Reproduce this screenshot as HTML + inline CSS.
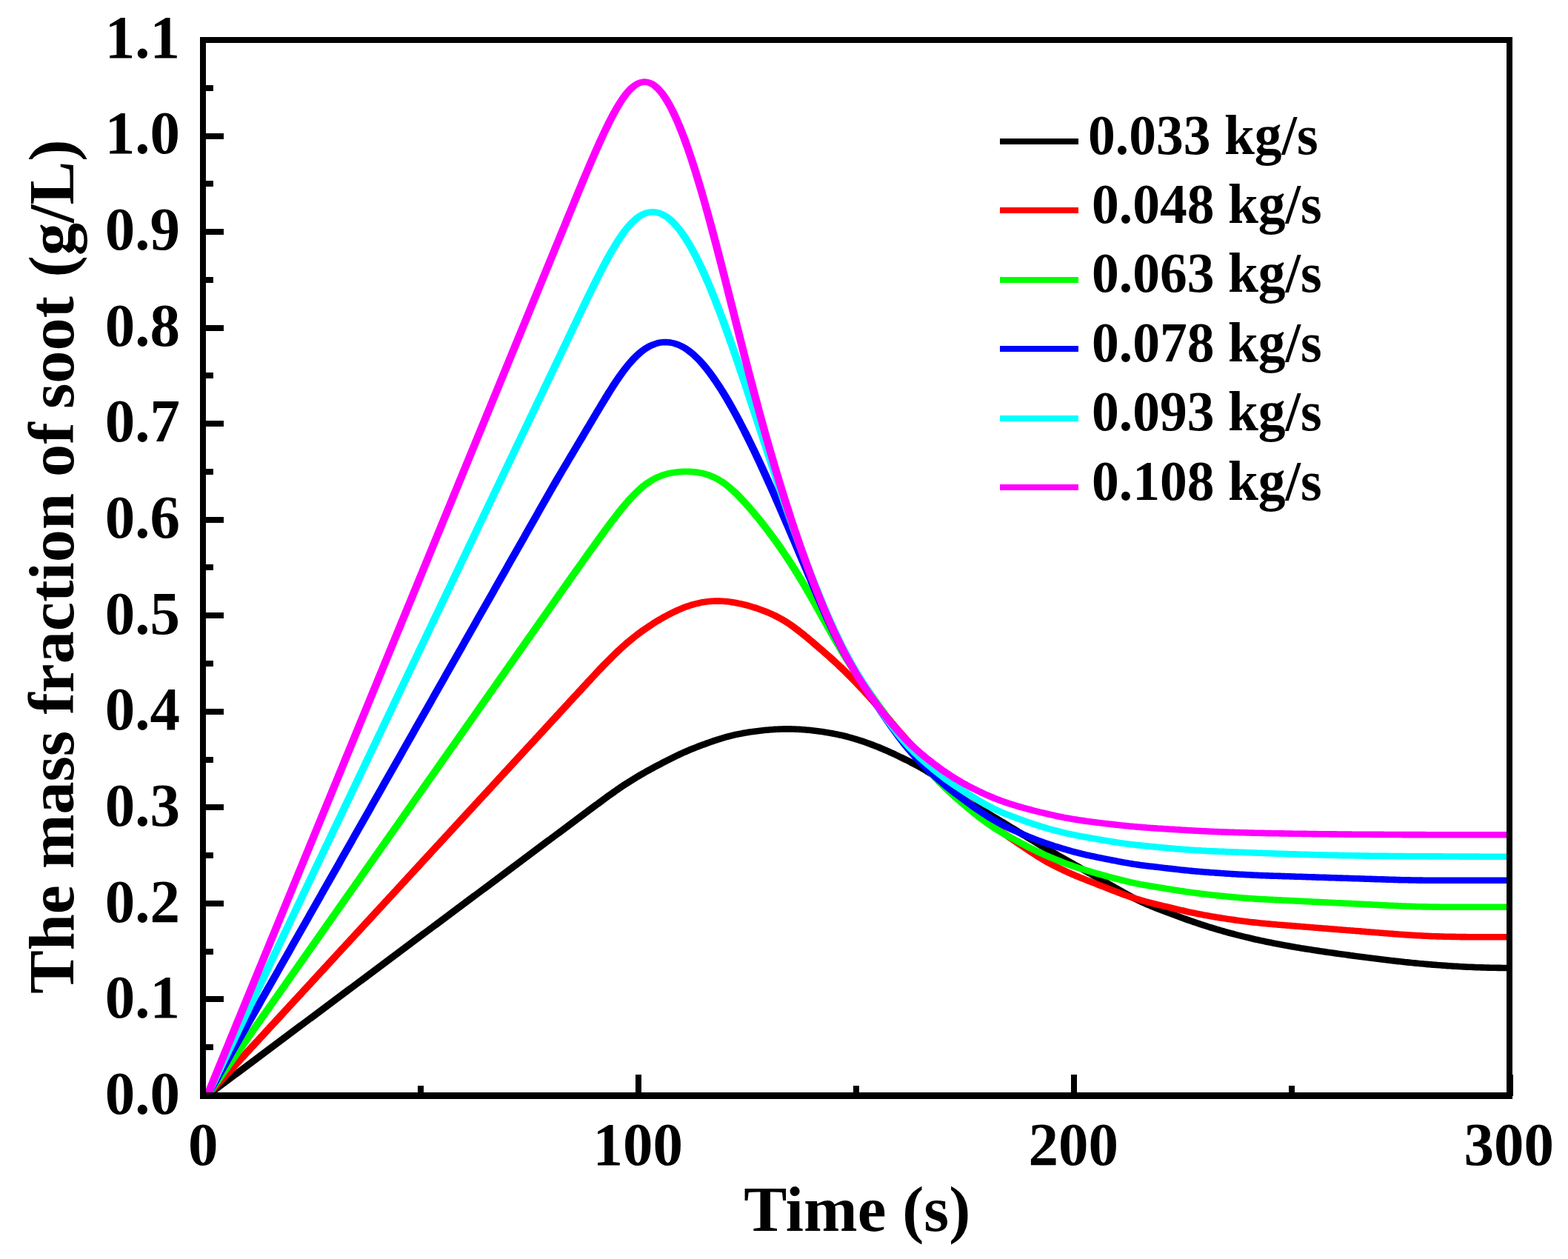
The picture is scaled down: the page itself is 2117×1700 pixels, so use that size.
<!DOCTYPE html>
<html lang="en"><head><meta charset="utf-8"><title>The mass fraction of soot vs time</title>
<style>
html,body{margin:0;padding:0;background:#fff;}
body{width:2117px;height:1700px;overflow:hidden;}
svg{display:block;}
text{font-family:"Liberation Serif",serif;font-weight:bold;fill:#000;}
.tk{font-size:83px;}
.tt{font-size:87.5px;}
.lg{font-size:76px;}
.cv{stroke:none;}
</style></head><body>
<svg width="2117" height="1700" viewBox="0 0 2117 1700" role="img" aria-label="The mass fraction of soot (g/L) versus Time (s) for six mass flow rates">
<rect x="0" y="0" width="2117" height="1700" fill="#fff"/>

<clipPath id="pc"><rect x="278" y="58" width="1760" height="1417"/></clipPath>
<g id="curves" clip-path="url(#pc)">
<path class="cv" fill="#000000" d="M282.8 1482.7 L284.8 1481.2 L286.8 1479.7 L288.8 1478.2 L290.8 1476.8 L292.8 1475.3 L294.8 1473.8 L296.8 1472.3 L298.8 1470.8 L300.8 1469.3 L302.8 1467.8 L304.8 1466.3 L306.8 1464.8 L308.8 1463.3 L310.8 1461.8 L312.8 1460.3 L314.8 1458.8 L316.8 1457.3 L318.8 1455.8 L320.8 1454.3 L322.8 1452.9 L324.8 1451.4 L326.8 1449.9 L328.8 1448.4 L330.8 1446.9 L332.8 1445.4 L334.8 1443.9 L336.8 1442.4 L338.8 1440.9 L340.8 1439.4 L342.8 1437.9 L344.8 1436.4 L346.8 1434.9 L348.8 1433.4 L350.8 1431.9 L352.8 1430.4 L354.8 1428.9 L356.8 1427.5 L358.8 1426.0 L360.8 1424.5 L362.8 1423.0 L364.8 1421.5 L366.8 1420.0 L368.8 1418.5 L370.8 1417.0 L372.8 1415.5 L374.8 1414.0 L376.8 1412.5 L378.8 1411.0 L380.8 1409.5 L382.8 1408.0 L384.8 1406.5 L386.8 1405.0 L388.8 1403.5 L390.8 1402.1 L392.8 1400.6 L394.8 1399.1 L396.8 1397.6 L398.8 1396.1 L400.8 1394.6 L402.8 1393.1 L404.8 1391.6 L406.8 1390.1 L408.8 1388.6 L410.8 1387.1 L412.8 1385.6 L414.8 1384.1 L416.8 1382.6 L418.8 1381.1 L420.8 1379.6 L422.8 1378.2 L424.8 1376.7 L426.8 1375.2 L428.8 1373.7 L430.8 1372.2 L432.8 1370.7 L434.8 1369.2 L436.8 1367.7 L438.8 1366.2 L440.8 1364.7 L442.8 1363.2 L444.8 1361.7 L446.8 1360.2 L448.8 1358.7 L450.8 1357.2 L452.8 1355.7 L454.8 1354.2 L456.8 1352.8 L458.8 1351.3 L460.8 1349.8 L462.8 1348.3 L464.8 1346.8 L466.8 1345.3 L468.8 1343.8 L470.8 1342.3 L472.8 1340.8 L474.8 1339.3 L476.8 1337.8 L478.8 1336.3 L480.8 1334.8 L482.8 1333.3 L484.8 1331.8 L486.8 1330.3 L488.8 1328.8 L490.8 1327.4 L492.8 1325.9 L494.8 1324.4 L496.8 1322.9 L498.8 1321.4 L500.8 1319.9 L502.8 1318.4 L504.8 1316.9 L506.8 1315.4 L508.8 1313.9 L510.8 1312.4 L512.8 1310.9 L514.8 1309.4 L516.8 1307.9 L518.8 1306.4 L520.8 1304.9 L522.8 1303.5 L524.8 1302.0 L526.8 1300.5 L528.8 1299.0 L530.8 1297.5 L532.8 1296.0 L534.8 1294.5 L536.8 1293.0 L538.8 1291.5 L540.8 1290.0 L542.8 1288.5 L544.8 1287.0 L546.8 1285.5 L548.8 1284.0 L550.8 1282.5 L552.8 1281.0 L554.8 1279.5 L556.8 1278.1 L558.8 1276.6 L560.8 1275.1 L562.8 1273.6 L564.8 1272.1 L566.8 1270.6 L568.8 1269.1 L570.8 1267.6 L572.8 1266.1 L574.8 1264.6 L576.8 1263.1 L578.8 1261.6 L580.8 1260.1 L582.8 1258.6 L584.8 1257.1 L586.8 1255.6 L588.8 1254.1 L590.8 1252.7 L592.8 1251.2 L594.8 1249.7 L596.8 1248.2 L598.8 1246.7 L600.8 1245.2 L602.8 1243.7 L604.8 1242.2 L606.8 1240.7 L608.8 1239.2 L610.8 1237.7 L612.8 1236.2 L614.8 1234.7 L616.8 1233.2 L618.8 1231.7 L620.8 1230.2 L622.8 1228.8 L624.8 1227.3 L626.8 1225.8 L628.8 1224.3 L630.8 1222.8 L632.8 1221.3 L634.8 1219.8 L636.8 1218.3 L638.8 1216.8 L640.8 1215.3 L642.8 1213.8 L644.8 1212.3 L646.8 1210.8 L648.8 1209.3 L650.8 1207.8 L652.8 1206.3 L654.8 1204.8 L656.8 1203.4 L658.8 1201.9 L660.8 1200.4 L662.8 1198.9 L664.8 1197.4 L666.8 1195.9 L668.8 1194.4 L670.8 1192.9 L672.8 1191.4 L674.8 1189.9 L676.8 1188.4 L678.8 1186.9 L680.8 1185.4 L682.8 1183.9 L684.8 1182.4 L686.8 1180.9 L688.8 1179.4 L690.8 1178.0 L692.8 1176.5 L694.8 1175.0 L696.8 1173.5 L698.8 1172.0 L700.8 1170.5 L702.8 1169.0 L704.8 1167.5 L706.8 1166.0 L708.8 1164.5 L710.8 1163.0 L712.8 1161.5 L714.8 1160.0 L716.8 1158.5 L718.8 1157.0 L720.8 1155.5 L722.8 1154.1 L724.8 1152.6 L726.8 1151.1 L728.8 1149.6 L730.8 1148.1 L732.8 1146.6 L734.8 1145.1 L736.8 1143.6 L738.8 1142.1 L740.8 1140.6 L742.8 1139.1 L744.8 1137.6 L746.8 1136.1 L748.8 1134.6 L750.8 1133.1 L752.8 1131.6 L754.8 1130.1 L756.8 1128.7 L758.8 1127.2 L760.8 1125.7 L762.8 1124.2 L764.8 1122.7 L766.8 1121.2 L768.8 1119.7 L770.8 1118.2 L772.8 1116.7 L774.8 1115.2 L776.8 1113.7 L778.8 1112.2 L780.8 1110.7 L782.8 1109.2 L784.8 1107.7 L786.8 1106.2 L788.8 1104.7 L790.8 1103.3 L792.8 1101.8 L794.8 1100.3 L796.8 1098.8 L798.8 1097.3 L800.8 1095.8 L802.8 1094.3 L804.8 1092.8 L806.8 1091.3 L808.8 1089.8 L810.8 1088.4 L812.8 1086.9 L814.8 1085.4 L816.7 1083.9 L818.7 1082.5 L820.7 1081.0 L822.7 1079.6 L824.7 1078.1 L826.7 1076.7 L828.7 1075.3 L830.7 1073.9 L832.7 1072.5 L834.6 1071.1 L836.6 1069.7 L838.6 1068.3 L840.6 1067.0 L842.6 1065.6 L844.5 1064.3 L846.5 1063.0 L848.5 1061.7 L850.5 1060.4 L852.5 1059.2 L854.4 1057.9 L856.4 1056.7 L858.4 1055.5 L860.4 1054.2 L862.3 1053.0 L864.3 1051.9 L866.3 1050.7 L868.3 1049.5 L870.3 1048.4 L872.2 1047.3 L874.2 1046.1 L876.2 1045.0 L878.2 1043.9 L880.2 1042.8 L882.2 1041.7 L884.2 1040.7 L886.1 1039.6 L888.1 1038.5 L890.1 1037.5 L892.1 1036.4 L894.1 1035.4 L896.1 1034.3 L898.1 1033.3 L900.1 1032.3 L902.0 1031.3 L904.0 1030.2 L906.0 1029.2 L908.0 1028.2 L910.0 1027.2 L912.0 1026.3 L914.0 1025.3 L915.9 1024.3 L917.9 1023.4 L919.9 1022.5 L921.9 1021.5 L923.8 1020.6 L925.8 1019.7 L927.8 1018.9 L929.8 1018.0 L931.7 1017.2 L933.7 1016.3 L935.7 1015.5 L937.7 1014.7 L939.6 1013.9 L941.6 1013.1 L943.6 1012.4 L945.6 1011.6 L947.5 1010.9 L949.5 1010.1 L951.5 1009.4 L953.5 1008.7 L955.5 1007.9 L957.5 1007.2 L959.5 1006.5 L961.4 1005.8 L963.4 1005.2 L965.4 1004.5 L967.4 1003.8 L969.4 1003.2 L971.3 1002.5 L973.3 1001.9 L975.3 1001.3 L977.2 1000.7 L979.2 1000.1 L981.2 999.6 L983.1 999.0 L985.1 998.5 L987.1 998.0 L989.0 997.5 L991.0 997.0 L993.0 996.6 L994.9 996.1 L996.9 995.7 L998.9 995.3 L1000.8 994.9 L1002.8 994.5 L1004.8 994.2 L1006.7 993.8 L1008.7 993.5 L1010.7 993.2 L1012.7 992.8 L1014.6 992.5 L1016.6 992.3 L1018.6 992.0 L1020.6 991.7 L1022.5 991.5 L1024.5 991.2 L1026.5 991.0 L1028.5 990.8 L1030.4 990.5 L1032.4 990.3 L1034.4 990.1 L1036.4 990.0 L1038.4 989.8 L1040.3 989.6 L1042.3 989.5 L1044.3 989.3 L1046.3 989.2 L1048.2 989.1 L1050.2 989.0 L1052.2 988.9 L1054.1 988.8 L1056.1 988.8 L1058.1 988.7 L1060.1 988.7 L1062.0 988.7 L1064.0 988.7 L1066.0 988.7 L1067.9 988.7 L1069.9 988.8 L1071.9 988.8 L1073.8 988.9 L1075.8 989.0 L1077.8 989.1 L1079.7 989.2 L1081.7 989.3 L1083.7 989.4 L1085.7 989.6 L1087.6 989.8 L1089.6 989.9 L1091.6 990.1 L1093.5 990.3 L1095.5 990.5 L1097.5 990.8 L1099.5 991.0 L1101.5 991.3 L1103.4 991.5 L1105.4 991.8 L1107.4 992.1 L1109.4 992.3 L1111.3 992.6 L1113.3 992.9 L1115.3 993.3 L1117.3 993.6 L1119.3 993.9 L1121.2 994.3 L1123.2 994.7 L1125.2 995.0 L1127.2 995.4 L1129.1 995.8 L1131.1 996.2 L1133.1 996.7 L1135.0 997.1 L1137.0 997.6 L1139.0 998.1 L1140.9 998.6 L1142.9 999.1 L1144.9 999.6 L1146.8 1000.1 L1148.8 1000.7 L1150.8 1001.3 L1152.7 1001.8 L1154.7 1002.4 L1156.7 1003.1 L1158.7 1003.7 L1160.6 1004.3 L1162.6 1005.0 L1164.6 1005.6 L1166.6 1006.3 L1168.5 1007.0 L1170.5 1007.7 L1172.5 1008.4 L1174.5 1009.2 L1176.4 1009.9 L1178.4 1010.7 L1180.4 1011.5 L1182.4 1012.2 L1184.3 1013.0 L1186.3 1013.9 L1188.3 1014.7 L1190.3 1015.5 L1192.2 1016.4 L1194.2 1017.2 L1196.2 1018.1 L1198.2 1019.0 L1200.2 1019.9 L1202.1 1020.8 L1204.1 1021.7 L1206.1 1022.6 L1208.1 1023.6 L1210.1 1024.5 L1212.1 1025.5 L1214.0 1026.4 L1216.0 1027.4 L1218.0 1028.4 L1220.0 1029.4 L1222.0 1030.3 L1224.0 1031.3 L1226.0 1032.3 L1227.9 1033.4 L1229.9 1034.4 L1231.9 1035.4 L1233.9 1036.5 L1235.8 1037.5 L1237.8 1038.6 L1239.8 1039.7 L1241.8 1040.8 L1243.7 1042.0 L1245.7 1043.1 L1247.7 1044.3 L1249.6 1045.5 L1251.6 1046.7 L1253.6 1047.9 L1255.5 1049.2 L1257.5 1050.5 L1259.5 1051.8 L1261.4 1053.1 L1263.4 1054.4 L1265.4 1055.8 L1267.4 1057.1 L1269.3 1058.5 L1271.3 1059.9 L1273.3 1061.3 L1275.3 1062.8 L1277.3 1064.2 L1279.3 1065.7 L1281.3 1067.1 L1283.2 1068.6 L1285.2 1070.1 L1287.2 1071.5 L1289.2 1073.0 L1291.2 1074.5 L1293.2 1076.0 L1295.2 1077.5 L1297.3 1078.9 L1299.3 1080.4 L1301.3 1081.8 L1303.3 1083.3 L1305.3 1084.7 L1307.3 1086.2 L1309.3 1087.6 L1311.4 1089.0 L1313.4 1090.4 L1315.4 1091.8 L1317.4 1093.1 L1319.4 1094.5 L1321.5 1095.8 L1323.5 1097.1 L1325.5 1098.4 L1327.5 1099.7 L1329.6 1101.0 L1331.6 1102.2 L1333.6 1103.5 L1335.6 1104.7 L1337.6 1106.0 L1339.6 1107.2 L1341.6 1108.4 L1343.6 1109.6 L1345.6 1110.8 L1347.6 1112.0 L1349.6 1113.2 L1351.6 1114.5 L1353.6 1115.7 L1355.6 1116.9 L1357.6 1118.1 L1359.6 1119.3 L1361.6 1120.5 L1363.6 1121.7 L1365.6 1122.9 L1367.6 1124.1 L1369.6 1125.3 L1371.6 1126.5 L1373.6 1127.8 L1375.6 1129.0 L1377.6 1130.2 L1379.6 1131.4 L1381.6 1132.6 L1383.6 1133.8 L1385.6 1135.0 L1387.6 1136.2 L1389.6 1137.4 L1391.6 1138.6 L1393.6 1139.8 L1395.6 1141.1 L1397.6 1142.3 L1399.7 1143.5 L1401.7 1144.7 L1403.7 1145.9 L1405.7 1147.1 L1407.7 1148.2 L1409.7 1149.4 L1411.7 1150.6 L1413.7 1151.8 L1415.7 1152.9 L1417.7 1154.1 L1419.7 1155.2 L1421.7 1156.4 L1423.7 1157.5 L1425.8 1158.7 L1427.8 1159.8 L1429.8 1160.9 L1431.8 1162.1 L1433.8 1163.2 L1435.8 1164.3 L1437.8 1165.5 L1439.8 1166.6 L1441.8 1167.7 L1443.8 1168.9 L1445.8 1170.0 L1447.8 1171.1 L1449.8 1172.3 L1451.8 1173.4 L1453.8 1174.5 L1455.8 1175.7 L1457.8 1176.8 L1459.8 1177.9 L1461.8 1179.1 L1463.8 1180.2 L1465.8 1181.3 L1467.8 1182.5 L1469.8 1183.6 L1471.8 1184.7 L1473.8 1185.9 L1475.8 1187.0 L1477.8 1188.1 L1479.8 1189.3 L1481.8 1190.4 L1483.8 1191.5 L1485.8 1192.6 L1487.8 1193.8 L1489.8 1194.9 L1491.8 1196.0 L1493.8 1197.2 L1495.8 1198.3 L1497.8 1199.4 L1499.8 1200.6 L1501.8 1201.7 L1503.8 1202.8 L1505.8 1204.0 L1507.8 1205.1 L1509.8 1206.2 L1511.8 1207.4 L1513.8 1208.5 L1515.8 1209.6 L1517.8 1210.8 L1519.8 1211.9 L1521.8 1213.0 L1523.9 1214.1 L1525.9 1215.1 L1527.9 1216.2 L1529.9 1217.2 L1532.0 1218.3 L1534.0 1219.3 L1536.1 1220.3 L1538.1 1221.2 L1540.1 1222.2 L1542.2 1223.1 L1544.2 1224.0 L1546.2 1224.9 L1548.3 1225.7 L1550.3 1226.6 L1552.3 1227.4 L1554.3 1228.3 L1556.3 1229.1 L1558.4 1229.9 L1560.4 1230.7 L1562.4 1231.5 L1564.4 1232.2 L1566.4 1233.0 L1568.4 1233.8 L1570.4 1234.6 L1572.4 1235.3 L1574.4 1236.1 L1576.4 1236.8 L1578.4 1237.6 L1580.5 1238.3 L1582.5 1239.1 L1584.5 1239.8 L1586.5 1240.6 L1588.5 1241.3 L1590.5 1242.1 L1592.5 1242.8 L1594.5 1243.5 L1596.5 1244.2 L1598.5 1244.9 L1600.5 1245.7 L1602.5 1246.4 L1604.5 1247.1 L1606.6 1247.8 L1608.6 1248.5 L1610.6 1249.2 L1612.6 1249.8 L1614.6 1250.5 L1616.6 1251.2 L1618.6 1251.9 L1620.6 1252.5 L1622.6 1253.2 L1624.7 1253.8 L1626.7 1254.5 L1628.7 1255.1 L1630.7 1255.7 L1632.7 1256.4 L1634.7 1257.0 L1636.7 1257.6 L1638.7 1258.2 L1640.7 1258.8 L1642.8 1259.4 L1644.8 1260.0 L1646.8 1260.6 L1648.8 1261.1 L1650.8 1261.7 L1652.8 1262.3 L1654.8 1262.8 L1656.8 1263.4 L1658.9 1264.0 L1660.9 1264.5 L1662.9 1265.0 L1664.9 1265.6 L1666.9 1266.1 L1668.9 1266.6 L1670.9 1267.1 L1672.9 1267.6 L1674.9 1268.1 L1677.0 1268.6 L1679.0 1269.1 L1681.0 1269.6 L1683.0 1270.1 L1685.0 1270.6 L1687.0 1271.1 L1689.0 1271.5 L1691.0 1272.0 L1693.0 1272.4 L1695.1 1272.9 L1697.1 1273.3 L1699.1 1273.8 L1701.1 1274.2 L1703.1 1274.6 L1705.1 1275.1 L1707.1 1275.5 L1709.1 1275.9 L1711.1 1276.3 L1713.1 1276.7 L1715.1 1277.1 L1717.2 1277.5 L1719.2 1277.9 L1721.2 1278.3 L1723.2 1278.7 L1725.2 1279.1 L1727.2 1279.5 L1729.2 1279.8 L1731.2 1280.2 L1733.2 1280.6 L1735.2 1281.0 L1737.2 1281.3 L1739.2 1281.7 L1741.3 1282.0 L1743.3 1282.4 L1745.3 1282.7 L1747.3 1283.1 L1749.3 1283.4 L1751.3 1283.7 L1753.3 1284.1 L1755.3 1284.4 L1757.3 1284.7 L1759.3 1285.1 L1761.3 1285.4 L1763.3 1285.7 L1765.3 1286.0 L1767.3 1286.3 L1769.3 1286.6 L1771.3 1287.0 L1773.3 1287.3 L1775.3 1287.6 L1777.4 1287.9 L1779.4 1288.2 L1781.4 1288.5 L1783.4 1288.8 L1785.4 1289.1 L1787.4 1289.4 L1789.4 1289.7 L1791.4 1290.0 L1793.4 1290.2 L1795.4 1290.5 L1797.4 1290.8 L1799.4 1291.1 L1801.4 1291.4 L1803.4 1291.7 L1805.4 1292.0 L1807.4 1292.2 L1809.4 1292.5 L1811.4 1292.8 L1813.4 1293.1 L1815.4 1293.3 L1817.4 1293.6 L1819.4 1293.9 L1821.4 1294.2 L1823.4 1294.4 L1825.4 1294.7 L1827.4 1295.0 L1829.4 1295.2 L1831.4 1295.5 L1833.4 1295.8 L1835.4 1296.0 L1837.4 1296.3 L1839.4 1296.5 L1841.4 1296.8 L1843.4 1297.1 L1845.5 1297.3 L1847.5 1297.6 L1849.5 1297.8 L1851.5 1298.1 L1853.5 1298.3 L1855.5 1298.6 L1857.5 1298.8 L1859.5 1299.1 L1861.5 1299.3 L1863.5 1299.6 L1865.5 1299.8 L1867.5 1300.1 L1869.5 1300.3 L1871.5 1300.5 L1873.5 1300.8 L1875.5 1301.0 L1877.5 1301.3 L1879.5 1301.5 L1881.5 1301.7 L1883.5 1301.9 L1885.5 1302.2 L1887.5 1302.4 L1889.5 1302.6 L1891.5 1302.8 L1893.5 1303.0 L1895.5 1303.3 L1897.5 1303.5 L1899.6 1303.7 L1901.6 1303.9 L1903.6 1304.1 L1905.6 1304.3 L1907.6 1304.5 L1909.6 1304.7 L1911.6 1304.9 L1913.6 1305.1 L1915.6 1305.3 L1917.6 1305.5 L1919.6 1305.6 L1921.6 1305.8 L1923.6 1306.0 L1925.6 1306.2 L1927.6 1306.4 L1929.6 1306.5 L1931.6 1306.7 L1933.6 1306.9 L1935.7 1307.0 L1937.7 1307.2 L1939.7 1307.3 L1941.7 1307.5 L1943.7 1307.6 L1945.7 1307.8 L1947.7 1307.9 L1949.7 1308.1 L1951.7 1308.2 L1953.7 1308.4 L1955.7 1308.5 L1957.7 1308.6 L1959.7 1308.7 L1961.7 1308.9 L1963.7 1309.0 L1965.7 1309.1 L1967.8 1309.2 L1969.8 1309.3 L1971.8 1309.4 L1973.8 1309.6 L1975.8 1309.7 L1977.8 1309.8 L1979.8 1309.9 L1981.8 1310.0 L1983.8 1310.0 L1985.8 1310.1 L1987.8 1310.2 L1989.8 1310.3 L1991.8 1310.4 L1993.8 1310.4 L1995.8 1310.5 L1997.9 1310.6 L1999.9 1310.7 L2001.9 1310.7 L2003.9 1310.8 L2005.9 1310.8 L2007.9 1310.9 L2009.9 1310.9 L2011.9 1311.0 L2013.9 1311.0 L2015.9 1311.1 L2017.9 1311.1 L2019.9 1311.1 L2021.9 1311.2 L2023.9 1311.2 L2025.9 1311.2 L2028.0 1311.3 L2030.0 1311.3 L2032.0 1311.3 L2034.0 1311.3 L2036.0 1311.3 L2038.0 1311.3 L2038.0 1302.7 L2036.0 1302.7 L2034.0 1302.7 L2032.0 1302.7 L2030.0 1302.7 L2028.0 1302.7 L2026.1 1302.6 L2024.1 1302.6 L2022.1 1302.6 L2020.1 1302.5 L2018.1 1302.5 L2016.1 1302.5 L2014.1 1302.4 L2012.1 1302.4 L2010.1 1302.3 L2008.1 1302.3 L2006.1 1302.2 L2004.1 1302.2 L2002.1 1302.1 L2000.1 1302.1 L1998.1 1302.0 L1996.2 1301.9 L1994.2 1301.9 L1992.2 1301.8 L1990.2 1301.7 L1988.2 1301.6 L1986.2 1301.5 L1984.2 1301.4 L1982.2 1301.4 L1980.2 1301.3 L1978.2 1301.2 L1976.2 1301.1 L1974.2 1301.0 L1972.2 1300.9 L1970.2 1300.7 L1968.2 1300.6 L1966.3 1300.5 L1964.3 1300.4 L1962.3 1300.3 L1960.3 1300.2 L1958.3 1300.0 L1956.3 1299.9 L1954.3 1299.8 L1952.3 1299.6 L1950.3 1299.5 L1948.3 1299.3 L1946.3 1299.2 L1944.3 1299.1 L1942.3 1298.9 L1940.3 1298.8 L1938.3 1298.6 L1936.3 1298.4 L1934.4 1298.3 L1932.4 1298.1 L1930.4 1297.9 L1928.4 1297.8 L1926.4 1297.6 L1924.4 1297.4 L1922.4 1297.2 L1920.4 1297.1 L1918.4 1296.9 L1916.4 1296.7 L1914.4 1296.5 L1912.4 1296.3 L1910.4 1296.1 L1908.4 1295.9 L1906.4 1295.7 L1904.4 1295.5 L1902.4 1295.3 L1900.4 1295.1 L1898.5 1294.9 L1896.5 1294.7 L1894.5 1294.5 L1892.5 1294.3 L1890.5 1294.0 L1888.5 1293.8 L1886.5 1293.6 L1884.5 1293.4 L1882.5 1293.1 L1880.5 1292.9 L1878.5 1292.7 L1876.5 1292.4 L1874.5 1292.2 L1872.5 1292.0 L1870.5 1291.7 L1868.5 1291.5 L1866.5 1291.3 L1864.5 1291.0 L1862.5 1290.8 L1860.5 1290.5 L1858.5 1290.3 L1856.5 1290.0 L1854.5 1289.8 L1852.5 1289.5 L1850.5 1289.3 L1848.5 1289.0 L1846.5 1288.8 L1844.6 1288.5 L1842.6 1288.2 L1840.6 1288.0 L1838.6 1287.7 L1836.6 1287.5 L1834.6 1287.2 L1832.6 1286.9 L1830.6 1286.7 L1828.6 1286.4 L1826.6 1286.1 L1824.6 1285.9 L1822.6 1285.6 L1820.6 1285.3 L1818.6 1285.1 L1816.6 1284.8 L1814.6 1284.5 L1812.6 1284.2 L1810.6 1284.0 L1808.6 1283.7 L1806.6 1283.4 L1804.6 1283.1 L1802.6 1282.8 L1800.6 1282.6 L1798.6 1282.3 L1796.6 1282.0 L1794.6 1281.7 L1792.6 1281.4 L1790.6 1281.1 L1788.6 1280.8 L1786.6 1280.5 L1784.6 1280.2 L1782.6 1279.9 L1780.6 1279.6 L1778.6 1279.3 L1776.7 1279.0 L1774.7 1278.7 L1772.7 1278.4 L1770.7 1278.1 L1768.7 1277.8 L1766.7 1277.5 L1764.7 1277.2 L1762.7 1276.8 L1760.7 1276.5 L1758.7 1276.2 L1756.7 1275.9 L1754.7 1275.5 L1752.7 1275.2 L1750.7 1274.9 L1748.7 1274.5 L1746.7 1274.2 L1744.7 1273.8 L1742.7 1273.5 L1740.8 1273.1 L1738.8 1272.8 L1736.8 1272.4 L1734.8 1272.1 L1732.8 1271.7 L1730.8 1271.3 L1728.8 1271.0 L1726.8 1270.6 L1724.8 1270.2 L1722.8 1269.8 L1720.8 1269.4 L1718.8 1269.0 L1716.9 1268.6 L1714.9 1268.2 L1712.9 1267.8 L1710.9 1267.4 L1708.9 1267.0 L1706.9 1266.6 L1704.9 1266.2 L1702.9 1265.7 L1700.9 1265.3 L1698.9 1264.8 L1696.9 1264.4 L1695.0 1264.0 L1693.0 1263.5 L1691.0 1263.0 L1689.0 1262.6 L1687.0 1262.1 L1685.0 1261.6 L1683.0 1261.2 L1681.0 1260.7 L1679.0 1260.2 L1677.1 1259.7 L1675.1 1259.2 L1673.1 1258.7 L1671.1 1258.2 L1669.1 1257.7 L1667.1 1257.1 L1665.1 1256.6 L1663.1 1256.1 L1661.1 1255.5 L1659.2 1255.0 L1657.2 1254.4 L1655.2 1253.9 L1653.2 1253.3 L1651.2 1252.7 L1649.2 1252.2 L1647.2 1251.6 L1645.2 1251.0 L1643.3 1250.4 L1641.3 1249.8 L1639.3 1249.2 L1637.3 1248.6 L1635.3 1248.0 L1633.3 1247.4 L1631.3 1246.7 L1629.3 1246.1 L1627.3 1245.5 L1625.4 1244.8 L1623.4 1244.2 L1621.4 1243.5 L1619.4 1242.8 L1617.4 1242.2 L1615.4 1241.5 L1613.4 1240.8 L1611.4 1240.1 L1609.4 1239.4 L1607.5 1238.8 L1605.5 1238.1 L1603.5 1237.3 L1601.5 1236.6 L1599.5 1235.9 L1597.5 1235.2 L1595.5 1234.5 L1593.5 1233.8 L1591.5 1233.0 L1589.5 1232.3 L1587.5 1231.5 L1585.5 1230.8 L1583.5 1230.1 L1581.6 1229.3 L1579.6 1228.6 L1577.6 1227.8 L1575.6 1227.0 L1573.6 1226.3 L1571.6 1225.5 L1569.6 1224.8 L1567.6 1224.0 L1565.6 1223.2 L1563.6 1222.4 L1561.6 1221.6 L1559.7 1220.8 L1557.7 1220.0 L1555.7 1219.2 L1553.7 1218.4 L1551.7 1217.5 L1549.8 1216.7 L1547.8 1215.8 L1545.8 1214.9 L1543.9 1214.0 L1541.9 1213.1 L1539.9 1212.2 L1538.0 1211.2 L1536.0 1210.2 L1534.1 1209.2 L1532.1 1208.2 L1530.1 1207.2 L1528.1 1206.1 L1526.2 1205.0 L1524.2 1203.9 L1522.2 1202.8 L1520.2 1201.7 L1518.2 1200.6 L1516.2 1199.5 L1514.2 1198.3 L1512.2 1197.2 L1510.2 1196.1 L1508.2 1194.9 L1506.2 1193.8 L1504.2 1192.7 L1502.2 1191.5 L1500.2 1190.4 L1498.2 1189.3 L1496.2 1188.1 L1494.2 1187.0 L1492.2 1185.9 L1490.2 1184.7 L1488.2 1183.6 L1486.2 1182.5 L1484.2 1181.3 L1482.2 1180.2 L1480.2 1179.1 L1478.2 1177.9 L1476.2 1176.8 L1474.2 1175.7 L1472.2 1174.6 L1470.2 1173.4 L1468.2 1172.3 L1466.2 1171.2 L1464.2 1170.0 L1462.2 1168.9 L1460.2 1167.8 L1458.2 1166.6 L1456.2 1165.5 L1454.2 1164.4 L1452.2 1163.2 L1450.2 1162.1 L1448.2 1161.0 L1446.2 1159.8 L1444.2 1158.7 L1442.2 1157.6 L1440.2 1156.4 L1438.2 1155.3 L1436.2 1154.2 L1434.2 1153.0 L1432.2 1151.9 L1430.2 1150.8 L1428.3 1149.6 L1426.3 1148.5 L1424.3 1147.3 L1422.3 1146.2 L1420.3 1145.0 L1418.3 1143.9 L1416.3 1142.7 L1414.3 1141.6 L1412.3 1140.4 L1410.3 1139.2 L1408.3 1138.0 L1406.3 1136.8 L1404.3 1135.6 L1402.4 1134.4 L1400.4 1133.2 L1398.4 1132.0 L1396.4 1130.8 L1394.4 1129.6 L1392.4 1128.4 L1390.4 1127.2 L1388.4 1126.0 L1386.4 1124.8 L1384.4 1123.6 L1382.4 1122.4 L1380.4 1121.1 L1378.4 1119.9 L1376.4 1118.7 L1374.4 1117.5 L1372.4 1116.3 L1370.4 1115.1 L1368.4 1113.9 L1366.4 1112.7 L1364.4 1111.5 L1362.4 1110.3 L1360.4 1109.1 L1358.4 1107.8 L1356.4 1106.6 L1354.4 1105.4 L1352.4 1104.2 L1350.4 1103.0 L1348.4 1101.8 L1346.4 1100.6 L1344.4 1099.4 L1342.4 1098.2 L1340.4 1096.9 L1338.4 1095.7 L1336.4 1094.5 L1334.4 1093.2 L1332.5 1092.0 L1330.5 1090.7 L1328.5 1089.4 L1326.5 1088.1 L1324.6 1086.8 L1322.6 1085.5 L1320.6 1084.1 L1318.6 1082.8 L1316.6 1081.4 L1314.7 1080.0 L1312.7 1078.6 L1310.7 1077.2 L1308.7 1075.8 L1306.7 1074.3 L1304.7 1072.9 L1302.7 1071.4 L1300.8 1070.0 L1298.8 1068.5 L1296.8 1067.0 L1294.8 1065.5 L1292.8 1064.1 L1290.8 1062.6 L1288.8 1061.1 L1286.7 1059.6 L1284.7 1058.2 L1282.7 1056.7 L1280.7 1055.2 L1278.7 1053.8 L1276.7 1052.4 L1274.7 1050.9 L1272.6 1049.5 L1270.6 1048.1 L1268.6 1046.8 L1266.6 1045.4 L1264.5 1044.1 L1262.5 1042.8 L1260.5 1041.5 L1258.4 1040.2 L1256.4 1038.9 L1254.4 1037.7 L1252.3 1036.5 L1250.3 1035.3 L1248.3 1034.1 L1246.2 1032.9 L1244.2 1031.8 L1242.2 1030.7 L1240.2 1029.6 L1238.1 1028.5 L1236.1 1027.4 L1234.1 1026.4 L1232.1 1025.3 L1230.0 1024.3 L1228.0 1023.3 L1226.0 1022.3 L1224.0 1021.3 L1222.0 1020.3 L1220.0 1019.3 L1218.0 1018.4 L1215.9 1017.4 L1213.9 1016.4 L1211.9 1015.5 L1209.9 1014.5 L1207.9 1013.6 L1205.9 1012.7 L1203.8 1011.8 L1201.8 1010.8 L1199.8 1009.9 L1197.8 1009.1 L1195.8 1008.2 L1193.7 1007.3 L1191.7 1006.5 L1189.7 1005.6 L1187.7 1004.8 L1185.6 1004.0 L1183.6 1003.2 L1181.6 1002.4 L1179.6 1001.6 L1177.5 1000.9 L1175.5 1000.1 L1173.5 999.4 L1171.5 998.7 L1169.4 998.0 L1167.4 997.3 L1165.4 996.6 L1163.4 996.0 L1161.3 995.3 L1159.3 994.7 L1157.3 994.1 L1155.3 993.4 L1153.2 992.9 L1151.2 992.3 L1149.2 991.7 L1147.1 991.2 L1145.1 990.6 L1143.1 990.1 L1141.0 989.6 L1139.0 989.1 L1137.0 988.6 L1134.9 988.2 L1132.9 987.8 L1130.9 987.3 L1128.8 986.9 L1126.8 986.5 L1124.8 986.1 L1122.8 985.8 L1120.7 985.4 L1118.7 985.1 L1116.7 984.7 L1114.7 984.4 L1112.7 984.1 L1110.6 983.8 L1108.6 983.5 L1106.6 983.2 L1104.6 983.0 L1102.5 982.7 L1100.5 982.4 L1098.5 982.2 L1096.5 982.0 L1094.5 981.8 L1092.4 981.6 L1090.4 981.4 L1088.4 981.2 L1086.3 981.0 L1084.3 980.9 L1082.3 980.7 L1080.3 980.6 L1078.2 980.5 L1076.2 980.4 L1074.2 980.3 L1072.1 980.2 L1070.1 980.2 L1068.1 980.1 L1066.0 980.1 L1064.0 980.1 L1062.0 980.1 L1059.9 980.1 L1057.9 980.1 L1055.9 980.2 L1053.9 980.2 L1051.8 980.3 L1049.8 980.4 L1047.8 980.5 L1045.7 980.6 L1043.7 980.8 L1041.7 980.9 L1039.7 981.0 L1037.6 981.2 L1035.6 981.4 L1033.6 981.6 L1031.6 981.8 L1029.6 982.0 L1027.5 982.2 L1025.5 982.4 L1023.5 982.7 L1021.5 982.9 L1019.4 983.2 L1017.4 983.4 L1015.4 983.7 L1013.4 984.0 L1011.3 984.3 L1009.3 984.6 L1007.3 984.9 L1005.3 985.3 L1003.2 985.6 L1001.2 986.0 L999.2 986.4 L997.1 986.8 L995.1 987.2 L993.1 987.6 L991.0 988.1 L989.0 988.6 L987.0 989.0 L984.9 989.5 L982.9 990.1 L980.9 990.6 L978.8 991.1 L976.8 991.7 L974.8 992.3 L972.7 992.9 L970.7 993.5 L968.7 994.2 L966.6 994.8 L964.6 995.5 L962.6 996.1 L960.6 996.8 L958.6 997.5 L956.5 998.2 L954.5 998.9 L952.5 999.6 L950.5 1000.4 L948.5 1001.1 L946.5 1001.8 L944.5 1002.6 L942.4 1003.3 L940.4 1004.1 L938.4 1004.9 L936.4 1005.7 L934.3 1006.5 L932.3 1007.3 L930.3 1008.1 L928.3 1009.0 L926.2 1009.8 L924.2 1010.7 L922.2 1011.6 L920.2 1012.5 L918.1 1013.4 L916.1 1014.3 L914.1 1015.3 L912.1 1016.2 L910.0 1017.2 L908.0 1018.2 L906.0 1019.2 L904.0 1020.2 L902.0 1021.2 L900.0 1022.2 L898.0 1023.2 L895.9 1024.3 L893.9 1025.3 L891.9 1026.3 L889.9 1027.4 L887.9 1028.4 L885.9 1029.5 L883.9 1030.5 L881.9 1031.6 L879.8 1032.7 L877.8 1033.8 L875.8 1034.9 L873.8 1036.0 L871.8 1037.1 L869.8 1038.2 L867.8 1039.4 L865.7 1040.5 L863.7 1041.7 L861.7 1042.8 L859.7 1044.0 L857.7 1045.2 L855.6 1046.4 L853.6 1047.7 L851.6 1048.9 L849.6 1050.2 L847.5 1051.4 L845.5 1052.7 L843.5 1054.0 L841.5 1055.3 L839.5 1056.6 L837.4 1058.0 L835.4 1059.3 L833.4 1060.7 L831.4 1062.1 L829.4 1063.5 L827.3 1064.9 L825.3 1066.3 L823.3 1067.7 L821.3 1069.2 L819.3 1070.6 L817.3 1072.1 L815.3 1073.5 L813.3 1075.0 L811.3 1076.4 L809.2 1077.9 L807.2 1079.4 L805.2 1080.9 L803.2 1082.4 L801.2 1083.8 L799.2 1085.3 L797.2 1086.8 L795.2 1088.3 L793.2 1089.8 L791.2 1091.3 L789.2 1092.8 L787.2 1094.3 L785.2 1095.8 L783.2 1097.3 L781.2 1098.8 L779.2 1100.3 L777.2 1101.8 L775.2 1103.3 L773.2 1104.8 L771.2 1106.3 L769.2 1107.7 L767.2 1109.2 L765.2 1110.7 L763.2 1112.2 L761.2 1113.7 L759.2 1115.2 L757.2 1116.7 L755.2 1118.2 L753.2 1119.7 L751.2 1121.2 L749.2 1122.7 L747.2 1124.2 L745.2 1125.7 L743.2 1127.2 L741.2 1128.7 L739.2 1130.2 L737.2 1131.6 L735.2 1133.1 L733.2 1134.6 L731.2 1136.1 L729.2 1137.6 L727.2 1139.1 L725.2 1140.6 L723.2 1142.1 L721.2 1143.6 L719.2 1145.1 L717.2 1146.6 L715.2 1148.1 L713.2 1149.6 L711.2 1151.1 L709.2 1152.6 L707.2 1154.1 L705.2 1155.6 L703.2 1157.0 L701.2 1158.5 L699.2 1160.0 L697.2 1161.5 L695.2 1163.0 L693.2 1164.5 L691.2 1166.0 L689.2 1167.5 L687.2 1169.0 L685.2 1170.5 L683.2 1172.0 L681.2 1173.5 L679.2 1175.0 L677.2 1176.5 L675.2 1178.0 L673.2 1179.5 L671.2 1181.0 L669.2 1182.4 L667.2 1183.9 L665.2 1185.4 L663.2 1186.9 L661.2 1188.4 L659.2 1189.9 L657.2 1191.4 L655.2 1192.9 L653.2 1194.4 L651.2 1195.9 L649.2 1197.4 L647.2 1198.9 L645.2 1200.4 L643.2 1201.9 L641.2 1203.4 L639.2 1204.9 L637.2 1206.3 L635.2 1207.8 L633.2 1209.3 L631.2 1210.8 L629.2 1212.3 L627.2 1213.8 L625.2 1215.3 L623.2 1216.8 L621.2 1218.3 L619.2 1219.8 L617.2 1221.3 L615.2 1222.8 L613.2 1224.3 L611.2 1225.8 L609.2 1227.3 L607.2 1228.8 L605.2 1230.3 L603.2 1231.7 L601.2 1233.2 L599.2 1234.7 L597.2 1236.2 L595.2 1237.7 L593.2 1239.2 L591.2 1240.7 L589.2 1242.2 L587.2 1243.7 L585.2 1245.2 L583.2 1246.7 L581.2 1248.2 L579.2 1249.7 L577.2 1251.2 L575.2 1252.7 L573.2 1254.2 L571.2 1255.7 L569.2 1257.1 L567.2 1258.6 L565.2 1260.1 L563.2 1261.6 L561.2 1263.1 L559.2 1264.6 L557.2 1266.1 L555.2 1267.6 L553.2 1269.1 L551.2 1270.6 L549.2 1272.1 L547.2 1273.6 L545.2 1275.1 L543.2 1276.6 L541.2 1278.1 L539.2 1279.6 L537.2 1281.0 L535.2 1282.5 L533.2 1284.0 L531.2 1285.5 L529.2 1287.0 L527.2 1288.5 L525.2 1290.0 L523.2 1291.5 L521.2 1293.0 L519.2 1294.5 L517.2 1296.0 L515.2 1297.5 L513.2 1299.0 L511.2 1300.5 L509.2 1302.0 L507.2 1303.5 L505.2 1305.0 L503.2 1306.4 L501.2 1307.9 L499.2 1309.4 L497.2 1310.9 L495.2 1312.4 L493.2 1313.9 L491.2 1315.4 L489.2 1316.9 L487.2 1318.4 L485.2 1319.9 L483.2 1321.4 L481.2 1322.9 L479.2 1324.4 L477.2 1325.9 L475.2 1327.4 L473.2 1328.9 L471.2 1330.4 L469.2 1331.8 L467.2 1333.3 L465.2 1334.8 L463.2 1336.3 L461.2 1337.8 L459.2 1339.3 L457.2 1340.8 L455.2 1342.3 L453.2 1343.8 L451.2 1345.3 L449.2 1346.8 L447.2 1348.3 L445.2 1349.8 L443.2 1351.3 L441.2 1352.8 L439.2 1354.3 L437.2 1355.7 L435.2 1357.2 L433.2 1358.7 L431.2 1360.2 L429.2 1361.7 L427.2 1363.2 L425.2 1364.7 L423.2 1366.2 L421.2 1367.7 L419.2 1369.2 L417.2 1370.7 L415.2 1372.2 L413.2 1373.7 L411.2 1375.2 L409.2 1376.7 L407.2 1378.2 L405.2 1379.7 L403.2 1381.1 L401.2 1382.6 L399.2 1384.1 L397.2 1385.6 L395.2 1387.1 L393.2 1388.6 L391.2 1390.1 L389.2 1391.6 L387.2 1393.1 L385.2 1394.6 L383.2 1396.1 L381.2 1397.6 L379.2 1399.1 L377.2 1400.6 L375.2 1402.1 L373.2 1403.6 L371.2 1405.1 L369.2 1406.5 L367.2 1408.0 L365.2 1409.5 L363.2 1411.0 L361.2 1412.5 L359.2 1414.0 L357.2 1415.5 L355.2 1417.0 L353.2 1418.5 L351.2 1420.0 L349.2 1421.5 L347.2 1423.0 L345.2 1424.5 L343.2 1426.0 L341.2 1427.5 L339.2 1429.0 L337.2 1430.4 L335.2 1431.9 L333.2 1433.4 L331.2 1434.9 L329.2 1436.4 L327.2 1437.9 L325.2 1439.4 L323.2 1440.9 L321.2 1442.4 L319.2 1443.9 L317.2 1445.4 L315.2 1446.9 L313.2 1448.4 L311.2 1449.9 L309.2 1451.4 L307.2 1452.9 L305.2 1454.4 L303.2 1455.8 L301.2 1457.3 L299.2 1458.8 L297.2 1460.3 L295.2 1461.8 L293.2 1463.3 L291.2 1464.8 L289.2 1466.3 L287.2 1467.8 L285.2 1469.3 L283.2 1470.8 L281.2 1472.3 L279.2 1473.8 L277.2 1475.3Z"/>
<path class="cv" fill="#ff0000" d="M283.6 1482.3 L285.6 1480.1 L287.6 1477.9 L289.6 1475.8 L291.6 1473.6 L293.6 1471.4 L295.6 1469.2 L297.6 1467.1 L299.6 1464.9 L301.6 1462.7 L303.6 1460.6 L305.6 1458.4 L307.6 1456.2 L309.6 1454.0 L311.6 1451.9 L313.6 1449.7 L315.6 1447.5 L317.6 1445.4 L319.6 1443.2 L321.6 1441.0 L323.6 1438.8 L325.6 1436.7 L327.6 1434.5 L329.6 1432.3 L331.6 1430.2 L333.6 1428.0 L335.6 1425.8 L337.6 1423.6 L339.6 1421.5 L341.6 1419.3 L343.6 1417.1 L345.6 1414.9 L347.6 1412.8 L349.6 1410.6 L351.6 1408.4 L353.6 1406.3 L355.6 1404.1 L357.6 1401.9 L359.6 1399.7 L361.6 1397.6 L363.6 1395.4 L365.6 1393.2 L367.6 1391.1 L369.6 1388.9 L371.6 1386.7 L373.6 1384.5 L375.6 1382.4 L377.6 1380.2 L379.6 1378.0 L381.6 1375.9 L383.6 1373.7 L385.6 1371.5 L387.6 1369.3 L389.6 1367.2 L391.6 1365.0 L393.6 1362.8 L395.6 1360.6 L397.6 1358.5 L399.6 1356.3 L401.6 1354.1 L403.6 1352.0 L405.6 1349.8 L407.6 1347.6 L409.6 1345.4 L411.6 1343.3 L413.6 1341.1 L415.6 1338.9 L417.6 1336.8 L419.6 1334.6 L421.6 1332.4 L423.6 1330.2 L425.6 1328.1 L427.6 1325.9 L429.6 1323.7 L431.6 1321.6 L433.6 1319.4 L435.6 1317.2 L437.6 1315.0 L439.6 1312.9 L441.6 1310.7 L443.6 1308.5 L445.6 1306.3 L447.6 1304.2 L449.6 1302.0 L451.6 1299.8 L453.6 1297.7 L455.6 1295.5 L457.6 1293.3 L459.6 1291.1 L461.6 1289.0 L463.6 1286.8 L465.6 1284.6 L467.6 1282.5 L469.6 1280.3 L471.6 1278.1 L473.6 1275.9 L475.6 1273.8 L477.6 1271.6 L479.6 1269.4 L481.6 1267.3 L483.6 1265.1 L485.6 1262.9 L487.6 1260.7 L489.6 1258.6 L491.6 1256.4 L493.6 1254.2 L495.6 1252.0 L497.6 1249.9 L499.6 1247.7 L501.6 1245.5 L503.6 1243.4 L505.6 1241.2 L507.6 1239.0 L509.6 1236.8 L511.6 1234.7 L513.6 1232.5 L515.6 1230.3 L517.6 1228.2 L519.6 1226.0 L521.6 1223.8 L523.6 1221.6 L525.6 1219.5 L527.6 1217.3 L529.6 1215.1 L531.6 1213.0 L533.6 1210.8 L535.6 1208.6 L537.6 1206.4 L539.6 1204.3 L541.6 1202.1 L543.6 1199.9 L545.6 1197.7 L547.6 1195.6 L549.6 1193.4 L551.6 1191.2 L553.6 1189.1 L555.6 1186.9 L557.6 1184.7 L559.6 1182.5 L561.6 1180.4 L563.6 1178.2 L565.6 1176.0 L567.6 1173.9 L569.6 1171.7 L571.6 1169.5 L573.6 1167.3 L575.6 1165.2 L577.6 1163.0 L579.6 1160.8 L581.6 1158.7 L583.6 1156.5 L585.6 1154.3 L587.6 1152.1 L589.6 1150.0 L591.6 1147.8 L593.6 1145.6 L595.6 1143.4 L597.6 1141.3 L599.6 1139.1 L601.6 1136.9 L603.6 1134.8 L605.6 1132.6 L607.6 1130.4 L609.6 1128.2 L611.6 1126.1 L613.6 1123.9 L615.6 1121.7 L617.6 1119.6 L619.6 1117.4 L621.6 1115.2 L623.6 1113.0 L625.6 1110.9 L627.6 1108.7 L629.6 1106.5 L631.6 1104.4 L633.6 1102.2 L635.6 1100.0 L637.6 1097.8 L639.6 1095.7 L641.6 1093.5 L643.6 1091.3 L645.6 1089.1 L647.6 1087.0 L649.6 1084.8 L651.6 1082.6 L653.6 1080.5 L655.6 1078.3 L657.6 1076.1 L659.6 1073.9 L661.6 1071.8 L663.6 1069.6 L665.6 1067.4 L667.6 1065.3 L669.6 1063.1 L671.6 1060.9 L673.6 1058.7 L675.6 1056.6 L677.6 1054.4 L679.6 1052.2 L681.6 1050.1 L683.6 1047.9 L685.6 1045.7 L687.6 1043.5 L689.6 1041.4 L691.6 1039.2 L693.6 1037.0 L695.6 1034.8 L697.6 1032.7 L699.6 1030.5 L701.6 1028.3 L703.6 1026.2 L705.6 1024.0 L707.6 1021.8 L709.6 1019.6 L711.6 1017.5 L713.6 1015.3 L715.6 1013.1 L717.6 1011.0 L719.6 1008.8 L721.6 1006.6 L723.6 1004.4 L725.6 1002.3 L727.6 1000.1 L729.6 997.9 L731.6 995.8 L733.6 993.6 L735.6 991.4 L737.6 989.2 L739.6 987.1 L741.6 984.9 L743.6 982.7 L745.6 980.5 L747.6 978.4 L749.6 976.2 L751.6 974.0 L753.6 971.9 L755.6 969.7 L757.6 967.5 L759.6 965.3 L761.6 963.2 L763.6 961.0 L765.6 958.8 L767.6 956.7 L769.6 954.5 L771.6 952.3 L773.6 950.1 L775.6 948.0 L777.6 945.8 L779.6 943.6 L781.6 941.5 L783.6 939.3 L785.6 937.1 L787.6 934.9 L789.6 932.8 L791.6 930.6 L793.6 928.4 L795.6 926.3 L797.6 924.1 L799.6 921.9 L801.5 919.8 L803.5 917.6 L805.5 915.5 L807.5 913.3 L809.5 911.2 L811.5 909.1 L813.5 907.0 L815.5 904.9 L817.5 902.8 L819.5 900.7 L821.4 898.7 L823.4 896.7 L825.4 894.7 L827.4 892.7 L829.4 890.7 L831.3 888.7 L833.3 886.8 L835.3 884.9 L837.3 883.0 L839.2 881.2 L841.2 879.3 L843.2 877.5 L845.2 875.8 L847.1 874.0 L849.1 872.3 L851.1 870.6 L853.0 868.9 L855.0 867.3 L857.0 865.7 L858.9 864.1 L860.9 862.6 L862.8 861.0 L864.8 859.5 L866.8 858.1 L868.7 856.6 L870.7 855.2 L872.7 853.8 L874.6 852.4 L876.6 851.0 L878.6 849.7 L880.5 848.4 L882.5 847.1 L884.5 845.8 L886.4 844.6 L888.4 843.3 L890.4 842.1 L892.3 840.9 L894.3 839.8 L896.3 838.6 L898.2 837.5 L900.2 836.4 L902.1 835.3 L904.1 834.3 L906.1 833.2 L908.0 832.2 L910.0 831.2 L911.9 830.3 L913.9 829.4 L915.9 828.4 L917.8 827.6 L919.7 826.7 L921.7 825.9 L923.6 825.1 L925.6 824.3 L927.5 823.6 L929.5 822.9 L931.4 822.2 L933.3 821.6 L935.3 821.0 L937.2 820.4 L939.1 819.8 L941.1 819.3 L943.0 818.9 L944.9 818.4 L946.8 818.0 L948.8 817.6 L950.7 817.3 L952.6 817.0 L954.5 816.8 L956.5 816.5 L958.4 816.3 L960.3 816.2 L962.2 816.0 L964.2 815.9 L966.1 815.9 L968.0 815.9 L969.9 815.9 L971.9 815.9 L973.8 816.0 L975.7 816.1 L977.7 816.2 L979.6 816.4 L981.5 816.6 L983.5 816.8 L985.4 817.1 L987.4 817.4 L989.3 817.7 L991.3 818.0 L993.2 818.4 L995.1 818.7 L997.1 819.2 L999.1 819.6 L1001.0 820.0 L1003.0 820.5 L1004.9 821.0 L1006.9 821.5 L1008.8 822.0 L1010.8 822.6 L1012.8 823.2 L1014.7 823.8 L1016.7 824.4 L1018.6 825.0 L1020.6 825.6 L1022.6 826.3 L1024.5 827.0 L1026.5 827.7 L1028.4 828.4 L1030.4 829.2 L1032.4 830.0 L1034.3 830.8 L1036.2 831.6 L1038.2 832.5 L1040.1 833.3 L1042.1 834.3 L1044.0 835.2 L1046.0 836.2 L1047.9 837.2 L1049.9 838.2 L1051.8 839.3 L1053.7 840.4 L1055.7 841.6 L1057.6 842.8 L1059.5 844.0 L1061.5 845.3 L1063.4 846.6 L1065.4 847.9 L1067.3 849.3 L1069.3 850.7 L1071.2 852.2 L1073.2 853.7 L1075.1 855.2 L1077.1 856.7 L1079.1 858.3 L1081.0 859.9 L1083.0 861.5 L1085.0 863.1 L1087.0 864.8 L1089.0 866.4 L1091.0 868.1 L1092.9 869.8 L1094.9 871.5 L1096.9 873.2 L1098.9 874.9 L1100.9 876.6 L1102.9 878.4 L1104.9 880.1 L1106.9 881.8 L1108.9 883.5 L1110.9 885.3 L1112.9 887.0 L1114.9 888.8 L1116.8 890.6 L1118.8 892.4 L1120.8 894.2 L1122.8 896.0 L1124.8 897.8 L1126.8 899.6 L1128.7 901.5 L1130.7 903.4 L1132.7 905.3 L1134.7 907.2 L1136.7 909.1 L1138.6 911.0 L1140.6 913.0 L1142.6 915.0 L1144.6 917.0 L1146.6 919.0 L1148.6 921.0 L1150.5 923.1 L1152.5 925.1 L1154.5 927.2 L1156.5 929.3 L1158.5 931.4 L1160.5 933.5 L1162.5 935.6 L1164.4 937.8 L1166.4 939.9 L1168.4 942.1 L1170.4 944.3 L1172.4 946.5 L1174.4 948.8 L1176.4 951.0 L1178.3 953.3 L1180.3 955.5 L1182.3 957.8 L1184.3 960.2 L1186.3 962.5 L1188.3 964.9 L1190.3 967.2 L1192.3 969.6 L1194.3 972.0 L1196.2 974.4 L1198.2 976.8 L1200.3 979.2 L1202.3 981.6 L1204.3 983.9 L1206.3 986.3 L1208.3 988.7 L1210.3 991.0 L1212.3 993.4 L1214.3 995.7 L1216.3 998.0 L1218.4 1000.3 L1220.4 1002.5 L1222.4 1004.8 L1224.4 1007.0 L1226.4 1009.2 L1228.5 1011.3 L1230.5 1013.5 L1232.5 1015.6 L1234.5 1017.7 L1236.5 1019.8 L1238.6 1021.9 L1240.6 1023.9 L1242.6 1025.9 L1244.6 1028.0 L1246.6 1030.0 L1248.6 1032.0 L1250.6 1033.9 L1252.6 1035.9 L1254.6 1037.9 L1256.7 1039.8 L1258.7 1041.8 L1260.7 1043.7 L1262.7 1045.7 L1264.7 1047.6 L1266.7 1049.6 L1268.7 1051.5 L1270.7 1053.5 L1272.7 1055.4 L1274.7 1057.4 L1276.7 1059.3 L1278.7 1061.3 L1280.7 1063.2 L1282.7 1065.1 L1284.7 1067.1 L1286.7 1069.0 L1288.7 1071.0 L1290.7 1072.9 L1292.7 1074.9 L1294.7 1076.8 L1296.7 1078.8 L1298.7 1080.7 L1300.7 1082.6 L1302.7 1084.6 L1304.7 1086.5 L1306.7 1088.5 L1308.7 1090.4 L1310.7 1092.4 L1312.7 1094.3 L1314.7 1096.3 L1316.7 1098.2 L1318.7 1100.1 L1320.7 1102.0 L1322.7 1103.9 L1324.7 1105.8 L1326.8 1107.7 L1328.8 1109.6 L1330.8 1111.4 L1332.9 1113.2 L1334.9 1114.9 L1336.9 1116.7 L1339.0 1118.4 L1341.0 1120.1 L1343.1 1121.7 L1345.1 1123.3 L1347.2 1124.9 L1349.2 1126.4 L1351.2 1127.9 L1353.3 1129.4 L1355.3 1130.9 L1357.3 1132.3 L1359.3 1133.7 L1361.3 1135.2 L1363.4 1136.6 L1365.4 1137.9 L1367.4 1139.3 L1369.4 1140.7 L1371.4 1142.1 L1373.4 1143.4 L1375.4 1144.8 L1377.4 1146.1 L1379.4 1147.5 L1381.4 1148.8 L1383.4 1150.2 L1385.4 1151.5 L1387.5 1152.9 L1389.5 1154.2 L1391.5 1155.5 L1393.5 1156.8 L1395.5 1158.1 L1397.5 1159.4 L1399.6 1160.7 L1401.6 1161.9 L1403.6 1163.1 L1405.7 1164.4 L1407.7 1165.6 L1409.7 1166.7 L1411.8 1167.9 L1413.8 1169.0 L1415.8 1170.1 L1417.9 1171.2 L1419.9 1172.3 L1421.9 1173.3 L1424.0 1174.3 L1426.0 1175.3 L1428.0 1176.3 L1430.0 1177.3 L1432.1 1178.3 L1434.1 1179.2 L1436.1 1180.2 L1438.1 1181.1 L1440.2 1182.0 L1442.2 1182.9 L1444.2 1183.8 L1446.2 1184.7 L1448.3 1185.5 L1450.3 1186.4 L1452.3 1187.2 L1454.3 1188.1 L1456.3 1188.9 L1458.3 1189.7 L1460.3 1190.5 L1462.4 1191.3 L1464.4 1192.1 L1466.4 1192.9 L1468.4 1193.7 L1470.4 1194.5 L1472.4 1195.3 L1474.4 1196.1 L1476.4 1196.8 L1478.4 1197.6 L1480.4 1198.4 L1482.4 1199.2 L1484.4 1200.0 L1486.4 1200.8 L1488.4 1201.6 L1490.4 1202.3 L1492.4 1203.1 L1494.4 1203.9 L1496.4 1204.7 L1498.4 1205.5 L1500.4 1206.3 L1502.4 1207.0 L1504.4 1207.8 L1506.4 1208.6 L1508.4 1209.4 L1510.4 1210.1 L1512.4 1210.9 L1514.5 1211.6 L1516.5 1212.4 L1518.5 1213.1 L1520.5 1213.8 L1522.6 1214.5 L1524.6 1215.2 L1526.6 1215.9 L1528.7 1216.5 L1530.7 1217.2 L1532.7 1217.8 L1534.7 1218.4 L1536.8 1219.0 L1538.8 1219.6 L1540.8 1220.2 L1542.8 1220.7 L1544.9 1221.3 L1546.9 1221.8 L1548.9 1222.4 L1550.9 1222.9 L1552.9 1223.4 L1554.9 1223.9 L1556.9 1224.4 L1559.0 1224.9 L1561.0 1225.4 L1563.0 1225.9 L1565.0 1226.4 L1567.0 1226.8 L1569.0 1227.3 L1571.0 1227.8 L1573.0 1228.3 L1575.0 1228.8 L1577.0 1229.3 L1579.0 1229.8 L1581.0 1230.3 L1583.0 1230.7 L1585.0 1231.2 L1587.0 1231.7 L1589.0 1232.2 L1591.0 1232.7 L1593.0 1233.1 L1595.0 1233.6 L1597.0 1234.1 L1599.0 1234.5 L1601.1 1235.0 L1603.1 1235.4 L1605.1 1235.9 L1607.1 1236.3 L1609.1 1236.7 L1611.1 1237.1 L1613.1 1237.5 L1615.1 1238.0 L1617.2 1238.4 L1619.2 1238.7 L1621.2 1239.1 L1623.2 1239.5 L1625.2 1239.9 L1627.2 1240.3 L1629.2 1240.6 L1631.2 1241.0 L1633.3 1241.3 L1635.3 1241.7 L1637.3 1242.0 L1639.3 1242.4 L1641.3 1242.7 L1643.3 1243.0 L1645.3 1243.4 L1647.3 1243.7 L1649.3 1244.0 L1651.3 1244.3 L1653.3 1244.6 L1655.4 1244.9 L1657.4 1245.2 L1659.4 1245.5 L1661.4 1245.8 L1663.4 1246.1 L1665.4 1246.4 L1667.4 1246.7 L1669.4 1247.0 L1671.4 1247.2 L1673.4 1247.5 L1675.4 1247.8 L1677.5 1248.0 L1679.5 1248.3 L1681.5 1248.5 L1683.5 1248.8 L1685.5 1249.0 L1687.5 1249.2 L1689.5 1249.5 L1691.5 1249.7 L1693.5 1249.9 L1695.5 1250.1 L1697.6 1250.3 L1699.6 1250.5 L1701.6 1250.8 L1703.6 1251.0 L1705.6 1251.2 L1707.6 1251.3 L1709.6 1251.5 L1711.6 1251.7 L1713.6 1251.9 L1715.6 1252.1 L1717.6 1252.3 L1719.6 1252.4 L1721.6 1252.6 L1723.6 1252.8 L1725.6 1252.9 L1727.6 1253.1 L1729.6 1253.3 L1731.7 1253.4 L1733.7 1253.6 L1735.7 1253.8 L1737.7 1253.9 L1739.7 1254.1 L1741.7 1254.2 L1743.7 1254.4 L1745.7 1254.6 L1747.7 1254.7 L1749.7 1254.9 L1751.7 1255.0 L1753.7 1255.2 L1755.7 1255.3 L1757.7 1255.5 L1759.7 1255.7 L1761.7 1255.8 L1763.7 1256.0 L1765.7 1256.1 L1767.7 1256.3 L1769.7 1256.5 L1771.7 1256.6 L1773.7 1256.8 L1775.7 1256.9 L1777.7 1257.1 L1779.7 1257.3 L1781.7 1257.4 L1783.7 1257.6 L1785.7 1257.7 L1787.7 1257.9 L1789.7 1258.1 L1791.7 1258.2 L1793.7 1258.4 L1795.7 1258.5 L1797.7 1258.7 L1799.7 1258.9 L1801.7 1259.0 L1803.7 1259.2 L1805.7 1259.3 L1807.7 1259.5 L1809.7 1259.7 L1811.7 1259.8 L1813.7 1260.0 L1815.7 1260.1 L1817.7 1260.3 L1819.7 1260.5 L1821.7 1260.6 L1823.7 1260.8 L1825.7 1260.9 L1827.7 1261.1 L1829.7 1261.2 L1831.7 1261.4 L1833.7 1261.6 L1835.7 1261.7 L1837.7 1261.9 L1839.7 1262.0 L1841.7 1262.2 L1843.7 1262.4 L1845.7 1262.5 L1847.7 1262.7 L1849.7 1262.8 L1851.7 1263.0 L1853.7 1263.2 L1855.7 1263.3 L1857.7 1263.5 L1859.7 1263.6 L1861.7 1263.8 L1863.7 1264.0 L1865.7 1264.1 L1867.7 1264.3 L1869.7 1264.4 L1871.7 1264.6 L1873.7 1264.8 L1875.7 1264.9 L1877.7 1265.1 L1879.7 1265.2 L1881.7 1265.4 L1883.7 1265.5 L1885.7 1265.7 L1887.7 1265.8 L1889.7 1266.0 L1891.7 1266.1 L1893.7 1266.3 L1895.7 1266.4 L1897.7 1266.5 L1899.7 1266.7 L1901.7 1266.8 L1903.7 1266.9 L1905.7 1267.1 L1907.7 1267.2 L1909.7 1267.3 L1911.8 1267.4 L1913.8 1267.5 L1915.8 1267.6 L1917.8 1267.7 L1919.8 1267.8 L1921.8 1267.9 L1923.8 1268.0 L1925.8 1268.1 L1927.8 1268.2 L1929.8 1268.3 L1931.8 1268.4 L1933.8 1268.4 L1935.8 1268.5 L1937.9 1268.6 L1939.9 1268.7 L1941.9 1268.7 L1943.9 1268.8 L1945.9 1268.8 L1947.9 1268.9 L1949.9 1269.0 L1951.9 1269.0 L1953.9 1269.1 L1955.9 1269.1 L1957.9 1269.1 L1959.9 1269.2 L1961.9 1269.2 L1963.9 1269.2 L1965.9 1269.3 L1967.9 1269.3 L1969.9 1269.3 L1971.9 1269.4 L1974.0 1269.4 L1976.0 1269.4 L1978.0 1269.4 L1980.0 1269.4 L1982.0 1269.5 L1984.0 1269.5 L1986.0 1269.5 L1988.0 1269.5 L1990.0 1269.5 L1992.0 1269.5 L1994.0 1269.5 L1996.0 1269.5 L1998.0 1269.5 L2000.0 1269.5 L2002.0 1269.5 L2004.0 1269.5 L2006.0 1269.5 L2008.0 1269.5 L2010.0 1269.5 L2012.0 1269.5 L2014.0 1269.5 L2016.0 1269.6 L2018.0 1269.6 L2020.0 1269.6 L2022.0 1269.6 L2024.0 1269.6 L2026.0 1269.6 L2028.0 1269.6 L2030.0 1269.6 L2032.0 1269.6 L2034.0 1269.6 L2036.0 1269.6 L2038.0 1269.6 L2038.0 1261.0 L2036.0 1261.0 L2034.0 1261.0 L2032.0 1261.0 L2030.0 1261.0 L2028.0 1261.0 L2026.0 1261.0 L2024.0 1261.0 L2022.0 1261.0 L2020.0 1261.0 L2018.0 1261.0 L2016.0 1261.0 L2014.0 1260.9 L2012.0 1260.9 L2010.0 1260.9 L2008.0 1260.9 L2006.0 1260.9 L2004.0 1260.9 L2002.0 1260.9 L2000.0 1260.9 L1998.0 1260.9 L1996.0 1260.9 L1994.0 1260.9 L1992.0 1260.9 L1990.0 1260.9 L1988.0 1260.9 L1986.0 1260.9 L1984.0 1260.9 L1982.0 1260.9 L1980.0 1260.8 L1978.0 1260.8 L1976.0 1260.8 L1974.0 1260.8 L1972.1 1260.8 L1970.1 1260.7 L1968.1 1260.7 L1966.1 1260.7 L1964.1 1260.6 L1962.1 1260.6 L1960.1 1260.6 L1958.1 1260.5 L1956.1 1260.5 L1954.1 1260.5 L1952.1 1260.4 L1950.1 1260.4 L1948.1 1260.3 L1946.1 1260.2 L1944.1 1260.2 L1942.1 1260.1 L1940.1 1260.1 L1938.1 1260.0 L1936.2 1259.9 L1934.2 1259.9 L1932.2 1259.8 L1930.2 1259.7 L1928.2 1259.6 L1926.2 1259.5 L1924.2 1259.4 L1922.2 1259.3 L1920.2 1259.2 L1918.2 1259.1 L1916.2 1259.0 L1914.2 1258.9 L1912.2 1258.8 L1910.3 1258.7 L1908.3 1258.6 L1906.3 1258.5 L1904.3 1258.3 L1902.3 1258.2 L1900.3 1258.1 L1898.3 1257.9 L1896.3 1257.8 L1894.3 1257.7 L1892.3 1257.5 L1890.3 1257.4 L1888.3 1257.2 L1886.3 1257.1 L1884.3 1256.9 L1882.3 1256.8 L1880.3 1256.6 L1878.3 1256.5 L1876.3 1256.3 L1874.3 1256.2 L1872.3 1256.0 L1870.3 1255.9 L1868.3 1255.7 L1866.3 1255.5 L1864.3 1255.4 L1862.3 1255.2 L1860.3 1255.1 L1858.3 1254.9 L1856.3 1254.7 L1854.3 1254.6 L1852.3 1254.4 L1850.3 1254.3 L1848.3 1254.1 L1846.3 1253.9 L1844.3 1253.8 L1842.3 1253.6 L1840.3 1253.5 L1838.3 1253.3 L1836.3 1253.1 L1834.3 1253.0 L1832.3 1252.8 L1830.3 1252.7 L1828.3 1252.5 L1826.3 1252.3 L1824.3 1252.2 L1822.3 1252.0 L1820.3 1251.9 L1818.3 1251.7 L1816.3 1251.5 L1814.3 1251.4 L1812.3 1251.2 L1810.3 1251.1 L1808.3 1250.9 L1806.3 1250.7 L1804.3 1250.6 L1802.3 1250.4 L1800.3 1250.3 L1798.3 1250.1 L1796.3 1250.0 L1794.3 1249.8 L1792.3 1249.6 L1790.3 1249.5 L1788.3 1249.3 L1786.3 1249.2 L1784.3 1249.0 L1782.3 1248.8 L1780.3 1248.7 L1778.3 1248.5 L1776.3 1248.4 L1774.3 1248.2 L1772.3 1248.0 L1770.3 1247.9 L1768.3 1247.7 L1766.3 1247.6 L1764.3 1247.4 L1762.3 1247.2 L1760.3 1247.1 L1758.3 1246.9 L1756.3 1246.8 L1754.3 1246.6 L1752.3 1246.4 L1750.3 1246.3 L1748.3 1246.1 L1746.3 1246.0 L1744.3 1245.8 L1742.3 1245.6 L1740.3 1245.5 L1738.3 1245.3 L1736.3 1245.2 L1734.3 1245.0 L1732.3 1244.8 L1730.4 1244.7 L1728.4 1244.5 L1726.4 1244.4 L1724.4 1244.2 L1722.4 1244.0 L1720.4 1243.8 L1718.4 1243.7 L1716.4 1243.5 L1714.4 1243.3 L1712.4 1243.1 L1710.4 1243.0 L1708.4 1242.8 L1706.4 1242.6 L1704.4 1242.4 L1702.4 1242.2 L1700.4 1242.0 L1698.4 1241.8 L1696.5 1241.6 L1694.5 1241.3 L1692.5 1241.1 L1690.5 1240.9 L1688.5 1240.7 L1686.5 1240.4 L1684.5 1240.2 L1682.5 1239.9 L1680.5 1239.7 L1678.5 1239.4 L1676.6 1239.2 L1674.6 1238.9 L1672.6 1238.7 L1670.6 1238.4 L1668.6 1238.1 L1666.6 1237.8 L1664.6 1237.6 L1662.6 1237.3 L1660.6 1237.0 L1658.6 1236.7 L1656.6 1236.4 L1654.7 1236.1 L1652.7 1235.8 L1650.7 1235.5 L1648.7 1235.1 L1646.7 1234.8 L1644.7 1234.5 L1642.7 1234.2 L1640.7 1233.8 L1638.7 1233.5 L1636.7 1233.2 L1634.7 1232.8 L1632.8 1232.5 L1630.8 1232.1 L1628.8 1231.7 L1626.8 1231.4 L1624.8 1231.0 L1622.8 1230.6 L1620.8 1230.2 L1618.8 1229.8 L1616.9 1229.4 L1614.9 1229.0 L1612.9 1228.6 L1610.9 1228.2 L1608.9 1227.8 L1606.9 1227.4 L1604.9 1226.9 L1602.9 1226.5 L1601.0 1226.0 L1599.0 1225.6 L1597.0 1225.1 L1595.0 1224.7 L1593.0 1224.2 L1591.0 1223.7 L1589.0 1223.2 L1587.0 1222.8 L1585.0 1222.3 L1583.0 1221.8 L1581.0 1221.3 L1579.0 1220.8 L1577.0 1220.3 L1575.0 1219.8 L1573.0 1219.4 L1571.0 1218.9 L1569.0 1218.4 L1567.0 1217.9 L1565.0 1217.4 L1563.0 1216.9 L1561.0 1216.4 L1559.1 1215.9 L1557.1 1215.4 L1555.1 1214.9 L1553.1 1214.4 L1551.1 1213.9 L1549.1 1213.4 L1547.1 1212.9 L1545.2 1212.3 L1543.2 1211.8 L1541.2 1211.2 L1539.2 1210.6 L1537.3 1210.0 L1535.3 1209.4 L1533.3 1208.8 L1531.3 1208.2 L1529.4 1207.5 L1527.4 1206.8 L1525.4 1206.2 L1523.5 1205.5 L1521.5 1204.8 L1519.5 1204.1 L1517.5 1203.3 L1515.6 1202.6 L1513.6 1201.8 L1511.6 1201.1 L1509.6 1200.3 L1507.6 1199.6 L1505.6 1198.8 L1503.6 1198.0 L1501.6 1197.2 L1499.6 1196.4 L1497.6 1195.7 L1495.6 1194.9 L1493.6 1194.1 L1491.6 1193.3 L1489.6 1192.5 L1487.6 1191.7 L1485.6 1190.9 L1483.6 1190.2 L1481.6 1189.4 L1479.6 1188.6 L1477.6 1187.8 L1475.6 1187.0 L1473.6 1186.2 L1471.6 1185.4 L1469.6 1184.7 L1467.6 1183.9 L1465.6 1183.1 L1463.7 1182.3 L1461.7 1181.5 L1459.7 1180.7 L1457.7 1179.8 L1455.7 1179.0 L1453.7 1178.2 L1451.7 1177.3 L1449.8 1176.5 L1447.8 1175.6 L1445.8 1174.8 L1443.8 1173.9 L1441.9 1173.0 L1439.9 1172.1 L1437.9 1171.1 L1435.9 1170.2 L1434.0 1169.2 L1432.0 1168.3 L1430.0 1167.3 L1428.0 1166.3 L1426.1 1165.3 L1424.1 1164.3 L1422.1 1163.2 L1420.2 1162.2 L1418.2 1161.1 L1416.2 1160.0 L1414.3 1158.8 L1412.3 1157.7 L1410.3 1156.5 L1408.4 1155.3 L1406.4 1154.1 L1404.4 1152.9 L1402.5 1151.6 L1400.5 1150.4 L1398.5 1149.1 L1396.5 1147.8 L1394.5 1146.5 L1392.5 1145.2 L1390.6 1143.9 L1388.6 1142.5 L1386.6 1141.2 L1384.6 1139.8 L1382.6 1138.5 L1380.6 1137.1 L1378.6 1135.8 L1376.6 1134.4 L1374.6 1133.1 L1372.6 1131.7 L1370.6 1130.3 L1368.6 1129.0 L1366.7 1127.6 L1364.7 1126.2 L1362.7 1124.8 L1360.7 1123.3 L1358.7 1121.9 L1356.8 1120.5 L1354.8 1119.0 L1352.8 1117.5 L1350.9 1115.9 L1348.9 1114.4 L1347.0 1112.8 L1345.0 1111.1 L1343.1 1109.5 L1341.1 1107.8 L1339.1 1106.1 L1337.2 1104.3 L1335.2 1102.5 L1333.2 1100.7 L1331.3 1098.9 L1329.3 1097.0 L1327.3 1095.1 L1325.3 1093.2 L1323.3 1091.3 L1321.3 1089.4 L1319.3 1087.4 L1317.3 1085.5 L1315.3 1083.6 L1313.3 1081.6 L1311.3 1079.7 L1309.3 1077.7 L1307.3 1075.8 L1305.3 1073.8 L1303.3 1071.9 L1301.3 1070.0 L1299.3 1068.0 L1297.3 1066.1 L1295.3 1064.1 L1293.3 1062.2 L1291.3 1060.2 L1289.3 1058.3 L1287.3 1056.3 L1285.3 1054.4 L1283.3 1052.4 L1281.3 1050.5 L1279.3 1048.6 L1277.3 1046.6 L1275.3 1044.7 L1273.3 1042.7 L1271.3 1040.8 L1269.3 1038.8 L1267.3 1036.9 L1265.3 1034.9 L1263.3 1033.0 L1261.4 1031.0 L1259.4 1029.1 L1257.4 1027.1 L1255.4 1025.1 L1253.4 1023.2 L1251.4 1021.2 L1249.4 1019.2 L1247.4 1017.2 L1245.4 1015.1 L1243.5 1013.1 L1241.5 1011.0 L1239.5 1009.0 L1237.5 1006.9 L1235.5 1004.7 L1233.6 1002.6 L1231.6 1000.5 L1229.6 998.3 L1227.6 996.1 L1225.6 993.8 L1223.7 991.6 L1221.7 989.3 L1219.7 987.0 L1217.7 984.7 L1215.7 982.4 L1213.7 980.0 L1211.7 977.7 L1209.7 975.3 L1207.7 972.9 L1205.8 970.5 L1203.8 968.1 L1201.7 965.7 L1199.7 963.3 L1197.7 960.9 L1195.7 958.6 L1193.7 956.2 L1191.7 953.8 L1189.7 951.5 L1187.7 949.2 L1185.7 946.9 L1183.6 944.6 L1181.6 942.3 L1179.6 940.0 L1177.6 937.8 L1175.6 935.6 L1173.6 933.4 L1171.6 931.2 L1169.5 929.1 L1167.5 926.9 L1165.5 924.8 L1163.5 922.7 L1161.5 920.5 L1159.5 918.5 L1157.5 916.4 L1155.4 914.3 L1153.4 912.3 L1151.4 910.2 L1149.4 908.2 L1147.4 906.2 L1145.4 904.2 L1143.3 902.2 L1141.3 900.3 L1139.3 898.3 L1137.3 896.4 L1135.3 894.5 L1133.2 892.7 L1131.2 890.8 L1129.2 888.9 L1127.2 887.1 L1125.2 885.3 L1123.2 883.5 L1121.1 881.7 L1119.1 879.9 L1117.1 878.2 L1115.1 876.4 L1113.1 874.7 L1111.1 872.9 L1109.1 871.2 L1107.1 869.5 L1105.1 867.7 L1103.1 866.0 L1101.1 864.3 L1099.1 862.6 L1097.0 860.9 L1095.0 859.2 L1093.0 857.5 L1091.0 855.9 L1089.0 854.2 L1087.0 852.6 L1084.9 851.0 L1082.9 849.4 L1080.9 847.8 L1078.8 846.2 L1076.8 844.7 L1074.7 843.2 L1072.7 841.8 L1070.6 840.3 L1068.6 838.9 L1066.5 837.6 L1064.5 836.3 L1062.4 835.0 L1060.3 833.8 L1058.3 832.6 L1056.2 831.4 L1054.1 830.3 L1052.1 829.2 L1050.0 828.1 L1048.0 827.1 L1045.9 826.2 L1043.9 825.2 L1041.8 824.3 L1039.8 823.4 L1037.7 822.6 L1035.6 821.7 L1033.6 820.9 L1031.6 820.2 L1029.5 819.4 L1027.5 818.7 L1025.4 818.0 L1023.4 817.3 L1021.4 816.6 L1019.3 816.0 L1017.3 815.4 L1015.2 814.8 L1013.2 814.2 L1011.2 813.6 L1009.1 813.1 L1007.1 812.5 L1005.0 812.0 L1003.0 811.6 L1000.9 811.1 L998.9 810.7 L996.9 810.2 L994.8 809.8 L992.7 809.5 L990.7 809.1 L988.6 808.8 L986.6 808.5 L984.5 808.3 L982.5 808.0 L980.4 807.8 L978.3 807.7 L976.3 807.5 L974.2 807.4 L972.1 807.3 L970.1 807.3 L968.0 807.3 L965.9 807.3 L963.8 807.3 L961.8 807.4 L959.7 807.6 L957.6 807.7 L955.5 807.9 L953.5 808.2 L951.4 808.5 L949.3 808.8 L947.2 809.1 L945.2 809.5 L943.1 809.9 L941.0 810.4 L938.9 810.9 L936.9 811.4 L934.8 812.0 L932.7 812.6 L930.7 813.2 L928.6 813.9 L926.5 814.6 L924.5 815.3 L922.4 816.1 L920.4 816.8 L918.3 817.7 L916.3 818.5 L914.2 819.4 L912.1 820.3 L910.1 821.2 L908.1 822.2 L906.0 823.2 L904.0 824.2 L901.9 825.2 L899.9 826.3 L897.9 827.4 L895.8 828.5 L893.8 829.6 L891.7 830.7 L889.7 831.9 L887.7 833.1 L885.6 834.3 L883.6 835.5 L881.6 836.8 L879.5 838.1 L877.5 839.4 L875.5 840.7 L873.4 842.0 L871.4 843.4 L869.4 844.8 L867.3 846.2 L865.3 847.6 L863.3 849.1 L861.2 850.6 L859.2 852.1 L857.2 853.6 L855.1 855.2 L853.1 856.8 L851.0 858.4 L849.0 860.0 L847.0 861.7 L844.9 863.4 L842.9 865.1 L840.9 866.9 L838.8 868.7 L836.8 870.5 L834.8 872.3 L832.8 874.2 L830.7 876.1 L828.7 878.0 L826.7 879.9 L824.7 881.9 L822.6 883.9 L820.6 885.9 L818.6 887.9 L816.6 889.9 L814.6 892.0 L812.5 894.0 L810.5 896.1 L808.5 898.2 L806.5 900.3 L804.5 902.5 L802.5 904.6 L800.5 906.7 L798.5 908.9 L796.5 911.0 L794.5 913.2 L792.4 915.4 L790.4 917.5 L788.4 919.7 L786.4 921.9 L784.4 924.0 L782.4 926.2 L780.4 928.4 L778.4 930.5 L776.4 932.7 L774.4 934.9 L772.4 937.1 L770.4 939.2 L768.4 941.4 L766.4 943.6 L764.4 945.8 L762.4 947.9 L760.4 950.1 L758.4 952.3 L756.4 954.4 L754.4 956.6 L752.4 958.8 L750.4 961.0 L748.4 963.1 L746.4 965.3 L744.4 967.5 L742.4 969.6 L740.4 971.8 L738.4 974.0 L736.4 976.2 L734.4 978.3 L732.4 980.5 L730.4 982.7 L728.4 984.8 L726.4 987.0 L724.4 989.2 L722.4 991.4 L720.4 993.5 L718.4 995.7 L716.4 997.9 L714.4 1000.1 L712.4 1002.2 L710.4 1004.4 L708.4 1006.6 L706.4 1008.7 L704.4 1010.9 L702.4 1013.1 L700.4 1015.3 L698.4 1017.4 L696.4 1019.6 L694.4 1021.8 L692.4 1023.9 L690.4 1026.1 L688.4 1028.3 L686.4 1030.5 L684.4 1032.6 L682.4 1034.8 L680.4 1037.0 L678.4 1039.1 L676.4 1041.3 L674.4 1043.5 L672.4 1045.7 L670.4 1047.8 L668.4 1050.0 L666.4 1052.2 L664.4 1054.4 L662.4 1056.5 L660.4 1058.7 L658.4 1060.9 L656.4 1063.0 L654.4 1065.2 L652.4 1067.4 L650.4 1069.6 L648.4 1071.7 L646.4 1073.9 L644.4 1076.1 L642.4 1078.2 L640.4 1080.4 L638.4 1082.6 L636.4 1084.8 L634.4 1086.9 L632.4 1089.1 L630.4 1091.3 L628.4 1093.4 L626.4 1095.6 L624.4 1097.8 L622.4 1100.0 L620.4 1102.1 L618.4 1104.3 L616.4 1106.5 L614.4 1108.7 L612.4 1110.8 L610.4 1113.0 L608.4 1115.2 L606.4 1117.3 L604.4 1119.5 L602.4 1121.7 L600.4 1123.9 L598.4 1126.0 L596.4 1128.2 L594.4 1130.4 L592.4 1132.5 L590.4 1134.7 L588.4 1136.9 L586.4 1139.1 L584.4 1141.2 L582.4 1143.4 L580.4 1145.6 L578.4 1147.7 L576.4 1149.9 L574.4 1152.1 L572.4 1154.3 L570.4 1156.4 L568.4 1158.6 L566.4 1160.8 L564.4 1163.0 L562.4 1165.1 L560.4 1167.3 L558.4 1169.5 L556.4 1171.6 L554.4 1173.8 L552.4 1176.0 L550.4 1178.2 L548.4 1180.3 L546.4 1182.5 L544.4 1184.7 L542.4 1186.8 L540.4 1189.0 L538.4 1191.2 L536.4 1193.4 L534.4 1195.5 L532.4 1197.7 L530.4 1199.9 L528.4 1202.0 L526.4 1204.2 L524.4 1206.4 L522.4 1208.6 L520.4 1210.7 L518.4 1212.9 L516.4 1215.1 L514.4 1217.3 L512.4 1219.4 L510.4 1221.6 L508.4 1223.8 L506.4 1225.9 L504.4 1228.1 L502.4 1230.3 L500.4 1232.5 L498.4 1234.6 L496.4 1236.8 L494.4 1239.0 L492.4 1241.1 L490.4 1243.3 L488.4 1245.5 L486.4 1247.7 L484.4 1249.8 L482.4 1252.0 L480.4 1254.2 L478.4 1256.3 L476.4 1258.5 L474.4 1260.7 L472.4 1262.9 L470.4 1265.0 L468.4 1267.2 L466.4 1269.4 L464.4 1271.6 L462.4 1273.7 L460.4 1275.9 L458.4 1278.1 L456.4 1280.2 L454.4 1282.4 L452.4 1284.6 L450.4 1286.8 L448.4 1288.9 L446.4 1291.1 L444.4 1293.3 L442.4 1295.4 L440.4 1297.6 L438.4 1299.8 L436.4 1302.0 L434.4 1304.1 L432.4 1306.3 L430.4 1308.5 L428.4 1310.6 L426.4 1312.8 L424.4 1315.0 L422.4 1317.2 L420.4 1319.3 L418.4 1321.5 L416.4 1323.7 L414.4 1325.9 L412.4 1328.0 L410.4 1330.2 L408.4 1332.4 L406.4 1334.5 L404.4 1336.7 L402.4 1338.9 L400.4 1341.1 L398.4 1343.2 L396.4 1345.4 L394.4 1347.6 L392.4 1349.7 L390.4 1351.9 L388.4 1354.1 L386.4 1356.3 L384.4 1358.4 L382.4 1360.6 L380.4 1362.8 L378.4 1364.9 L376.4 1367.1 L374.4 1369.3 L372.4 1371.5 L370.4 1373.6 L368.4 1375.8 L366.4 1378.0 L364.4 1380.2 L362.4 1382.3 L360.4 1384.5 L358.4 1386.7 L356.4 1388.8 L354.4 1391.0 L352.4 1393.2 L350.4 1395.4 L348.4 1397.5 L346.4 1399.7 L344.4 1401.9 L342.4 1404.0 L340.4 1406.2 L338.4 1408.4 L336.4 1410.6 L334.4 1412.7 L332.4 1414.9 L330.4 1417.1 L328.4 1419.2 L326.4 1421.4 L324.4 1423.6 L322.4 1425.8 L320.4 1427.9 L318.4 1430.1 L316.4 1432.3 L314.4 1434.5 L312.4 1436.6 L310.4 1438.8 L308.4 1441.0 L306.4 1443.1 L304.4 1445.3 L302.4 1447.5 L300.4 1449.7 L298.4 1451.8 L296.4 1454.0 L294.4 1456.2 L292.4 1458.3 L290.4 1460.5 L288.4 1462.7 L286.4 1464.9 L284.4 1467.0 L282.4 1469.2 L280.4 1471.4 L278.4 1473.5 L276.4 1475.7Z"/>
<path class="cv" fill="#00ff00" d="M284.1 1481.9 L286.1 1479.0 L288.1 1476.2 L290.1 1473.3 L292.1 1470.5 L294.1 1467.6 L296.1 1464.8 L298.1 1461.9 L300.1 1459.1 L302.1 1456.2 L304.1 1453.4 L306.1 1450.6 L308.1 1447.7 L310.1 1444.9 L312.1 1442.0 L314.1 1439.2 L316.1 1436.3 L318.1 1433.5 L320.1 1430.6 L322.1 1427.8 L324.1 1424.9 L326.1 1422.1 L328.1 1419.2 L330.1 1416.4 L332.1 1413.6 L334.1 1410.7 L336.1 1407.9 L338.1 1405.0 L340.1 1402.2 L342.1 1399.3 L344.1 1396.5 L346.1 1393.6 L348.1 1390.8 L350.1 1387.9 L352.1 1385.1 L354.1 1382.2 L356.1 1379.4 L358.1 1376.6 L360.1 1373.7 L362.1 1370.9 L364.1 1368.0 L366.1 1365.2 L368.1 1362.3 L370.1 1359.5 L372.1 1356.6 L374.1 1353.8 L376.1 1350.9 L378.1 1348.1 L380.1 1345.2 L382.1 1342.4 L384.1 1339.6 L386.1 1336.7 L388.1 1333.9 L390.1 1331.0 L392.1 1328.2 L394.1 1325.3 L396.1 1322.5 L398.1 1319.6 L400.1 1316.8 L402.1 1313.9 L404.1 1311.1 L406.1 1308.3 L408.1 1305.4 L410.1 1302.6 L412.1 1299.7 L414.1 1296.9 L416.1 1294.0 L418.1 1291.2 L420.1 1288.3 L422.1 1285.5 L424.1 1282.6 L426.1 1279.8 L428.1 1276.9 L430.1 1274.1 L432.1 1271.3 L434.1 1268.4 L436.1 1265.6 L438.1 1262.7 L440.1 1259.9 L442.1 1257.0 L444.1 1254.2 L446.1 1251.3 L448.1 1248.5 L450.1 1245.6 L452.1 1242.8 L454.1 1239.9 L456.1 1237.1 L458.1 1234.3 L460.1 1231.4 L462.1 1228.6 L464.1 1225.7 L466.1 1222.9 L468.1 1220.0 L470.1 1217.2 L472.1 1214.3 L474.1 1211.5 L476.1 1208.6 L478.1 1205.8 L480.1 1202.9 L482.1 1200.1 L484.1 1197.3 L486.1 1194.4 L488.1 1191.6 L490.1 1188.7 L492.1 1185.9 L494.1 1183.0 L496.1 1180.2 L498.1 1177.3 L500.1 1174.5 L502.1 1171.6 L504.1 1168.8 L506.1 1166.0 L508.1 1163.1 L510.1 1160.3 L512.1 1157.4 L514.1 1154.6 L516.1 1151.7 L518.1 1148.9 L520.1 1146.0 L522.1 1143.2 L524.1 1140.3 L526.1 1137.5 L528.1 1134.6 L530.1 1131.8 L532.1 1129.0 L534.1 1126.1 L536.1 1123.3 L538.1 1120.4 L540.1 1117.6 L542.1 1114.7 L544.1 1111.9 L546.1 1109.0 L548.1 1106.2 L550.1 1103.3 L552.1 1100.5 L554.1 1097.6 L556.1 1094.8 L558.1 1092.0 L560.1 1089.1 L562.1 1086.3 L564.1 1083.4 L566.1 1080.6 L568.1 1077.7 L570.1 1074.9 L572.1 1072.0 L574.1 1069.2 L576.1 1066.3 L578.1 1063.5 L580.1 1060.6 L582.1 1057.8 L584.1 1055.0 L586.1 1052.1 L588.1 1049.3 L590.1 1046.4 L592.1 1043.6 L594.1 1040.7 L596.1 1037.9 L598.1 1035.0 L600.1 1032.2 L602.1 1029.3 L604.1 1026.5 L606.1 1023.7 L608.1 1020.8 L610.1 1018.0 L612.1 1015.1 L614.1 1012.3 L616.1 1009.4 L618.1 1006.6 L620.1 1003.7 L622.1 1000.9 L624.1 998.0 L626.1 995.2 L628.1 992.3 L630.1 989.5 L632.1 986.7 L634.1 983.8 L636.1 981.0 L638.1 978.1 L640.1 975.3 L642.1 972.4 L644.1 969.6 L646.1 966.7 L648.1 963.9 L650.1 961.0 L652.1 958.2 L654.1 955.3 L656.1 952.5 L658.1 949.7 L660.1 946.8 L662.1 944.0 L664.1 941.1 L666.1 938.3 L668.1 935.4 L670.1 932.6 L672.1 929.7 L674.1 926.9 L676.1 924.0 L678.1 921.2 L680.1 918.3 L682.1 915.5 L684.1 912.7 L686.1 909.8 L688.1 907.0 L690.1 904.1 L692.1 901.3 L694.1 898.4 L696.1 895.6 L698.1 892.7 L700.1 889.9 L702.1 887.0 L704.1 884.2 L706.1 881.4 L708.1 878.5 L710.1 875.7 L712.1 872.8 L714.1 870.0 L716.1 867.1 L718.1 864.3 L720.1 861.4 L722.1 858.6 L724.1 855.7 L726.1 852.9 L728.1 850.0 L730.1 847.2 L732.1 844.4 L734.1 841.5 L736.1 838.7 L738.1 835.8 L740.1 833.0 L742.1 830.1 L744.1 827.3 L746.1 824.4 L748.1 821.6 L750.1 818.7 L752.1 815.9 L754.1 813.0 L756.1 810.2 L758.1 807.4 L760.1 804.5 L762.1 801.7 L764.1 798.8 L766.1 796.0 L768.1 793.1 L770.1 790.3 L772.1 787.5 L774.1 784.6 L776.1 781.8 L778.1 779.0 L780.1 776.2 L782.0 773.4 L784.0 770.5 L786.0 767.7 L788.0 764.9 L790.0 762.1 L792.0 759.3 L794.0 756.5 L796.0 753.7 L798.0 750.9 L800.0 748.1 L802.0 745.3 L804.0 742.5 L806.0 739.8 L808.0 737.0 L810.0 734.2 L812.0 731.4 L814.0 728.7 L816.0 725.9 L818.0 723.2 L820.0 720.5 L822.0 717.8 L824.0 715.1 L826.0 712.4 L828.0 709.7 L829.9 707.1 L831.9 704.5 L833.9 701.9 L835.9 699.3 L837.9 696.7 L839.9 694.2 L841.8 691.7 L843.8 689.3 L845.8 686.9 L847.7 684.5 L849.7 682.2 L851.7 680.0 L853.6 677.7 L855.5 675.6 L857.5 673.5 L859.4 671.4 L861.4 669.5 L863.3 667.6 L865.2 665.7 L867.1 664.0 L869.1 662.3 L871.0 660.6 L872.9 659.1 L874.8 657.6 L876.7 656.2 L878.6 654.9 L880.5 653.6 L882.3 652.4 L884.2 651.3 L886.1 650.3 L888.0 649.3 L889.8 648.4 L891.7 647.5 L893.6 646.8 L895.5 646.1 L897.4 645.4 L899.2 644.8 L901.1 644.2 L903.0 643.7 L904.9 643.3 L906.8 642.9 L908.7 642.5 L910.6 642.2 L912.5 642.0 L914.5 641.7 L916.4 641.5 L918.3 641.4 L920.2 641.2 L922.2 641.2 L924.1 641.1 L926.0 641.1 L927.9 641.1 L929.9 641.1 L931.8 641.2 L933.7 641.3 L935.6 641.5 L937.5 641.7 L939.4 641.9 L941.3 642.2 L943.3 642.5 L945.1 642.9 L947.0 643.3 L948.9 643.8 L950.8 644.3 L952.7 644.8 L954.6 645.5 L956.5 646.1 L958.3 646.9 L960.2 647.7 L962.1 648.6 L964.0 649.5 L965.9 650.5 L967.7 651.6 L969.6 652.7 L971.5 654.0 L973.4 655.2 L975.3 656.6 L977.2 658.1 L979.1 659.5 L981.0 661.1 L982.9 662.8 L984.9 664.4 L986.8 666.2 L988.7 668.1 L990.7 669.9 L992.6 671.9 L994.6 673.9 L996.5 675.9 L998.5 678.0 L1000.4 680.1 L1002.4 682.3 L1004.4 684.5 L1006.3 686.7 L1008.3 689.0 L1010.3 691.3 L1012.3 693.7 L1014.2 696.0 L1016.2 698.4 L1018.2 700.8 L1020.2 703.2 L1022.2 705.7 L1024.2 708.2 L1026.1 710.7 L1028.1 713.3 L1030.1 715.8 L1032.1 718.4 L1034.1 721.0 L1036.0 723.7 L1038.0 726.4 L1040.0 729.1 L1042.0 731.8 L1044.0 734.5 L1045.9 737.3 L1047.9 740.2 L1049.9 743.0 L1051.9 745.9 L1053.9 748.8 L1055.9 751.7 L1057.8 754.7 L1059.8 757.7 L1061.8 760.8 L1063.8 763.8 L1065.8 767.0 L1067.8 770.1 L1069.7 773.3 L1071.7 776.5 L1073.7 779.7 L1075.7 783.0 L1077.7 786.3 L1079.7 789.6 L1081.7 792.9 L1083.7 796.3 L1085.6 799.7 L1087.6 803.1 L1089.6 806.6 L1091.6 810.1 L1093.6 813.6 L1095.6 817.1 L1097.6 820.6 L1099.6 824.2 L1101.6 827.7 L1103.6 831.3 L1105.6 834.9 L1107.6 838.5 L1109.6 842.0 L1111.6 845.6 L1113.6 849.2 L1115.6 852.7 L1117.6 856.3 L1119.6 859.8 L1121.6 863.3 L1123.6 866.8 L1125.6 870.2 L1127.7 873.6 L1129.7 877.0 L1131.7 880.4 L1133.7 883.7 L1135.7 887.0 L1137.7 890.2 L1139.7 893.4 L1141.8 896.6 L1143.8 899.8 L1145.8 902.9 L1147.8 906.0 L1149.8 909.1 L1151.8 912.1 L1153.9 915.1 L1155.9 918.1 L1157.9 921.1 L1159.9 924.1 L1161.9 927.0 L1163.9 929.9 L1165.9 932.8 L1167.9 935.7 L1169.9 938.6 L1171.9 941.4 L1173.9 944.2 L1176.0 947.1 L1178.0 949.9 L1180.0 952.7 L1182.0 955.5 L1184.0 958.2 L1186.0 961.0 L1188.0 963.8 L1190.0 966.5 L1192.0 969.3 L1194.0 972.0 L1196.0 974.7 L1198.0 977.5 L1200.0 980.2 L1202.0 982.9 L1204.0 985.6 L1206.0 988.3 L1208.1 990.9 L1210.1 993.6 L1212.1 996.3 L1214.1 998.9 L1216.1 1001.5 L1218.1 1004.1 L1220.1 1006.7 L1222.1 1009.3 L1224.1 1011.9 L1226.1 1014.5 L1228.2 1017.0 L1230.2 1019.5 L1232.2 1022.0 L1234.2 1024.5 L1236.2 1027.0 L1238.2 1029.4 L1240.3 1031.8 L1242.3 1034.2 L1244.3 1036.6 L1246.3 1038.9 L1248.3 1041.2 L1250.4 1043.5 L1252.4 1045.8 L1254.4 1048.0 L1256.4 1050.2 L1258.5 1052.4 L1260.5 1054.5 L1262.5 1056.6 L1264.5 1058.7 L1266.6 1060.8 L1268.6 1062.8 L1270.6 1064.8 L1272.7 1066.8 L1274.7 1068.8 L1276.7 1070.7 L1278.7 1072.6 L1280.8 1074.4 L1282.8 1076.3 L1284.8 1078.1 L1286.8 1079.9 L1288.9 1081.7 L1290.9 1083.5 L1292.9 1085.2 L1294.9 1087.0 L1296.9 1088.7 L1298.9 1090.4 L1301.0 1092.1 L1303.0 1093.8 L1305.0 1095.5 L1307.0 1097.1 L1309.0 1098.8 L1311.0 1100.4 L1313.0 1102.1 L1315.1 1103.7 L1317.1 1105.3 L1319.1 1106.9 L1321.2 1108.4 L1323.2 1110.0 L1325.2 1111.5 L1327.3 1113.0 L1329.3 1114.5 L1331.3 1115.9 L1333.4 1117.3 L1335.4 1118.7 L1337.4 1120.1 L1339.5 1121.4 L1341.5 1122.7 L1343.6 1124.0 L1345.6 1125.2 L1347.6 1126.5 L1349.7 1127.7 L1351.7 1128.9 L1353.7 1130.0 L1355.8 1131.2 L1357.8 1132.3 L1359.8 1133.4 L1361.8 1134.5 L1363.8 1135.7 L1365.8 1136.8 L1367.8 1137.8 L1369.8 1138.9 L1371.9 1140.0 L1373.9 1141.1 L1375.9 1142.2 L1377.9 1143.2 L1379.9 1144.3 L1381.9 1145.3 L1383.9 1146.4 L1385.9 1147.4 L1387.9 1148.5 L1390.0 1149.5 L1392.0 1150.5 L1394.0 1151.5 L1396.0 1152.5 L1398.0 1153.5 L1400.1 1154.4 L1402.1 1155.4 L1404.1 1156.3 L1406.2 1157.3 L1408.2 1158.2 L1410.2 1159.0 L1412.2 1159.9 L1414.2 1160.8 L1416.3 1161.7 L1418.3 1162.5 L1420.3 1163.3 L1422.3 1164.2 L1424.3 1165.0 L1426.4 1165.8 L1428.4 1166.6 L1430.4 1167.4 L1432.4 1168.2 L1434.4 1168.9 L1436.4 1169.7 L1438.5 1170.5 L1440.5 1171.2 L1442.5 1171.9 L1444.5 1172.7 L1446.5 1173.4 L1448.6 1174.1 L1450.6 1174.7 L1452.6 1175.4 L1454.6 1176.1 L1456.7 1176.7 L1458.7 1177.4 L1460.7 1178.0 L1462.7 1178.6 L1464.7 1179.2 L1466.7 1179.8 L1468.8 1180.4 L1470.8 1181.0 L1472.8 1181.6 L1474.8 1182.2 L1476.8 1182.8 L1478.8 1183.4 L1480.8 1183.9 L1482.8 1184.5 L1484.8 1185.1 L1486.8 1185.6 L1488.8 1186.2 L1490.8 1186.7 L1492.9 1187.3 L1494.9 1187.8 L1496.9 1188.3 L1498.9 1188.9 L1500.9 1189.4 L1502.9 1189.9 L1504.9 1190.5 L1506.9 1191.0 L1508.9 1191.5 L1510.9 1192.0 L1512.9 1192.5 L1514.9 1193.1 L1517.0 1193.5 L1519.0 1194.0 L1521.0 1194.5 L1523.0 1195.0 L1525.0 1195.5 L1527.1 1195.9 L1529.1 1196.3 L1531.1 1196.8 L1533.1 1197.2 L1535.2 1197.6 L1537.2 1198.0 L1539.2 1198.4 L1541.2 1198.7 L1543.2 1199.1 L1545.2 1199.5 L1547.3 1199.8 L1549.3 1200.2 L1551.3 1200.5 L1553.3 1200.8 L1555.3 1201.2 L1557.3 1201.5 L1559.3 1201.8 L1561.3 1202.1 L1563.3 1202.5 L1565.3 1202.8 L1567.3 1203.1 L1569.3 1203.4 L1571.3 1203.8 L1573.3 1204.1 L1575.3 1204.4 L1577.3 1204.7 L1579.3 1205.1 L1581.3 1205.4 L1583.3 1205.7 L1585.3 1206.0 L1587.3 1206.3 L1589.3 1206.7 L1591.3 1207.0 L1593.3 1207.3 L1595.4 1207.6 L1597.4 1207.9 L1599.4 1208.2 L1601.4 1208.5 L1603.4 1208.8 L1605.4 1209.0 L1607.4 1209.3 L1609.4 1209.6 L1611.4 1209.8 L1613.4 1210.1 L1615.5 1210.4 L1617.5 1210.6 L1619.5 1210.9 L1621.5 1211.1 L1623.5 1211.4 L1625.5 1211.6 L1627.5 1211.8 L1629.5 1212.1 L1631.5 1212.3 L1633.5 1212.5 L1635.5 1212.7 L1637.5 1212.9 L1639.5 1213.2 L1641.5 1213.4 L1643.6 1213.6 L1645.6 1213.8 L1647.6 1214.0 L1649.6 1214.2 L1651.6 1214.4 L1653.6 1214.6 L1655.6 1214.8 L1657.6 1215.0 L1659.6 1215.2 L1661.6 1215.4 L1663.6 1215.6 L1665.6 1215.7 L1667.6 1215.9 L1669.6 1216.1 L1671.6 1216.3 L1673.6 1216.4 L1675.7 1216.6 L1677.7 1216.7 L1679.7 1216.9 L1681.7 1217.1 L1683.7 1217.2 L1685.7 1217.4 L1687.7 1217.5 L1689.7 1217.6 L1691.7 1217.8 L1693.7 1217.9 L1695.7 1218.0 L1697.7 1218.2 L1699.7 1218.3 L1701.8 1218.4 L1703.8 1218.5 L1705.8 1218.6 L1707.8 1218.7 L1709.8 1218.8 L1711.8 1218.9 L1713.8 1219.0 L1715.8 1219.1 L1717.8 1219.2 L1719.8 1219.3 L1721.8 1219.4 L1723.8 1219.5 L1725.8 1219.6 L1727.8 1219.7 L1729.8 1219.8 L1731.8 1219.9 L1733.8 1220.0 L1735.8 1220.1 L1737.8 1220.2 L1739.8 1220.3 L1741.8 1220.4 L1743.8 1220.5 L1745.8 1220.6 L1747.8 1220.7 L1749.8 1220.8 L1751.8 1220.9 L1753.8 1221.0 L1755.8 1221.1 L1757.8 1221.2 L1759.8 1221.3 L1761.8 1221.4 L1763.8 1221.5 L1765.8 1221.6 L1767.8 1221.7 L1769.8 1221.8 L1771.8 1221.9 L1773.8 1222.0 L1775.8 1222.1 L1777.8 1222.2 L1779.8 1222.3 L1781.8 1222.4 L1783.8 1222.5 L1785.8 1222.6 L1787.8 1222.7 L1789.8 1222.8 L1791.8 1222.9 L1793.8 1223.0 L1795.8 1223.1 L1797.8 1223.2 L1799.8 1223.3 L1801.8 1223.3 L1803.8 1223.4 L1805.8 1223.5 L1807.8 1223.6 L1809.8 1223.7 L1811.8 1223.8 L1813.8 1223.9 L1815.8 1224.0 L1817.8 1224.1 L1819.8 1224.2 L1821.8 1224.3 L1823.8 1224.4 L1825.8 1224.5 L1827.8 1224.6 L1829.8 1224.7 L1831.8 1224.8 L1833.8 1224.9 L1835.8 1225.0 L1837.8 1225.1 L1839.8 1225.2 L1841.8 1225.3 L1843.8 1225.4 L1845.8 1225.5 L1847.8 1225.6 L1849.8 1225.7 L1851.8 1225.8 L1853.8 1225.9 L1855.8 1226.0 L1857.8 1226.1 L1859.8 1226.2 L1861.8 1226.3 L1863.8 1226.4 L1865.8 1226.5 L1867.8 1226.6 L1869.8 1226.7 L1871.8 1226.8 L1873.8 1226.9 L1875.8 1227.0 L1877.8 1227.1 L1879.8 1227.2 L1881.8 1227.3 L1883.8 1227.3 L1885.8 1227.4 L1887.8 1227.5 L1889.8 1227.6 L1891.8 1227.7 L1893.8 1227.8 L1895.8 1227.9 L1897.8 1227.9 L1899.8 1228.0 L1901.8 1228.1 L1903.9 1228.2 L1905.9 1228.2 L1907.9 1228.3 L1909.9 1228.4 L1911.9 1228.4 L1913.9 1228.5 L1915.9 1228.5 L1917.9 1228.6 L1919.9 1228.6 L1921.9 1228.7 L1923.9 1228.7 L1925.9 1228.7 L1927.9 1228.8 L1929.9 1228.8 L1931.9 1228.8 L1933.9 1228.9 L1935.9 1228.9 L1938.0 1228.9 L1940.0 1228.9 L1942.0 1228.9 L1944.0 1229.0 L1946.0 1229.0 L1948.0 1229.0 L1950.0 1229.0 L1952.0 1229.0 L1954.0 1229.0 L1956.0 1229.0 L1958.0 1229.0 L1960.0 1229.0 L1962.0 1229.0 L1964.0 1229.0 L1966.0 1229.0 L1968.0 1229.1 L1970.0 1229.1 L1972.0 1229.1 L1974.0 1229.1 L1976.0 1229.1 L1978.0 1229.1 L1980.0 1229.1 L1982.0 1229.1 L1984.0 1229.1 L1986.0 1229.1 L1988.0 1229.1 L1990.0 1229.1 L1992.0 1229.1 L1994.0 1229.1 L1996.0 1229.1 L1998.0 1229.1 L2000.0 1229.1 L2002.0 1229.1 L2004.0 1229.1 L2006.0 1229.1 L2008.0 1229.1 L2010.0 1229.1 L2012.0 1229.1 L2014.0 1229.1 L2016.0 1229.1 L2018.0 1229.1 L2020.0 1229.1 L2022.0 1229.1 L2024.0 1229.1 L2026.0 1229.1 L2028.0 1229.1 L2030.0 1229.1 L2032.0 1229.1 L2034.0 1229.1 L2036.0 1229.1 L2038.0 1229.1 L2038.0 1220.5 L2036.0 1220.5 L2034.0 1220.5 L2032.0 1220.5 L2030.0 1220.5 L2028.0 1220.5 L2026.0 1220.5 L2024.0 1220.5 L2022.0 1220.5 L2020.0 1220.5 L2018.0 1220.5 L2016.0 1220.5 L2014.0 1220.5 L2012.0 1220.5 L2010.0 1220.5 L2008.0 1220.5 L2006.0 1220.5 L2004.0 1220.5 L2002.0 1220.5 L2000.0 1220.5 L1998.0 1220.5 L1996.0 1220.5 L1994.0 1220.5 L1992.0 1220.5 L1990.0 1220.5 L1988.0 1220.5 L1986.0 1220.5 L1984.0 1220.5 L1982.0 1220.5 L1980.0 1220.5 L1978.0 1220.5 L1976.0 1220.5 L1974.0 1220.5 L1972.0 1220.5 L1970.0 1220.5 L1968.0 1220.5 L1966.0 1220.4 L1964.0 1220.4 L1962.0 1220.4 L1960.0 1220.4 L1958.0 1220.4 L1956.0 1220.4 L1954.0 1220.4 L1952.0 1220.4 L1950.0 1220.4 L1948.0 1220.4 L1946.0 1220.4 L1944.0 1220.4 L1942.0 1220.3 L1940.0 1220.3 L1938.0 1220.3 L1936.1 1220.3 L1934.1 1220.3 L1932.1 1220.2 L1930.1 1220.2 L1928.1 1220.2 L1926.1 1220.1 L1924.1 1220.1 L1922.1 1220.1 L1920.1 1220.0 L1918.1 1220.0 L1916.1 1219.9 L1914.1 1219.9 L1912.1 1219.8 L1910.1 1219.8 L1908.1 1219.7 L1906.1 1219.6 L1904.1 1219.6 L1902.2 1219.5 L1900.2 1219.4 L1898.2 1219.3 L1896.2 1219.3 L1894.2 1219.2 L1892.2 1219.1 L1890.2 1219.0 L1888.2 1218.9 L1886.2 1218.8 L1884.2 1218.7 L1882.2 1218.7 L1880.2 1218.6 L1878.2 1218.5 L1876.2 1218.4 L1874.2 1218.3 L1872.2 1218.2 L1870.2 1218.1 L1868.2 1218.0 L1866.2 1217.9 L1864.2 1217.8 L1862.2 1217.7 L1860.2 1217.6 L1858.2 1217.5 L1856.2 1217.4 L1854.2 1217.3 L1852.2 1217.2 L1850.2 1217.1 L1848.2 1217.0 L1846.2 1216.9 L1844.2 1216.8 L1842.2 1216.7 L1840.2 1216.6 L1838.2 1216.5 L1836.2 1216.4 L1834.2 1216.3 L1832.2 1216.2 L1830.2 1216.1 L1828.2 1216.0 L1826.2 1215.9 L1824.2 1215.8 L1822.2 1215.7 L1820.2 1215.6 L1818.2 1215.5 L1816.2 1215.4 L1814.2 1215.3 L1812.2 1215.2 L1810.2 1215.1 L1808.2 1215.0 L1806.2 1214.9 L1804.2 1214.9 L1802.2 1214.8 L1800.2 1214.7 L1798.2 1214.6 L1796.2 1214.5 L1794.2 1214.4 L1792.2 1214.3 L1790.2 1214.2 L1788.2 1214.1 L1786.2 1214.0 L1784.2 1213.9 L1782.2 1213.8 L1780.2 1213.7 L1778.2 1213.6 L1776.2 1213.5 L1774.2 1213.4 L1772.2 1213.3 L1770.2 1213.2 L1768.2 1213.1 L1766.2 1213.0 L1764.2 1212.9 L1762.2 1212.8 L1760.2 1212.7 L1758.2 1212.6 L1756.2 1212.5 L1754.2 1212.4 L1752.2 1212.3 L1750.2 1212.2 L1748.2 1212.1 L1746.2 1212.0 L1744.2 1211.9 L1742.2 1211.8 L1740.2 1211.7 L1738.2 1211.6 L1736.2 1211.5 L1734.2 1211.4 L1732.2 1211.3 L1730.2 1211.2 L1728.2 1211.1 L1726.2 1211.0 L1724.2 1210.9 L1722.2 1210.8 L1720.2 1210.7 L1718.2 1210.6 L1716.2 1210.5 L1714.2 1210.4 L1712.2 1210.3 L1710.2 1210.2 L1708.2 1210.1 L1706.2 1210.0 L1704.2 1209.9 L1702.2 1209.8 L1700.3 1209.7 L1698.3 1209.6 L1696.3 1209.4 L1694.3 1209.3 L1692.3 1209.2 L1690.3 1209.0 L1688.3 1208.9 L1686.3 1208.8 L1684.3 1208.6 L1682.3 1208.5 L1680.3 1208.3 L1678.3 1208.2 L1676.3 1208.0 L1674.4 1207.8 L1672.4 1207.7 L1670.4 1207.5 L1668.4 1207.3 L1666.4 1207.2 L1664.4 1207.0 L1662.4 1206.8 L1660.4 1206.6 L1658.4 1206.4 L1656.4 1206.2 L1654.4 1206.0 L1652.4 1205.8 L1650.4 1205.6 L1648.4 1205.4 L1646.4 1205.2 L1644.4 1205.0 L1642.5 1204.8 L1640.5 1204.6 L1638.5 1204.4 L1636.5 1204.2 L1634.5 1203.9 L1632.5 1203.7 L1630.5 1203.5 L1628.5 1203.3 L1626.5 1203.0 L1624.5 1202.8 L1622.5 1202.5 L1620.5 1202.3 L1618.5 1202.1 L1616.5 1201.8 L1614.6 1201.5 L1612.6 1201.3 L1610.6 1201.0 L1608.6 1200.8 L1606.6 1200.5 L1604.6 1200.2 L1602.6 1199.9 L1600.6 1199.6 L1598.6 1199.3 L1596.6 1199.0 L1594.7 1198.7 L1592.7 1198.4 L1590.7 1198.1 L1588.7 1197.8 L1586.7 1197.5 L1584.7 1197.2 L1582.7 1196.8 L1580.7 1196.5 L1578.7 1196.2 L1576.7 1195.9 L1574.7 1195.5 L1572.7 1195.2 L1570.7 1194.9 L1568.7 1194.6 L1566.7 1194.2 L1564.7 1193.9 L1562.7 1193.6 L1560.7 1193.3 L1558.7 1192.9 L1556.7 1192.6 L1554.7 1192.3 L1552.7 1192.0 L1550.7 1191.6 L1548.7 1191.3 L1546.8 1190.9 L1544.8 1190.6 L1542.8 1190.2 L1540.8 1189.9 L1538.8 1189.5 L1536.8 1189.1 L1534.9 1188.7 L1532.9 1188.3 L1530.9 1187.8 L1528.9 1187.4 L1527.0 1187.0 L1525.0 1186.5 L1523.0 1186.1 L1521.0 1185.6 L1519.0 1185.1 L1517.1 1184.6 L1515.1 1184.1 L1513.1 1183.6 L1511.1 1183.1 L1509.1 1182.6 L1507.1 1182.0 L1505.1 1181.5 L1503.1 1181.0 L1501.1 1180.4 L1499.1 1179.9 L1497.1 1179.4 L1495.1 1178.8 L1493.2 1178.3 L1491.2 1177.7 L1489.2 1177.2 L1487.2 1176.6 L1485.2 1176.1 L1483.2 1175.5 L1481.2 1174.9 L1479.2 1174.4 L1477.2 1173.8 L1475.2 1173.2 L1473.2 1172.6 L1471.2 1172.0 L1469.3 1171.5 L1467.3 1170.8 L1465.3 1170.2 L1463.3 1169.6 L1461.3 1169.0 L1459.3 1168.4 L1457.4 1167.7 L1455.4 1167.1 L1453.4 1166.4 L1451.4 1165.7 L1449.5 1165.0 L1447.5 1164.3 L1445.5 1163.6 L1443.5 1162.9 L1441.5 1162.2 L1439.6 1161.4 L1437.6 1160.7 L1435.6 1159.9 L1433.6 1159.1 L1431.6 1158.3 L1429.6 1157.6 L1427.7 1156.8 L1425.7 1155.9 L1423.7 1155.1 L1421.7 1154.3 L1419.7 1153.5 L1417.8 1152.6 L1415.8 1151.8 L1413.8 1150.9 L1411.8 1150.0 L1409.8 1149.1 L1407.9 1148.2 L1405.9 1147.3 L1403.9 1146.3 L1402.0 1145.4 L1400.0 1144.4 L1398.0 1143.5 L1396.0 1142.5 L1394.0 1141.5 L1392.1 1140.4 L1390.1 1139.4 L1388.1 1138.4 L1386.1 1137.3 L1384.1 1136.3 L1382.1 1135.2 L1380.1 1134.2 L1378.1 1133.1 L1376.1 1132.0 L1374.2 1131.0 L1372.2 1129.9 L1370.2 1128.8 L1368.2 1127.7 L1366.2 1126.6 L1364.2 1125.5 L1362.2 1124.4 L1360.2 1123.3 L1358.3 1122.1 L1356.3 1121.0 L1354.3 1119.8 L1352.4 1118.6 L1350.4 1117.4 L1348.4 1116.2 L1346.5 1115.0 L1344.5 1113.7 L1342.6 1112.4 L1340.6 1111.1 L1338.6 1109.7 L1336.7 1108.3 L1334.7 1106.9 L1332.7 1105.5 L1330.8 1104.0 L1328.8 1102.5 L1326.8 1101.0 L1324.9 1099.5 L1322.9 1097.9 L1320.9 1096.4 L1319.0 1094.8 L1317.0 1093.2 L1315.0 1091.5 L1313.0 1089.9 L1311.0 1088.2 L1309.0 1086.6 L1307.0 1084.9 L1305.1 1083.2 L1303.1 1081.5 L1301.1 1079.8 L1299.1 1078.1 L1297.1 1076.4 L1295.1 1074.6 L1293.2 1072.8 L1291.2 1071.1 L1289.2 1069.3 L1287.2 1067.4 L1285.3 1065.6 L1283.3 1063.7 L1281.3 1061.8 L1279.3 1059.9 L1277.4 1058.0 L1275.4 1056.0 L1273.4 1054.0 L1271.5 1052.0 L1269.5 1050.0 L1267.5 1047.9 L1265.5 1045.8 L1263.6 1043.6 L1261.6 1041.5 L1259.6 1039.3 L1257.6 1037.1 L1255.7 1034.8 L1253.7 1032.5 L1251.7 1030.2 L1249.7 1027.9 L1247.7 1025.5 L1245.8 1023.1 L1243.8 1020.7 L1241.8 1018.3 L1239.8 1015.9 L1237.8 1013.4 L1235.8 1010.9 L1233.9 1008.4 L1231.9 1005.8 L1229.9 1003.3 L1227.9 1000.7 L1225.9 998.1 L1223.9 995.5 L1221.9 992.9 L1219.9 990.3 L1217.9 987.7 L1215.9 985.0 L1214.0 982.3 L1212.0 979.7 L1210.0 977.0 L1208.0 974.3 L1206.0 971.6 L1204.0 968.9 L1202.0 966.2 L1200.0 963.4 L1198.0 960.7 L1196.0 958.0 L1194.0 955.2 L1192.0 952.4 L1190.0 949.7 L1188.0 946.9 L1186.0 944.1 L1184.0 941.3 L1182.1 938.5 L1180.1 935.7 L1178.1 932.8 L1176.1 930.0 L1174.1 927.1 L1172.1 924.3 L1170.1 921.4 L1168.1 918.4 L1166.1 915.5 L1164.1 912.6 L1162.1 909.6 L1160.2 906.6 L1158.2 903.6 L1156.2 900.5 L1154.2 897.5 L1152.2 894.4 L1150.2 891.3 L1148.3 888.1 L1146.3 884.9 L1144.3 881.7 L1142.3 878.5 L1140.3 875.2 L1138.3 871.8 L1136.3 868.5 L1134.4 865.1 L1132.4 861.7 L1130.4 858.3 L1128.4 854.8 L1126.4 851.3 L1124.4 847.8 L1122.4 844.2 L1120.4 840.7 L1118.4 837.1 L1116.4 833.5 L1114.4 830.0 L1112.4 826.4 L1110.4 822.8 L1108.4 819.2 L1106.4 815.7 L1104.4 812.1 L1102.4 808.6 L1100.4 805.1 L1098.4 801.6 L1096.4 798.1 L1094.4 794.6 L1092.3 791.2 L1090.3 787.8 L1088.3 784.4 L1086.3 781.1 L1084.3 777.7 L1082.3 774.4 L1080.3 771.2 L1078.3 768.0 L1076.2 764.7 L1074.2 761.6 L1072.2 758.4 L1070.2 755.3 L1068.2 752.2 L1066.2 749.2 L1064.1 746.2 L1062.1 743.2 L1060.1 740.3 L1058.1 737.3 L1056.1 734.4 L1054.1 731.6 L1052.0 728.8 L1050.0 726.0 L1048.0 723.2 L1046.0 720.5 L1044.0 717.8 L1041.9 715.1 L1039.9 712.4 L1037.9 709.8 L1035.9 707.2 L1033.9 704.6 L1031.8 702.1 L1029.8 699.6 L1027.8 697.1 L1025.8 694.6 L1023.8 692.2 L1021.8 689.7 L1019.7 687.3 L1017.7 685.0 L1015.7 682.6 L1013.7 680.3 L1011.6 678.0 L1009.6 675.8 L1007.6 673.6 L1005.5 671.4 L1003.5 669.2 L1001.4 667.1 L999.4 665.1 L997.3 663.1 L995.3 661.1 L993.2 659.2 L991.1 657.4 L989.1 655.6 L987.0 653.9 L984.9 652.2 L982.8 650.6 L980.7 649.1 L978.6 647.6 L976.5 646.3 L974.4 645.0 L972.3 643.7 L970.1 642.6 L968.0 641.5 L965.9 640.5 L963.8 639.5 L961.7 638.7 L959.5 637.8 L957.4 637.1 L955.3 636.5 L953.2 635.8 L951.1 635.3 L949.0 634.8 L946.9 634.4 L944.7 634.0 L942.7 633.6 L940.6 633.3 L938.5 633.1 L936.4 632.9 L934.3 632.7 L932.2 632.6 L930.1 632.5 L928.1 632.5 L926.0 632.5 L923.9 632.5 L921.8 632.6 L919.8 632.7 L917.7 632.8 L915.6 632.9 L913.5 633.2 L911.5 633.4 L909.4 633.7 L907.3 634.0 L905.2 634.4 L903.1 634.8 L901.0 635.3 L898.9 635.8 L896.8 636.4 L894.6 637.0 L892.5 637.7 L890.4 638.5 L888.3 639.4 L886.2 640.2 L884.0 641.2 L881.9 642.3 L879.8 643.4 L877.7 644.6 L875.5 645.9 L873.4 647.2 L871.3 648.6 L869.2 650.1 L867.1 651.7 L865.0 653.3 L862.9 655.1 L860.9 656.9 L858.8 658.7 L856.7 660.7 L854.6 662.7 L852.6 664.7 L850.5 666.9 L848.5 669.0 L846.4 671.2 L844.3 673.5 L842.3 675.9 L840.3 678.2 L838.2 680.7 L836.2 683.1 L834.2 685.6 L832.1 688.1 L830.1 690.7 L828.1 693.2 L826.1 695.9 L824.1 698.5 L822.1 701.1 L820.0 703.8 L818.0 706.5 L816.0 709.2 L814.0 711.9 L812.0 714.6 L810.0 717.4 L808.0 720.1 L806.0 722.9 L804.0 725.6 L802.0 728.4 L800.0 731.2 L798.0 734.0 L796.0 736.7 L794.0 739.5 L792.0 742.3 L790.0 745.1 L788.0 747.9 L786.0 750.7 L784.0 753.5 L782.0 756.4 L780.0 759.2 L778.0 762.0 L776.0 764.8 L774.0 767.6 L771.9 770.4 L769.9 773.3 L767.9 776.1 L765.9 778.9 L763.9 781.7 L761.9 784.6 L759.9 787.4 L757.9 790.3 L755.9 793.1 L753.9 795.9 L751.9 798.8 L749.9 801.6 L747.9 804.5 L745.9 807.3 L743.9 810.2 L741.9 813.0 L739.9 815.9 L737.9 818.7 L735.9 821.6 L733.9 824.4 L731.9 827.3 L729.9 830.1 L727.9 832.9 L725.9 835.8 L723.9 838.6 L721.9 841.5 L719.9 844.3 L717.9 847.2 L715.9 850.0 L713.9 852.9 L711.9 855.7 L709.9 858.6 L707.9 861.4 L705.9 864.3 L703.9 867.1 L701.9 869.9 L699.9 872.8 L697.9 875.6 L695.9 878.5 L693.9 881.3 L691.9 884.2 L689.9 887.0 L687.9 889.9 L685.9 892.7 L683.9 895.6 L681.9 898.4 L679.9 901.3 L677.9 904.1 L675.9 906.9 L673.9 909.8 L671.9 912.6 L669.9 915.5 L667.9 918.3 L665.9 921.2 L663.9 924.0 L661.9 926.9 L659.9 929.7 L657.9 932.6 L655.9 935.4 L653.9 938.2 L651.9 941.1 L649.9 943.9 L647.9 946.8 L645.9 949.6 L643.9 952.5 L641.9 955.3 L639.9 958.2 L637.9 961.0 L635.9 963.9 L633.9 966.7 L631.9 969.6 L629.9 972.4 L627.9 975.2 L625.9 978.1 L623.9 980.9 L621.9 983.8 L619.9 986.6 L617.9 989.5 L615.9 992.3 L613.9 995.2 L611.9 998.0 L609.9 1000.9 L607.9 1003.7 L605.9 1006.6 L603.9 1009.4 L601.9 1012.2 L599.9 1015.1 L597.9 1017.9 L595.9 1020.8 L593.9 1023.6 L591.9 1026.5 L589.9 1029.3 L587.9 1032.2 L585.9 1035.0 L583.9 1037.9 L581.9 1040.7 L579.9 1043.6 L577.9 1046.4 L575.9 1049.2 L573.9 1052.1 L571.9 1054.9 L569.9 1057.8 L567.9 1060.6 L565.9 1063.5 L563.9 1066.3 L561.9 1069.2 L559.9 1072.0 L557.9 1074.9 L555.9 1077.7 L553.9 1080.5 L551.9 1083.4 L549.9 1086.2 L547.9 1089.1 L545.9 1091.9 L543.9 1094.8 L541.9 1097.6 L539.9 1100.5 L537.9 1103.3 L535.9 1106.2 L533.9 1109.0 L531.9 1111.9 L529.9 1114.7 L527.9 1117.5 L525.9 1120.4 L523.9 1123.2 L521.9 1126.1 L519.9 1128.9 L517.9 1131.8 L515.9 1134.6 L513.9 1137.5 L511.9 1140.3 L509.9 1143.2 L507.9 1146.0 L505.9 1148.9 L503.9 1151.7 L501.9 1154.5 L499.9 1157.4 L497.9 1160.2 L495.9 1163.1 L493.9 1165.9 L491.9 1168.8 L489.9 1171.6 L487.9 1174.5 L485.9 1177.3 L483.9 1180.2 L481.9 1183.0 L479.9 1185.9 L477.9 1188.7 L475.9 1191.5 L473.9 1194.4 L471.9 1197.2 L469.9 1200.1 L467.9 1202.9 L465.9 1205.8 L463.9 1208.6 L461.9 1211.5 L459.9 1214.3 L457.9 1217.2 L455.9 1220.0 L453.9 1222.8 L451.9 1225.7 L449.9 1228.5 L447.9 1231.4 L445.9 1234.2 L443.9 1237.1 L441.9 1239.9 L439.9 1242.8 L437.9 1245.6 L435.9 1248.5 L433.9 1251.3 L431.9 1254.2 L429.9 1257.0 L427.9 1259.8 L425.9 1262.7 L423.9 1265.5 L421.9 1268.4 L419.9 1271.2 L417.9 1274.1 L415.9 1276.9 L413.9 1279.8 L411.9 1282.6 L409.9 1285.5 L407.9 1288.3 L405.9 1291.2 L403.9 1294.0 L401.9 1296.8 L399.9 1299.7 L397.9 1302.5 L395.9 1305.4 L393.9 1308.2 L391.9 1311.1 L389.9 1313.9 L387.9 1316.8 L385.9 1319.6 L383.9 1322.5 L381.9 1325.3 L379.9 1328.2 L377.9 1331.0 L375.9 1333.8 L373.9 1336.7 L371.9 1339.5 L369.9 1342.4 L367.9 1345.2 L365.9 1348.1 L363.9 1350.9 L361.9 1353.8 L359.9 1356.6 L357.9 1359.5 L355.9 1362.3 L353.9 1365.1 L351.9 1368.0 L349.9 1370.8 L347.9 1373.7 L345.9 1376.5 L343.9 1379.4 L341.9 1382.2 L339.9 1385.1 L337.9 1387.9 L335.9 1390.8 L333.9 1393.6 L331.9 1396.5 L329.9 1399.3 L327.9 1402.1 L325.9 1405.0 L323.9 1407.8 L321.9 1410.7 L319.9 1413.5 L317.9 1416.4 L315.9 1419.2 L313.9 1422.1 L311.9 1424.9 L309.9 1427.8 L307.9 1430.6 L305.9 1433.5 L303.9 1436.3 L301.9 1439.1 L299.9 1442.0 L297.9 1444.8 L295.9 1447.7 L293.9 1450.5 L291.9 1453.4 L289.9 1456.2 L287.9 1459.1 L285.9 1461.9 L283.9 1464.8 L281.9 1467.6 L279.9 1470.5 L277.9 1473.3 L275.9 1476.1Z"/>
<path class="cv" fill="#0000ff" d="M284.4 1481.5 L286.4 1478.0 L288.4 1474.4 L290.4 1470.9 L292.4 1467.4 L294.4 1463.9 L296.4 1460.4 L298.4 1456.8 L300.4 1453.3 L302.4 1449.8 L304.4 1446.3 L306.4 1442.7 L308.4 1439.2 L310.4 1435.7 L312.4 1432.2 L314.4 1428.6 L316.4 1425.1 L318.4 1421.6 L320.4 1418.1 L322.4 1414.5 L324.4 1411.0 L326.4 1407.5 L328.4 1404.0 L330.4 1400.4 L332.4 1396.9 L334.4 1393.4 L336.4 1389.9 L338.4 1386.3 L340.4 1382.8 L342.4 1379.3 L344.4 1375.8 L346.4 1372.3 L348.4 1368.7 L350.4 1365.2 L352.4 1361.7 L354.4 1358.2 L356.4 1354.6 L358.4 1351.1 L360.4 1347.6 L362.4 1344.1 L364.4 1340.5 L366.4 1337.0 L368.4 1333.5 L370.4 1330.0 L372.4 1326.4 L374.4 1322.9 L376.4 1319.4 L378.4 1315.9 L380.4 1312.3 L382.4 1308.8 L384.4 1305.3 L386.4 1301.8 L388.4 1298.2 L390.4 1294.7 L392.4 1291.2 L394.4 1287.7 L396.4 1284.2 L398.4 1280.6 L400.4 1277.1 L402.4 1273.6 L404.4 1270.1 L406.4 1266.5 L408.4 1263.0 L410.4 1259.5 L412.4 1256.0 L414.4 1252.4 L416.4 1248.9 L418.4 1245.4 L420.4 1241.9 L422.4 1238.3 L424.4 1234.8 L426.4 1231.3 L428.4 1227.8 L430.4 1224.2 L432.4 1220.7 L434.4 1217.2 L436.4 1213.7 L438.4 1210.1 L440.4 1206.6 L442.4 1203.1 L444.4 1199.6 L446.4 1196.1 L448.4 1192.5 L450.4 1189.0 L452.4 1185.5 L454.4 1182.0 L456.4 1178.4 L458.4 1174.9 L460.4 1171.4 L462.4 1167.9 L464.4 1164.3 L466.4 1160.8 L468.4 1157.3 L470.4 1153.8 L472.4 1150.2 L474.4 1146.7 L476.4 1143.2 L478.4 1139.7 L480.4 1136.1 L482.4 1132.6 L484.4 1129.1 L486.4 1125.6 L488.4 1122.0 L490.4 1118.5 L492.4 1115.0 L494.4 1111.5 L496.4 1108.0 L498.4 1104.4 L500.4 1100.9 L502.4 1097.4 L504.4 1093.9 L506.4 1090.3 L508.4 1086.8 L510.4 1083.3 L512.4 1079.8 L514.4 1076.2 L516.4 1072.7 L518.4 1069.2 L520.4 1065.7 L522.4 1062.1 L524.4 1058.6 L526.4 1055.1 L528.4 1051.6 L530.4 1048.0 L532.4 1044.5 L534.4 1041.0 L536.4 1037.5 L538.4 1033.9 L540.4 1030.4 L542.4 1026.9 L544.4 1023.4 L546.4 1019.9 L548.4 1016.3 L550.4 1012.8 L552.4 1009.3 L554.4 1005.8 L556.4 1002.2 L558.4 998.7 L560.4 995.2 L562.4 991.7 L564.4 988.1 L566.4 984.6 L568.4 981.1 L570.4 977.6 L572.4 974.0 L574.4 970.5 L576.4 967.0 L578.4 963.5 L580.4 959.9 L582.4 956.4 L584.4 952.9 L586.4 949.4 L588.4 945.8 L590.4 942.3 L592.4 938.8 L594.4 935.3 L596.4 931.8 L598.4 928.2 L600.4 924.7 L602.4 921.2 L604.4 917.7 L606.4 914.1 L608.4 910.6 L610.4 907.1 L612.4 903.6 L614.4 900.0 L616.4 896.5 L618.4 893.0 L620.4 889.5 L622.4 885.9 L624.4 882.4 L626.4 878.9 L628.4 875.4 L630.4 871.8 L632.4 868.3 L634.4 864.8 L636.4 861.3 L638.4 857.7 L640.4 854.2 L642.4 850.7 L644.4 847.2 L646.4 843.7 L648.4 840.1 L650.4 836.6 L652.4 833.1 L654.4 829.6 L656.4 826.0 L658.4 822.5 L660.4 819.0 L662.4 815.5 L664.4 811.9 L666.4 808.4 L668.4 804.9 L670.4 801.4 L672.4 797.8 L674.4 794.3 L676.4 790.8 L678.4 787.3 L680.4 783.7 L682.4 780.2 L684.4 776.7 L686.4 773.2 L688.4 769.6 L690.4 766.1 L692.4 762.6 L694.4 759.1 L696.4 755.6 L698.4 752.0 L700.4 748.5 L702.4 745.0 L704.4 741.5 L706.4 737.9 L708.4 734.4 L710.4 730.9 L712.4 727.4 L714.4 723.8 L716.4 720.3 L718.4 716.8 L720.4 713.3 L722.4 709.7 L724.4 706.2 L726.4 702.7 L728.4 699.2 L730.4 695.6 L732.4 692.1 L734.4 688.6 L736.4 685.1 L738.4 681.5 L740.4 678.0 L742.4 674.5 L744.4 671.0 L746.4 667.5 L748.4 664.0 L750.4 660.5 L752.4 657.1 L754.4 653.7 L756.4 650.2 L758.4 646.8 L760.3 643.4 L762.3 640.0 L764.3 636.6 L766.3 633.2 L768.3 629.9 L770.3 626.5 L772.3 623.1 L774.3 619.8 L776.3 616.4 L778.3 613.0 L780.3 609.7 L782.3 606.3 L784.3 602.9 L786.3 599.6 L788.3 596.2 L790.3 592.9 L792.3 589.5 L794.3 586.1 L796.3 582.8 L798.3 579.4 L800.3 576.0 L802.3 572.7 L804.3 569.3 L806.3 565.9 L808.3 562.6 L810.3 559.2 L812.3 555.9 L814.3 552.6 L816.3 549.2 L818.3 545.9 L820.3 542.7 L822.3 539.4 L824.3 536.2 L826.3 533.0 L828.2 529.8 L830.2 526.7 L832.2 523.6 L834.2 520.6 L836.1 517.6 L838.1 514.7 L840.1 511.8 L842.0 509.0 L844.0 506.3 L845.9 503.6 L847.9 501.1 L849.8 498.5 L851.8 496.1 L853.7 493.8 L855.6 491.5 L857.6 489.4 L859.5 487.3 L861.4 485.4 L863.3 483.5 L865.2 481.7 L867.1 480.0 L868.9 478.4 L870.8 477.0 L872.7 475.6 L874.5 474.3 L876.3 473.2 L878.2 472.1 L880.0 471.1 L881.8 470.2 L883.7 469.4 L885.4 468.7 L887.2 468.1 L889.1 467.6 L890.9 467.1 L892.6 466.8 L894.5 466.6 L896.2 466.4 L898.0 466.4 L899.9 466.4 L901.6 466.5 L903.4 466.7 L905.3 467.0 L907.1 467.3 L908.8 467.8 L910.7 468.4 L912.5 469.0 L914.3 469.8 L916.2 470.6 L918.0 471.5 L919.8 472.5 L921.7 473.6 L923.5 474.8 L925.3 476.1 L927.2 477.5 L929.1 478.9 L931.0 480.5 L932.9 482.1 L934.8 483.9 L936.7 485.7 L938.6 487.6 L940.5 489.6 L942.4 491.7 L944.4 493.9 L946.3 496.2 L948.2 498.5 L950.2 501.0 L952.1 503.4 L954.1 506.0 L956.0 508.7 L958.0 511.4 L959.9 514.2 L961.9 517.0 L963.9 519.9 L965.8 522.9 L967.8 526.0 L969.8 529.1 L971.7 532.3 L973.7 535.5 L975.7 538.8 L977.6 542.1 L979.6 545.5 L981.6 549.0 L983.6 552.5 L985.6 556.1 L987.6 559.7 L989.5 563.3 L991.5 567.0 L993.5 570.8 L995.5 574.6 L997.5 578.4 L999.5 582.3 L1001.4 586.2 L1003.4 590.2 L1005.4 594.2 L1007.4 598.2 L1009.4 602.3 L1011.4 606.4 L1013.4 610.6 L1015.4 614.7 L1017.4 618.9 L1019.4 623.2 L1021.4 627.5 L1023.3 631.8 L1025.3 636.1 L1027.3 640.5 L1029.3 644.8 L1031.3 649.2 L1033.3 653.7 L1035.3 658.1 L1037.3 662.6 L1039.3 667.1 L1041.3 671.6 L1043.3 676.2 L1045.3 680.7 L1047.3 685.3 L1049.3 689.9 L1051.3 694.5 L1053.3 699.2 L1055.3 703.8 L1057.3 708.5 L1059.3 713.1 L1061.3 717.8 L1063.3 722.5 L1065.3 727.2 L1067.3 731.8 L1069.3 736.5 L1071.3 741.2 L1073.3 746.0 L1075.3 750.7 L1077.3 755.4 L1079.3 760.1 L1081.3 764.8 L1083.3 769.5 L1085.3 774.2 L1087.3 778.9 L1089.3 783.6 L1091.3 788.4 L1093.3 793.1 L1095.3 797.8 L1097.3 802.5 L1099.3 807.2 L1101.3 811.8 L1103.3 816.5 L1105.3 821.1 L1107.3 825.7 L1109.3 830.2 L1111.3 834.7 L1113.3 839.2 L1115.3 843.6 L1117.4 847.9 L1119.4 852.2 L1121.4 856.4 L1123.4 860.6 L1125.4 864.7 L1127.5 868.7 L1129.5 872.7 L1131.5 876.6 L1133.5 880.4 L1135.5 884.1 L1137.6 887.8 L1139.6 891.4 L1141.6 894.9 L1143.6 898.4 L1145.7 901.9 L1147.7 905.2 L1149.7 908.6 L1151.7 911.9 L1153.7 915.1 L1155.8 918.3 L1157.8 921.5 L1159.8 924.7 L1161.8 927.8 L1163.8 930.9 L1165.8 933.9 L1167.8 937.0 L1169.8 940.0 L1171.8 943.0 L1173.8 946.1 L1175.9 949.1 L1177.9 952.1 L1179.9 955.0 L1181.9 958.0 L1183.9 961.0 L1185.9 963.9 L1187.9 966.9 L1189.9 969.8 L1191.9 972.8 L1193.9 975.7 L1195.9 978.6 L1197.9 981.5 L1199.9 984.3 L1202.0 987.2 L1204.0 990.0 L1206.0 992.8 L1208.0 995.5 L1210.0 998.2 L1212.1 1000.9 L1214.1 1003.5 L1216.1 1006.2 L1218.2 1008.7 L1220.2 1011.2 L1222.2 1013.7 L1224.3 1016.1 L1226.3 1018.5 L1228.3 1020.8 L1230.4 1023.1 L1232.4 1025.4 L1234.4 1027.6 L1236.5 1029.8 L1238.5 1031.9 L1240.6 1034.0 L1242.6 1036.0 L1244.6 1038.1 L1246.6 1040.1 L1248.7 1042.0 L1250.7 1044.0 L1252.7 1045.9 L1254.8 1047.8 L1256.8 1049.6 L1258.8 1051.5 L1260.8 1053.3 L1262.9 1055.1 L1264.9 1056.9 L1266.9 1058.6 L1268.9 1060.3 L1271.0 1062.1 L1273.0 1063.7 L1275.0 1065.4 L1277.0 1067.1 L1279.1 1068.7 L1281.1 1070.3 L1283.1 1071.9 L1285.1 1073.5 L1287.1 1075.0 L1289.2 1076.6 L1291.2 1078.1 L1293.2 1079.6 L1295.2 1081.1 L1297.2 1082.6 L1299.2 1084.1 L1301.2 1085.6 L1303.3 1087.1 L1305.3 1088.5 L1307.3 1090.0 L1309.3 1091.4 L1311.3 1092.9 L1313.3 1094.3 L1315.4 1095.7 L1317.4 1097.1 L1319.4 1098.5 L1321.4 1099.8 L1323.4 1101.2 L1325.5 1102.5 L1327.5 1103.8 L1329.5 1105.1 L1331.6 1106.4 L1333.6 1107.7 L1335.6 1108.9 L1337.7 1110.1 L1339.7 1111.3 L1341.8 1112.4 L1343.8 1113.6 L1345.8 1114.7 L1347.9 1115.8 L1349.9 1116.8 L1351.9 1117.9 L1354.0 1118.9 L1356.0 1120.0 L1358.0 1120.9 L1360.0 1121.9 L1362.1 1122.9 L1364.1 1123.9 L1366.1 1124.8 L1368.1 1125.7 L1370.2 1126.6 L1372.2 1127.6 L1374.2 1128.5 L1376.2 1129.3 L1378.2 1130.2 L1380.2 1131.1 L1382.3 1131.9 L1384.3 1132.8 L1386.3 1133.6 L1388.3 1134.4 L1390.3 1135.3 L1392.4 1136.1 L1394.4 1136.8 L1396.4 1137.6 L1398.4 1138.4 L1400.5 1139.2 L1402.5 1139.9 L1404.5 1140.6 L1406.5 1141.4 L1408.5 1142.1 L1410.6 1142.8 L1412.6 1143.5 L1414.6 1144.1 L1416.6 1144.8 L1418.6 1145.5 L1420.7 1146.1 L1422.7 1146.7 L1424.7 1147.4 L1426.7 1148.0 L1428.7 1148.6 L1430.7 1149.2 L1432.7 1149.8 L1434.8 1150.4 L1436.8 1151.0 L1438.8 1151.6 L1440.8 1152.2 L1442.8 1152.8 L1444.8 1153.3 L1446.9 1153.9 L1448.9 1154.4 L1450.9 1154.9 L1452.9 1155.5 L1454.9 1156.0 L1456.9 1156.5 L1459.0 1157.0 L1461.0 1157.5 L1463.0 1157.9 L1465.0 1158.4 L1467.0 1158.9 L1469.1 1159.3 L1471.1 1159.8 L1473.1 1160.2 L1475.1 1160.6 L1477.1 1161.1 L1479.1 1161.5 L1481.1 1161.9 L1483.1 1162.3 L1485.1 1162.7 L1487.1 1163.1 L1489.2 1163.5 L1491.2 1163.9 L1493.2 1164.3 L1495.2 1164.7 L1497.2 1165.1 L1499.2 1165.5 L1501.2 1165.9 L1503.2 1166.2 L1505.2 1166.6 L1507.2 1167.0 L1509.2 1167.4 L1511.2 1167.8 L1513.2 1168.2 L1515.2 1168.5 L1517.2 1168.9 L1519.2 1169.3 L1521.3 1169.6 L1523.3 1170.0 L1525.3 1170.3 L1527.3 1170.7 L1529.3 1171.0 L1531.4 1171.3 L1533.4 1171.6 L1535.4 1171.9 L1537.4 1172.2 L1539.4 1172.4 L1541.4 1172.7 L1543.5 1172.9 L1545.5 1173.2 L1547.5 1173.4 L1549.5 1173.7 L1551.5 1173.9 L1553.5 1174.2 L1555.5 1174.4 L1557.5 1174.6 L1559.5 1174.9 L1561.5 1175.1 L1563.5 1175.3 L1565.5 1175.5 L1567.5 1175.8 L1569.5 1176.0 L1571.5 1176.2 L1573.5 1176.5 L1575.5 1176.7 L1577.5 1176.9 L1579.5 1177.2 L1581.5 1177.4 L1583.5 1177.6 L1585.5 1177.9 L1587.5 1178.1 L1589.5 1178.3 L1591.5 1178.5 L1593.5 1178.8 L1595.5 1179.0 L1597.5 1179.2 L1599.6 1179.4 L1601.6 1179.6 L1603.6 1179.8 L1605.6 1180.0 L1607.6 1180.2 L1609.6 1180.4 L1611.6 1180.6 L1613.6 1180.8 L1615.6 1180.9 L1617.6 1181.1 L1619.6 1181.3 L1621.7 1181.4 L1623.7 1181.6 L1625.7 1181.8 L1627.7 1181.9 L1629.7 1182.1 L1631.7 1182.2 L1633.7 1182.4 L1635.7 1182.5 L1637.7 1182.6 L1639.7 1182.8 L1641.7 1182.9 L1643.7 1183.1 L1645.7 1183.2 L1647.7 1183.3 L1649.7 1183.5 L1651.7 1183.6 L1653.7 1183.8 L1655.7 1183.9 L1657.7 1184.0 L1659.7 1184.1 L1661.7 1184.3 L1663.7 1184.4 L1665.7 1184.5 L1667.7 1184.6 L1669.7 1184.8 L1671.8 1184.9 L1673.8 1185.0 L1675.8 1185.1 L1677.8 1185.2 L1679.8 1185.3 L1681.8 1185.4 L1683.8 1185.5 L1685.8 1185.6 L1687.8 1185.7 L1689.8 1185.8 L1691.8 1185.9 L1693.8 1186.0 L1695.8 1186.1 L1697.8 1186.2 L1699.8 1186.3 L1701.8 1186.4 L1703.8 1186.4 L1705.8 1186.5 L1707.8 1186.6 L1709.8 1186.7 L1711.9 1186.7 L1713.9 1186.8 L1715.9 1186.9 L1717.9 1186.9 L1719.9 1187.0 L1721.9 1187.1 L1723.9 1187.1 L1725.9 1187.2 L1727.9 1187.2 L1729.9 1187.3 L1731.9 1187.4 L1733.9 1187.4 L1735.9 1187.5 L1737.9 1187.6 L1739.9 1187.6 L1741.9 1187.7 L1743.9 1187.8 L1745.9 1187.8 L1747.9 1187.9 L1749.9 1188.0 L1751.9 1188.0 L1753.9 1188.1 L1755.9 1188.1 L1757.9 1188.2 L1759.9 1188.3 L1761.9 1188.3 L1763.9 1188.4 L1765.9 1188.5 L1767.9 1188.5 L1769.9 1188.6 L1771.9 1188.7 L1773.9 1188.7 L1775.9 1188.8 L1777.9 1188.9 L1779.9 1188.9 L1781.9 1189.0 L1783.9 1189.0 L1785.9 1189.1 L1787.9 1189.2 L1789.9 1189.2 L1791.9 1189.3 L1793.9 1189.4 L1795.9 1189.4 L1797.9 1189.5 L1799.9 1189.6 L1801.9 1189.6 L1803.9 1189.7 L1805.9 1189.7 L1807.9 1189.8 L1809.9 1189.9 L1811.9 1189.9 L1813.9 1190.0 L1815.9 1190.1 L1817.9 1190.1 L1819.9 1190.2 L1821.9 1190.3 L1823.9 1190.3 L1825.9 1190.4 L1827.9 1190.5 L1829.9 1190.5 L1831.9 1190.6 L1833.9 1190.6 L1835.9 1190.7 L1837.9 1190.8 L1839.9 1190.8 L1841.9 1190.9 L1843.9 1191.0 L1845.9 1191.0 L1847.9 1191.1 L1849.9 1191.2 L1851.9 1191.2 L1853.9 1191.3 L1855.9 1191.4 L1857.9 1191.4 L1859.9 1191.5 L1861.9 1191.5 L1863.9 1191.6 L1865.9 1191.7 L1867.9 1191.7 L1869.9 1191.8 L1871.9 1191.9 L1873.9 1191.9 L1875.9 1192.0 L1877.9 1192.1 L1879.9 1192.1 L1881.9 1192.2 L1883.9 1192.2 L1885.9 1192.3 L1887.9 1192.4 L1889.9 1192.4 L1891.9 1192.5 L1893.9 1192.5 L1895.9 1192.6 L1897.9 1192.6 L1899.9 1192.6 L1901.9 1192.7 L1903.9 1192.7 L1905.9 1192.8 L1907.9 1192.8 L1909.9 1192.8 L1911.9 1192.8 L1913.9 1192.9 L1916.0 1192.9 L1918.0 1192.9 L1920.0 1192.9 L1922.0 1193.0 L1924.0 1193.0 L1926.0 1193.0 L1928.0 1193.0 L1930.0 1193.0 L1932.0 1193.0 L1934.0 1193.0 L1936.0 1193.0 L1938.0 1193.0 L1940.0 1193.0 L1942.0 1193.0 L1944.0 1193.1 L1946.0 1193.1 L1948.0 1193.1 L1950.0 1193.1 L1952.0 1193.1 L1954.0 1193.1 L1956.0 1193.1 L1958.0 1193.1 L1960.0 1193.1 L1962.0 1193.1 L1964.0 1193.1 L1966.0 1193.1 L1968.0 1193.1 L1970.0 1193.1 L1972.0 1193.1 L1974.0 1193.1 L1976.0 1193.1 L1978.0 1193.1 L1980.0 1193.1 L1982.0 1193.1 L1984.0 1193.1 L1986.0 1193.1 L1988.0 1193.1 L1990.0 1193.1 L1992.0 1193.1 L1994.0 1193.1 L1996.0 1193.1 L1998.0 1193.1 L2000.0 1193.1 L2002.0 1193.1 L2004.0 1193.1 L2006.0 1193.1 L2008.0 1193.1 L2010.0 1193.1 L2012.0 1193.1 L2014.0 1193.1 L2016.0 1193.1 L2018.0 1193.1 L2020.0 1193.1 L2022.0 1193.1 L2024.0 1193.1 L2026.0 1193.1 L2028.0 1193.1 L2030.0 1193.1 L2032.0 1193.1 L2034.0 1193.1 L2036.0 1193.1 L2038.0 1193.1 L2038.0 1184.5 L2036.0 1184.5 L2034.0 1184.5 L2032.0 1184.5 L2030.0 1184.5 L2028.0 1184.5 L2026.0 1184.5 L2024.0 1184.5 L2022.0 1184.5 L2020.0 1184.5 L2018.0 1184.5 L2016.0 1184.5 L2014.0 1184.5 L2012.0 1184.5 L2010.0 1184.5 L2008.0 1184.5 L2006.0 1184.5 L2004.0 1184.5 L2002.0 1184.5 L2000.0 1184.5 L1998.0 1184.5 L1996.0 1184.5 L1994.0 1184.5 L1992.0 1184.5 L1990.0 1184.5 L1988.0 1184.5 L1986.0 1184.5 L1984.0 1184.5 L1982.0 1184.5 L1980.0 1184.5 L1978.0 1184.5 L1976.0 1184.5 L1974.0 1184.5 L1972.0 1184.5 L1970.0 1184.5 L1968.0 1184.5 L1966.0 1184.5 L1964.0 1184.5 L1962.0 1184.5 L1960.0 1184.5 L1958.0 1184.5 L1956.0 1184.5 L1954.0 1184.5 L1952.0 1184.5 L1950.0 1184.5 L1948.0 1184.5 L1946.0 1184.5 L1944.0 1184.5 L1942.0 1184.4 L1940.0 1184.4 L1938.0 1184.4 L1936.0 1184.4 L1934.0 1184.4 L1932.0 1184.4 L1930.0 1184.4 L1928.0 1184.4 L1926.0 1184.4 L1924.0 1184.4 L1922.0 1184.4 L1920.0 1184.3 L1918.0 1184.3 L1916.0 1184.3 L1914.1 1184.3 L1912.1 1184.2 L1910.1 1184.2 L1908.1 1184.2 L1906.1 1184.2 L1904.1 1184.1 L1902.1 1184.1 L1900.1 1184.0 L1898.1 1184.0 L1896.1 1184.0 L1894.1 1183.9 L1892.1 1183.9 L1890.1 1183.8 L1888.1 1183.8 L1886.1 1183.7 L1884.1 1183.6 L1882.1 1183.6 L1880.1 1183.5 L1878.1 1183.5 L1876.1 1183.4 L1874.1 1183.3 L1872.1 1183.3 L1870.1 1183.2 L1868.1 1183.1 L1866.1 1183.1 L1864.1 1183.0 L1862.1 1182.9 L1860.1 1182.9 L1858.1 1182.8 L1856.1 1182.8 L1854.1 1182.7 L1852.1 1182.6 L1850.1 1182.6 L1848.1 1182.5 L1846.1 1182.4 L1844.1 1182.4 L1842.1 1182.3 L1840.1 1182.2 L1838.1 1182.2 L1836.1 1182.1 L1834.1 1182.0 L1832.1 1182.0 L1830.1 1181.9 L1828.1 1181.9 L1826.1 1181.8 L1824.1 1181.7 L1822.1 1181.7 L1820.1 1181.6 L1818.1 1181.5 L1816.1 1181.5 L1814.1 1181.4 L1812.1 1181.3 L1810.1 1181.3 L1808.1 1181.2 L1806.1 1181.2 L1804.1 1181.1 L1802.1 1181.0 L1800.1 1181.0 L1798.1 1180.9 L1796.1 1180.8 L1794.1 1180.8 L1792.1 1180.7 L1790.1 1180.6 L1788.1 1180.6 L1786.1 1180.5 L1784.1 1180.4 L1782.1 1180.4 L1780.1 1180.3 L1778.1 1180.3 L1776.1 1180.2 L1774.1 1180.1 L1772.1 1180.1 L1770.1 1180.0 L1768.1 1179.9 L1766.1 1179.9 L1764.1 1179.8 L1762.1 1179.7 L1760.1 1179.7 L1758.1 1179.6 L1756.1 1179.5 L1754.1 1179.5 L1752.1 1179.4 L1750.1 1179.4 L1748.1 1179.3 L1746.1 1179.2 L1744.1 1179.2 L1742.1 1179.1 L1740.1 1179.0 L1738.1 1179.0 L1736.1 1178.9 L1734.1 1178.8 L1732.1 1178.8 L1730.1 1178.7 L1728.1 1178.6 L1726.1 1178.6 L1724.1 1178.5 L1722.1 1178.5 L1720.1 1178.4 L1718.1 1178.3 L1716.1 1178.3 L1714.1 1178.2 L1712.1 1178.1 L1710.2 1178.1 L1708.2 1178.0 L1706.2 1177.9 L1704.2 1177.8 L1702.2 1177.8 L1700.2 1177.7 L1698.2 1177.6 L1696.2 1177.5 L1694.2 1177.4 L1692.2 1177.3 L1690.2 1177.2 L1688.2 1177.1 L1686.2 1177.0 L1684.2 1176.9 L1682.2 1176.8 L1680.2 1176.7 L1678.2 1176.6 L1676.2 1176.5 L1674.2 1176.4 L1672.2 1176.3 L1670.3 1176.2 L1668.3 1176.0 L1666.3 1175.9 L1664.3 1175.8 L1662.3 1175.7 L1660.3 1175.6 L1658.3 1175.4 L1656.3 1175.3 L1654.3 1175.2 L1652.3 1175.0 L1650.3 1174.9 L1648.3 1174.8 L1646.3 1174.6 L1644.3 1174.5 L1642.3 1174.3 L1640.3 1174.2 L1638.3 1174.1 L1636.3 1173.9 L1634.3 1173.8 L1632.3 1173.6 L1630.3 1173.5 L1628.3 1173.3 L1626.3 1173.2 L1624.3 1173.0 L1622.3 1172.8 L1620.4 1172.7 L1618.4 1172.5 L1616.4 1172.3 L1614.4 1172.2 L1612.4 1172.0 L1610.4 1171.8 L1608.4 1171.6 L1606.4 1171.4 L1604.4 1171.2 L1602.4 1171.0 L1600.4 1170.8 L1598.5 1170.6 L1596.5 1170.4 L1594.5 1170.2 L1592.5 1170.0 L1590.5 1169.7 L1588.5 1169.5 L1586.5 1169.3 L1584.5 1169.1 L1582.5 1168.8 L1580.5 1168.6 L1578.5 1168.4 L1576.5 1168.1 L1574.5 1167.9 L1572.5 1167.7 L1570.5 1167.4 L1568.5 1167.2 L1566.5 1167.0 L1564.5 1166.7 L1562.5 1166.5 L1560.5 1166.3 L1558.5 1166.1 L1556.5 1165.8 L1554.5 1165.6 L1552.5 1165.4 L1550.5 1165.1 L1548.5 1164.9 L1546.5 1164.6 L1544.5 1164.4 L1542.6 1164.1 L1540.6 1163.9 L1538.6 1163.6 L1536.6 1163.3 L1534.6 1163.0 L1532.6 1162.7 L1530.7 1162.4 L1528.7 1162.1 L1526.7 1161.8 L1524.7 1161.4 L1522.7 1161.1 L1520.8 1160.8 L1518.8 1160.4 L1516.8 1160.0 L1514.8 1159.7 L1512.8 1159.3 L1510.8 1158.9 L1508.8 1158.5 L1506.8 1158.1 L1504.8 1157.7 L1502.8 1157.3 L1500.8 1157.0 L1498.8 1156.6 L1496.8 1156.2 L1494.8 1155.8 L1492.8 1155.4 L1490.8 1155.0 L1488.9 1154.6 L1486.9 1154.2 L1484.9 1153.8 L1482.9 1153.4 L1480.9 1153.0 L1478.9 1152.6 L1476.9 1152.1 L1474.9 1151.7 L1472.9 1151.3 L1470.9 1150.8 L1469.0 1150.4 L1467.0 1149.9 L1465.0 1149.5 L1463.0 1149.0 L1461.0 1148.5 L1459.1 1148.0 L1457.1 1147.5 L1455.1 1147.0 L1453.1 1146.5 L1451.1 1146.0 L1449.1 1145.4 L1447.2 1144.9 L1445.2 1144.3 L1443.2 1143.8 L1441.2 1143.2 L1439.2 1142.6 L1437.2 1142.0 L1435.3 1141.4 L1433.3 1140.8 L1431.3 1140.2 L1429.3 1139.6 L1427.3 1139.0 L1425.3 1138.4 L1423.3 1137.7 L1421.4 1137.1 L1419.4 1136.4 L1417.4 1135.8 L1415.4 1135.1 L1413.4 1134.4 L1411.5 1133.7 L1409.5 1133.0 L1407.5 1132.3 L1405.5 1131.6 L1403.5 1130.9 L1401.6 1130.1 L1399.6 1129.4 L1397.6 1128.6 L1395.6 1127.8 L1393.7 1127.0 L1391.7 1126.2 L1389.7 1125.4 L1387.7 1124.6 L1385.7 1123.7 L1383.8 1122.9 L1381.8 1122.0 L1379.8 1121.2 L1377.8 1120.3 L1375.8 1119.4 L1373.8 1118.5 L1371.9 1117.6 L1369.9 1116.7 L1367.9 1115.7 L1365.9 1114.8 L1364.0 1113.9 L1362.0 1112.9 L1360.0 1111.9 L1358.0 1110.9 L1356.1 1109.9 L1354.1 1108.9 L1352.1 1107.8 L1350.2 1106.7 L1348.2 1105.6 L1346.2 1104.5 L1344.3 1103.4 L1342.3 1102.2 L1340.4 1101.1 L1338.4 1099.9 L1336.4 1098.6 L1334.5 1097.4 L1332.5 1096.1 L1330.5 1094.8 L1328.6 1093.5 L1326.6 1092.2 L1324.6 1090.9 L1322.6 1089.5 L1320.6 1088.1 L1318.7 1086.7 L1316.7 1085.3 L1314.7 1083.9 L1312.7 1082.5 L1310.7 1081.0 L1308.7 1079.6 L1306.8 1078.1 L1304.8 1076.6 L1302.8 1075.2 L1300.8 1073.7 L1298.8 1072.2 L1296.8 1070.7 L1294.8 1069.2 L1292.9 1067.6 L1290.9 1066.1 L1288.9 1064.5 L1286.9 1063.0 L1284.9 1061.4 L1283.0 1059.8 L1281.0 1058.1 L1279.0 1056.5 L1277.0 1054.8 L1275.1 1053.2 L1273.1 1051.5 L1271.1 1049.7 L1269.1 1048.0 L1267.2 1046.2 L1265.2 1044.4 L1263.2 1042.6 L1261.2 1040.8 L1259.3 1038.9 L1257.3 1037.1 L1255.3 1035.2 L1253.4 1033.2 L1251.4 1031.3 L1249.4 1029.3 L1247.4 1027.3 L1245.5 1025.2 L1243.5 1023.1 L1241.6 1021.0 L1239.6 1018.9 L1237.6 1016.7 L1235.7 1014.4 L1233.7 1012.1 L1231.7 1009.8 L1229.8 1007.5 L1227.8 1005.0 L1225.8 1002.6 L1223.9 1000.1 L1221.9 997.5 L1219.9 994.9 L1218.0 992.3 L1216.0 989.6 L1214.0 986.9 L1212.0 984.2 L1210.0 981.4 L1208.1 978.6 L1206.1 975.8 L1204.1 972.9 L1202.1 970.0 L1200.1 967.1 L1198.1 964.2 L1196.1 961.3 L1194.1 958.3 L1192.1 955.4 L1190.1 952.4 L1188.1 949.5 L1186.1 946.5 L1184.1 943.5 L1182.2 940.5 L1180.2 937.5 L1178.2 934.5 L1176.2 931.5 L1174.2 928.5 L1172.2 925.4 L1170.2 922.3 L1168.2 919.2 L1166.2 916.1 L1164.2 913.0 L1162.3 909.8 L1160.3 906.6 L1158.3 903.4 L1156.3 900.1 L1154.3 896.7 L1152.4 893.4 L1150.4 889.9 L1148.4 886.4 L1146.4 882.9 L1144.5 879.3 L1142.5 875.6 L1140.5 871.8 L1138.5 868.0 L1136.5 864.1 L1134.6 860.2 L1132.6 856.1 L1130.6 852.0 L1128.6 847.9 L1126.6 843.6 L1124.7 839.3 L1122.7 835.0 L1120.7 830.5 L1118.7 826.1 L1116.7 821.6 L1114.7 817.0 L1112.7 812.4 L1110.7 807.8 L1108.7 803.1 L1106.7 798.4 L1104.7 793.7 L1102.7 789.0 L1100.7 784.3 L1098.7 779.6 L1096.7 774.9 L1094.7 770.2 L1092.7 765.5 L1090.7 760.8 L1088.7 756.1 L1086.7 751.4 L1084.7 746.6 L1082.7 741.9 L1080.7 737.2 L1078.7 732.5 L1076.7 727.8 L1074.7 723.1 L1072.7 718.4 L1070.7 713.7 L1068.7 709.1 L1066.7 704.4 L1064.7 699.7 L1062.7 695.1 L1060.7 690.5 L1058.7 685.8 L1056.7 681.2 L1054.7 676.6 L1052.7 672.1 L1050.7 667.5 L1048.7 663.0 L1046.7 658.4 L1044.7 653.9 L1042.7 649.5 L1040.7 645.0 L1038.7 640.6 L1036.7 636.2 L1034.7 631.8 L1032.7 627.5 L1030.6 623.1 L1028.6 618.8 L1026.6 614.6 L1024.6 610.3 L1022.6 606.1 L1020.6 602.0 L1018.6 597.8 L1016.6 593.7 L1014.6 589.6 L1012.6 585.6 L1010.6 581.6 L1008.5 577.7 L1006.5 573.8 L1004.5 569.9 L1002.5 566.0 L1000.5 562.3 L998.5 558.5 L996.4 554.8 L994.4 551.2 L992.4 547.6 L990.4 544.0 L988.4 540.5 L986.4 537.0 L984.3 533.6 L982.3 530.3 L980.3 527.0 L978.2 523.7 L976.2 520.6 L974.2 517.4 L972.1 514.4 L970.1 511.4 L968.1 508.5 L966.0 505.6 L964.0 502.8 L961.9 500.1 L959.9 497.4 L957.8 494.8 L955.8 492.3 L953.7 489.8 L951.6 487.5 L949.6 485.2 L947.5 483.0 L945.4 480.9 L943.3 478.9 L941.2 476.9 L939.1 475.0 L937.0 473.3 L934.9 471.5 L932.8 470.0 L930.7 468.5 L928.5 467.1 L926.3 465.8 L924.2 464.6 L922.0 463.4 L919.8 462.4 L917.7 461.5 L915.5 460.7 L913.3 460.0 L911.2 459.4 L908.9 458.9 L906.7 458.5 L904.6 458.1 L902.4 457.9 L900.1 457.8 L898.0 457.8 L895.8 457.8 L893.5 458.0 L891.4 458.3 L889.1 458.6 L886.9 459.1 L884.8 459.7 L882.6 460.4 L880.3 461.2 L878.2 462.0 L876.0 463.0 L873.8 464.1 L871.7 465.3 L869.5 466.6 L867.3 468.0 L865.2 469.5 L863.1 471.1 L860.9 472.8 L858.8 474.6 L856.7 476.5 L854.6 478.6 L852.5 480.6 L850.4 482.8 L848.4 485.1 L846.3 487.5 L844.2 489.9 L842.2 492.4 L840.1 495.0 L838.1 497.7 L836.0 500.4 L834.0 503.2 L831.9 506.1 L829.9 509.0 L827.9 512.0 L825.8 515.0 L823.8 518.1 L821.8 521.3 L819.8 524.4 L817.7 527.6 L815.7 530.9 L813.7 534.1 L811.7 537.4 L809.7 540.7 L807.7 544.0 L805.7 547.4 L803.7 550.7 L801.7 554.1 L799.7 557.4 L797.7 560.8 L795.7 564.2 L793.7 567.5 L791.7 570.9 L789.7 574.2 L787.7 577.6 L785.7 581.0 L783.7 584.3 L781.7 587.7 L779.7 591.1 L777.7 594.4 L775.7 597.8 L773.7 601.2 L771.7 604.5 L769.7 607.9 L767.7 611.2 L765.7 614.6 L763.7 618.0 L761.7 621.4 L759.7 624.7 L757.7 628.1 L755.7 631.5 L753.7 634.9 L751.7 638.3 L749.6 641.7 L747.6 645.1 L745.6 648.6 L743.6 652.0 L741.6 655.5 L739.6 659.0 L737.6 662.5 L735.6 666.0 L733.6 669.5 L731.6 673.0 L729.6 676.6 L727.6 680.1 L725.6 683.6 L723.6 687.1 L721.6 690.7 L719.6 694.2 L717.6 697.7 L715.6 701.2 L713.6 704.7 L711.6 708.3 L709.6 711.8 L707.6 715.3 L705.6 718.8 L703.6 722.4 L701.6 725.9 L699.6 729.4 L697.6 732.9 L695.6 736.5 L693.6 740.0 L691.6 743.5 L689.6 747.0 L687.6 750.6 L685.6 754.1 L683.6 757.6 L681.6 761.1 L679.6 764.7 L677.6 768.2 L675.6 771.7 L673.6 775.2 L671.6 778.8 L669.6 782.3 L667.6 785.8 L665.6 789.3 L663.6 792.8 L661.6 796.4 L659.6 799.9 L657.6 803.4 L655.6 806.9 L653.6 810.5 L651.6 814.0 L649.6 817.5 L647.6 821.0 L645.6 824.6 L643.6 828.1 L641.6 831.6 L639.6 835.1 L637.6 838.7 L635.6 842.2 L633.6 845.7 L631.6 849.2 L629.6 852.8 L627.6 856.3 L625.6 859.8 L623.6 863.3 L621.6 866.9 L619.6 870.4 L617.6 873.9 L615.6 877.4 L613.6 880.9 L611.6 884.5 L609.6 888.0 L607.6 891.5 L605.6 895.0 L603.6 898.6 L601.6 902.1 L599.6 905.6 L597.6 909.1 L595.6 912.7 L593.6 916.2 L591.6 919.7 L589.6 923.2 L587.6 926.8 L585.6 930.3 L583.6 933.8 L581.6 937.3 L579.6 940.9 L577.6 944.4 L575.6 947.9 L573.6 951.4 L571.6 955.0 L569.6 958.5 L567.6 962.0 L565.6 965.5 L563.6 969.0 L561.6 972.6 L559.6 976.1 L557.6 979.6 L555.6 983.1 L553.6 986.7 L551.6 990.2 L549.6 993.7 L547.6 997.2 L545.6 1000.8 L543.6 1004.3 L541.6 1007.8 L539.6 1011.3 L537.6 1014.9 L535.6 1018.4 L533.6 1021.9 L531.6 1025.4 L529.6 1029.0 L527.6 1032.5 L525.6 1036.0 L523.6 1039.5 L521.6 1043.1 L519.6 1046.6 L517.6 1050.1 L515.6 1053.6 L513.6 1057.1 L511.6 1060.7 L509.6 1064.2 L507.6 1067.7 L505.6 1071.2 L503.6 1074.8 L501.6 1078.3 L499.6 1081.8 L497.6 1085.3 L495.6 1088.9 L493.6 1092.4 L491.6 1095.9 L489.6 1099.4 L487.6 1103.0 L485.6 1106.5 L483.6 1110.0 L481.6 1113.5 L479.6 1117.1 L477.6 1120.6 L475.6 1124.1 L473.6 1127.6 L471.6 1131.2 L469.6 1134.7 L467.6 1138.2 L465.6 1141.7 L463.6 1145.2 L461.6 1148.8 L459.6 1152.3 L457.6 1155.8 L455.6 1159.3 L453.6 1162.9 L451.6 1166.4 L449.6 1169.9 L447.6 1173.4 L445.6 1177.0 L443.6 1180.5 L441.6 1184.0 L439.6 1187.5 L437.6 1191.1 L435.6 1194.6 L433.6 1198.1 L431.6 1201.6 L429.6 1205.2 L427.6 1208.7 L425.6 1212.2 L423.6 1215.7 L421.6 1219.3 L419.6 1222.8 L417.6 1226.3 L415.6 1229.8 L413.6 1233.3 L411.6 1236.9 L409.6 1240.4 L407.6 1243.9 L405.6 1247.4 L403.6 1251.0 L401.6 1254.5 L399.6 1258.0 L397.6 1261.5 L395.6 1265.1 L393.6 1268.6 L391.6 1272.1 L389.6 1275.6 L387.6 1279.2 L385.6 1282.7 L383.6 1286.2 L381.6 1289.7 L379.6 1293.3 L377.6 1296.8 L375.6 1300.3 L373.6 1303.8 L371.6 1307.4 L369.6 1310.9 L367.6 1314.4 L365.6 1317.9 L363.6 1321.4 L361.6 1325.0 L359.6 1328.5 L357.6 1332.0 L355.6 1335.5 L353.6 1339.1 L351.6 1342.6 L349.6 1346.1 L347.6 1349.6 L345.6 1353.2 L343.6 1356.7 L341.6 1360.2 L339.6 1363.7 L337.6 1367.3 L335.6 1370.8 L333.6 1374.3 L331.6 1377.8 L329.6 1381.4 L327.6 1384.9 L325.6 1388.4 L323.6 1391.9 L321.6 1395.5 L319.6 1399.0 L317.6 1402.5 L315.6 1406.0 L313.6 1409.5 L311.6 1413.1 L309.6 1416.6 L307.6 1420.1 L305.6 1423.6 L303.6 1427.2 L301.6 1430.7 L299.6 1434.2 L297.6 1437.7 L295.6 1441.3 L293.6 1444.8 L291.6 1448.3 L289.6 1451.8 L287.6 1455.4 L285.6 1458.9 L283.6 1462.4 L281.6 1465.9 L279.6 1469.5 L277.6 1473.0 L275.6 1476.5Z"/>
<path class="cv" fill="#00ffff" d="M284.6 1481.2 L286.6 1477.0 L288.6 1472.8 L290.6 1468.6 L292.6 1464.4 L294.6 1460.2 L296.6 1456.0 L298.6 1451.8 L300.6 1447.6 L302.6 1443.4 L304.6 1439.2 L306.6 1435.0 L308.6 1430.8 L310.6 1426.7 L312.6 1422.5 L314.6 1418.3 L316.6 1414.1 L318.6 1409.9 L320.6 1405.7 L322.6 1401.5 L324.6 1397.3 L326.6 1393.1 L328.6 1388.9 L330.6 1384.7 L332.6 1380.5 L334.6 1376.3 L336.6 1372.1 L338.6 1367.9 L340.6 1363.7 L342.6 1359.5 L344.6 1355.3 L346.6 1351.1 L348.6 1346.9 L350.6 1342.7 L352.6 1338.5 L354.6 1334.3 L356.6 1330.1 L358.6 1325.9 L360.6 1321.8 L362.6 1317.6 L364.6 1313.4 L366.6 1309.2 L368.6 1305.0 L370.6 1300.8 L372.6 1296.6 L374.6 1292.4 L376.6 1288.2 L378.6 1284.0 L380.6 1279.8 L382.6 1275.6 L384.6 1271.4 L386.6 1267.2 L388.6 1263.0 L390.6 1258.8 L392.6 1254.6 L394.6 1250.4 L396.6 1246.2 L398.6 1242.0 L400.6 1237.8 L402.6 1233.6 L404.6 1229.4 L406.6 1225.2 L408.6 1221.0 L410.6 1216.9 L412.6 1212.7 L414.6 1208.5 L416.6 1204.3 L418.6 1200.1 L420.6 1195.9 L422.6 1191.7 L424.6 1187.5 L426.6 1183.3 L428.6 1179.1 L430.6 1174.9 L432.6 1170.7 L434.6 1166.5 L436.6 1162.3 L438.6 1158.1 L440.6 1153.9 L442.6 1149.7 L444.6 1145.5 L446.6 1141.3 L448.6 1137.1 L450.6 1132.9 L452.6 1128.7 L454.6 1124.5 L456.6 1120.3 L458.6 1116.1 L460.6 1112.0 L462.6 1107.8 L464.6 1103.6 L466.6 1099.4 L468.6 1095.2 L470.6 1091.0 L472.6 1086.8 L474.6 1082.6 L476.6 1078.4 L478.6 1074.2 L480.6 1070.0 L482.6 1065.8 L484.6 1061.6 L486.6 1057.4 L488.6 1053.2 L490.6 1049.0 L492.6 1044.8 L494.6 1040.6 L496.6 1036.4 L498.6 1032.2 L500.6 1028.0 L502.6 1023.8 L504.6 1019.6 L506.6 1015.4 L508.6 1011.2 L510.6 1007.1 L512.6 1002.9 L514.6 998.7 L516.6 994.5 L518.6 990.3 L520.6 986.1 L522.6 981.9 L524.6 977.7 L526.6 973.5 L528.6 969.3 L530.6 965.1 L532.6 960.9 L534.6 956.7 L536.6 952.5 L538.6 948.3 L540.6 944.1 L542.6 939.9 L544.6 935.7 L546.6 931.5 L548.6 927.3 L550.6 923.1 L552.6 918.9 L554.6 914.7 L556.6 910.5 L558.6 906.3 L560.6 902.2 L562.6 898.0 L564.6 893.8 L566.6 889.6 L568.6 885.4 L570.6 881.2 L572.6 877.0 L574.6 872.8 L576.6 868.6 L578.6 864.4 L580.6 860.2 L582.6 856.0 L584.6 851.8 L586.6 847.6 L588.6 843.4 L590.6 839.2 L592.6 835.0 L594.6 830.8 L596.6 826.6 L598.6 822.4 L600.6 818.2 L602.6 814.0 L604.6 809.8 L606.6 805.6 L608.6 801.4 L610.6 797.3 L612.6 793.1 L614.6 788.9 L616.6 784.7 L618.6 780.5 L620.6 776.3 L622.6 772.1 L624.6 767.9 L626.6 763.7 L628.6 759.5 L630.6 755.3 L632.6 751.1 L634.6 746.9 L636.6 742.7 L638.6 738.5 L640.6 734.3 L642.6 730.1 L644.6 725.9 L646.6 721.7 L648.6 717.5 L650.6 713.3 L652.6 709.1 L654.6 704.9 L656.6 700.7 L658.6 696.5 L660.6 692.4 L662.6 688.2 L664.6 684.0 L666.6 679.8 L668.6 675.6 L670.6 671.4 L672.6 667.2 L674.6 663.0 L676.6 658.8 L678.6 654.6 L680.6 650.4 L682.6 646.2 L684.6 642.0 L686.6 637.8 L688.6 633.6 L690.6 629.4 L692.6 625.2 L694.6 621.0 L696.6 616.8 L698.6 612.6 L700.6 608.4 L702.6 604.2 L704.6 600.0 L706.6 595.8 L708.6 591.6 L710.6 587.5 L712.6 583.3 L714.6 579.1 L716.6 574.9 L718.6 570.7 L720.6 566.5 L722.6 562.3 L724.6 558.1 L726.6 553.9 L728.6 549.7 L730.6 545.5 L732.6 541.3 L734.6 537.1 L736.6 532.9 L738.6 528.7 L740.6 524.5 L742.6 520.3 L744.6 516.1 L746.6 511.9 L748.6 507.7 L750.6 503.5 L752.6 499.3 L754.6 495.1 L756.6 490.9 L758.6 486.7 L760.6 482.6 L762.6 478.4 L764.6 474.2 L766.6 470.0 L768.6 465.8 L770.6 461.6 L772.6 457.4 L774.6 453.2 L776.6 449.0 L778.6 444.8 L780.6 440.6 L782.6 436.4 L784.6 432.2 L786.6 428.0 L788.6 423.8 L790.6 419.7 L792.6 415.5 L794.6 411.4 L796.6 407.2 L798.6 403.1 L800.6 399.0 L802.6 394.9 L804.6 390.9 L806.6 386.8 L808.6 382.8 L810.6 378.8 L812.5 374.9 L814.5 371.0 L816.5 367.1 L818.5 363.3 L820.5 359.5 L822.5 355.8 L824.5 352.2 L826.4 348.6 L828.4 345.1 L830.4 341.6 L832.3 338.2 L834.3 334.9 L836.3 331.6 L838.2 328.5 L840.2 325.5 L842.1 322.5 L844.1 319.7 L846.0 317.0 L847.9 314.3 L849.8 311.8 L851.7 309.5 L853.6 307.3 L855.5 305.1 L857.4 303.2 L859.2 301.4 L861.1 299.7 L862.9 298.2 L864.7 296.8 L866.5 295.5 L868.2 294.4 L870.0 293.5 L871.7 292.6 L873.4 292.0 L875.1 291.4 L876.8 291.0 L878.4 290.7 L880.2 290.6 L881.8 290.6 L883.5 290.7 L885.3 291.0 L886.9 291.4 L888.6 291.9 L890.4 292.6 L892.1 293.4 L893.8 294.4 L895.6 295.5 L897.4 296.6 L899.1 298.0 L901.0 299.6 L902.8 301.2 L904.6 303.0 L906.5 304.9 L908.4 306.9 L910.3 309.2 L912.2 311.5 L914.1 314.0 L916.0 316.6 L917.9 319.4 L919.8 322.2 L921.8 325.2 L923.7 328.4 L925.7 331.6 L927.6 335.0 L929.6 338.5 L931.5 342.0 L933.5 345.8 L935.5 349.6 L937.4 353.5 L939.4 357.5 L941.4 361.7 L943.3 365.9 L945.3 370.3 L947.3 374.7 L949.3 379.2 L951.3 383.8 L953.3 388.5 L955.2 393.3 L957.2 398.2 L959.2 403.1 L961.2 408.1 L963.2 413.2 L965.2 418.4 L967.2 423.6 L969.2 428.9 L971.1 434.3 L973.1 439.7 L975.1 445.1 L977.1 450.7 L979.1 456.2 L981.1 461.9 L983.1 467.5 L985.1 473.2 L987.1 479.0 L989.1 484.8 L991.1 490.6 L993.1 496.5 L995.1 502.4 L997.1 508.3 L999.1 514.3 L1001.1 520.3 L1003.1 526.3 L1005.1 532.3 L1007.1 538.4 L1009.1 544.4 L1011.1 550.5 L1013.1 556.5 L1015.1 562.6 L1017.1 568.7 L1019.1 574.8 L1021.1 580.8 L1023.1 586.9 L1025.1 593.0 L1027.1 599.0 L1029.1 605.1 L1031.1 611.1 L1033.1 617.1 L1035.1 623.1 L1037.1 629.1 L1039.1 635.1 L1041.1 641.1 L1043.1 647.0 L1045.1 652.9 L1047.1 658.8 L1049.1 664.7 L1051.1 670.6 L1053.1 676.4 L1055.1 682.2 L1057.1 688.0 L1059.1 693.7 L1061.1 699.4 L1063.1 705.1 L1065.1 710.8 L1067.1 716.4 L1069.1 722.0 L1071.1 727.6 L1073.1 733.1 L1075.1 738.6 L1077.1 744.0 L1079.1 749.5 L1081.2 754.9 L1083.2 760.2 L1085.2 765.5 L1087.2 770.8 L1089.2 776.0 L1091.2 781.1 L1093.2 786.3 L1095.2 791.4 L1097.2 796.4 L1099.2 801.4 L1101.2 806.3 L1103.2 811.2 L1105.2 816.1 L1107.3 820.9 L1109.3 825.6 L1111.3 830.3 L1113.3 834.9 L1115.3 839.4 L1117.3 843.9 L1119.3 848.4 L1121.4 852.7 L1123.4 857.0 L1125.4 861.3 L1127.4 865.4 L1129.4 869.5 L1131.5 873.5 L1133.5 877.5 L1135.5 881.4 L1137.5 885.2 L1139.5 889.0 L1141.6 892.7 L1143.6 896.3 L1145.6 899.9 L1147.6 903.4 L1149.6 906.9 L1151.7 910.3 L1153.7 913.7 L1155.7 917.0 L1157.7 920.3 L1159.7 923.5 L1161.8 926.7 L1163.8 929.9 L1165.8 933.0 L1167.8 936.1 L1169.8 939.2 L1171.8 942.3 L1173.8 945.3 L1175.9 948.3 L1177.9 951.3 L1179.9 954.3 L1181.9 957.2 L1183.9 960.2 L1185.9 963.1 L1187.9 965.9 L1189.9 968.8 L1192.0 971.7 L1194.0 974.5 L1196.0 977.3 L1198.0 980.1 L1200.0 982.8 L1202.0 985.5 L1204.1 988.2 L1206.1 990.8 L1208.1 993.4 L1210.2 995.9 L1212.2 998.4 L1214.2 1000.9 L1216.3 1003.3 L1218.3 1005.6 L1220.4 1008.0 L1222.4 1010.2 L1224.5 1012.4 L1226.5 1014.5 L1228.6 1016.6 L1230.6 1018.7 L1232.7 1020.7 L1234.7 1022.6 L1236.7 1024.5 L1238.8 1026.4 L1240.8 1028.3 L1242.8 1030.1 L1244.9 1031.9 L1246.9 1033.6 L1248.9 1035.4 L1250.9 1037.1 L1253.0 1038.8 L1255.0 1040.5 L1257.0 1042.2 L1259.0 1043.8 L1261.0 1045.5 L1263.1 1047.1 L1265.1 1048.7 L1267.1 1050.3 L1269.2 1051.8 L1271.2 1053.4 L1273.2 1054.9 L1275.2 1056.4 L1277.3 1057.9 L1279.3 1059.3 L1281.3 1060.8 L1283.4 1062.2 L1285.4 1063.6 L1287.4 1064.9 L1289.4 1066.3 L1291.5 1067.6 L1293.5 1069.0 L1295.5 1070.3 L1297.5 1071.6 L1299.5 1072.9 L1301.5 1074.1 L1303.6 1075.4 L1305.6 1076.7 L1307.6 1077.9 L1309.6 1079.2 L1311.6 1080.4 L1313.6 1081.6 L1315.6 1082.9 L1317.7 1084.1 L1319.7 1085.3 L1321.7 1086.4 L1323.7 1087.6 L1325.8 1088.8 L1327.8 1089.9 L1329.8 1091.0 L1331.9 1092.1 L1333.9 1093.1 L1336.0 1094.2 L1338.0 1095.2 L1340.1 1096.2 L1342.1 1097.1 L1344.1 1098.1 L1346.2 1099.0 L1348.2 1099.9 L1350.3 1100.7 L1352.3 1101.6 L1354.3 1102.4 L1356.3 1103.2 L1358.4 1104.0 L1360.4 1104.8 L1362.4 1105.6 L1364.4 1106.4 L1366.4 1107.1 L1368.5 1107.9 L1370.5 1108.6 L1372.5 1109.4 L1374.5 1110.1 L1376.5 1110.8 L1378.5 1111.6 L1380.5 1112.3 L1382.5 1113.0 L1384.5 1113.7 L1386.6 1114.4 L1388.6 1115.1 L1390.6 1115.8 L1392.6 1116.4 L1394.6 1117.1 L1396.6 1117.8 L1398.7 1118.4 L1400.7 1119.1 L1402.7 1119.7 L1404.7 1120.3 L1406.7 1120.9 L1408.7 1121.5 L1410.8 1122.1 L1412.8 1122.7 L1414.8 1123.3 L1416.8 1123.8 L1418.8 1124.4 L1420.9 1125.0 L1422.9 1125.5 L1424.9 1126.0 L1426.9 1126.5 L1428.9 1127.0 L1431.0 1127.5 L1433.0 1128.0 L1435.0 1128.5 L1437.0 1129.0 L1439.0 1129.4 L1441.1 1129.9 L1443.1 1130.3 L1445.1 1130.8 L1447.1 1131.2 L1449.1 1131.6 L1451.1 1132.0 L1453.2 1132.4 L1455.2 1132.8 L1457.2 1133.2 L1459.2 1133.5 L1461.2 1133.9 L1463.2 1134.3 L1465.2 1134.7 L1467.2 1135.0 L1469.2 1135.4 L1471.2 1135.7 L1473.2 1136.1 L1475.3 1136.4 L1477.3 1136.8 L1479.3 1137.1 L1481.3 1137.5 L1483.3 1137.8 L1485.3 1138.2 L1487.3 1138.5 L1489.3 1138.9 L1491.3 1139.2 L1493.3 1139.5 L1495.3 1139.9 L1497.3 1140.2 L1499.3 1140.5 L1501.3 1140.9 L1503.3 1141.2 L1505.3 1141.5 L1507.4 1141.8 L1509.4 1142.1 L1511.4 1142.4 L1513.4 1142.7 L1515.4 1143.0 L1517.4 1143.3 L1519.4 1143.5 L1521.4 1143.8 L1523.5 1144.0 L1525.5 1144.3 L1527.5 1144.5 L1529.5 1144.8 L1531.5 1145.0 L1533.5 1145.2 L1535.5 1145.5 L1537.5 1145.7 L1539.5 1145.9 L1541.6 1146.1 L1543.6 1146.3 L1545.6 1146.5 L1547.6 1146.7 L1549.6 1146.9 L1551.6 1147.1 L1553.6 1147.3 L1555.6 1147.5 L1557.6 1147.7 L1559.6 1147.9 L1561.6 1148.1 L1563.6 1148.3 L1565.6 1148.5 L1567.6 1148.7 L1569.6 1148.8 L1571.6 1149.0 L1573.6 1149.2 L1575.6 1149.4 L1577.6 1149.6 L1579.6 1149.7 L1581.6 1149.9 L1583.6 1150.1 L1585.6 1150.3 L1587.6 1150.4 L1589.6 1150.6 L1591.7 1150.8 L1593.7 1150.9 L1595.7 1151.1 L1597.7 1151.2 L1599.7 1151.4 L1601.7 1151.6 L1603.7 1151.7 L1605.7 1151.8 L1607.7 1152.0 L1609.7 1152.1 L1611.7 1152.2 L1613.7 1152.4 L1615.7 1152.5 L1617.7 1152.6 L1619.8 1152.7 L1621.8 1152.8 L1623.8 1153.0 L1625.8 1153.1 L1627.8 1153.2 L1629.8 1153.3 L1631.8 1153.4 L1633.8 1153.5 L1635.8 1153.5 L1637.8 1153.6 L1639.8 1153.7 L1641.8 1153.8 L1643.8 1153.9 L1645.8 1154.0 L1647.8 1154.1 L1649.8 1154.1 L1651.8 1154.2 L1653.8 1154.3 L1655.8 1154.4 L1657.8 1154.5 L1659.8 1154.5 L1661.8 1154.6 L1663.8 1154.7 L1665.8 1154.8 L1667.8 1154.8 L1669.8 1154.9 L1671.8 1155.0 L1673.8 1155.1 L1675.8 1155.1 L1677.8 1155.2 L1679.8 1155.3 L1681.8 1155.4 L1683.8 1155.5 L1685.8 1155.5 L1687.8 1155.6 L1689.8 1155.7 L1691.8 1155.8 L1693.8 1155.8 L1695.8 1155.9 L1697.8 1156.0 L1699.8 1156.0 L1701.8 1156.1 L1703.8 1156.2 L1705.8 1156.3 L1707.8 1156.3 L1709.8 1156.4 L1711.8 1156.5 L1713.8 1156.6 L1715.8 1156.6 L1717.8 1156.7 L1719.8 1156.8 L1721.8 1156.8 L1723.9 1156.9 L1725.9 1157.0 L1727.9 1157.0 L1729.9 1157.1 L1731.9 1157.2 L1733.9 1157.3 L1735.9 1157.3 L1737.9 1157.4 L1739.9 1157.5 L1741.9 1157.5 L1743.9 1157.6 L1745.9 1157.6 L1747.9 1157.7 L1749.9 1157.8 L1751.9 1157.8 L1753.9 1157.9 L1755.9 1158.0 L1757.9 1158.0 L1759.9 1158.1 L1761.9 1158.1 L1763.9 1158.2 L1765.9 1158.2 L1767.9 1158.3 L1769.9 1158.4 L1771.9 1158.4 L1773.9 1158.5 L1775.9 1158.5 L1777.9 1158.6 L1779.9 1158.6 L1781.9 1158.7 L1783.9 1158.7 L1785.9 1158.8 L1787.9 1158.8 L1789.9 1158.9 L1791.9 1158.9 L1793.9 1159.0 L1795.9 1159.0 L1797.9 1159.1 L1799.9 1159.1 L1801.9 1159.1 L1803.9 1159.2 L1805.9 1159.2 L1807.9 1159.3 L1809.9 1159.3 L1811.9 1159.4 L1813.9 1159.4 L1815.9 1159.4 L1817.9 1159.5 L1819.9 1159.5 L1821.9 1159.5 L1823.9 1159.6 L1825.9 1159.6 L1827.9 1159.6 L1829.9 1159.7 L1831.9 1159.7 L1833.9 1159.7 L1835.9 1159.8 L1837.9 1159.8 L1839.9 1159.8 L1841.9 1159.9 L1843.9 1159.9 L1845.9 1159.9 L1847.9 1159.9 L1849.9 1160.0 L1851.9 1160.0 L1853.9 1160.0 L1855.9 1160.0 L1857.9 1160.1 L1859.9 1160.1 L1862.0 1160.1 L1864.0 1160.1 L1866.0 1160.2 L1868.0 1160.2 L1870.0 1160.2 L1872.0 1160.2 L1874.0 1160.2 L1876.0 1160.3 L1878.0 1160.3 L1880.0 1160.3 L1882.0 1160.3 L1884.0 1160.3 L1886.0 1160.4 L1888.0 1160.4 L1890.0 1160.4 L1892.0 1160.4 L1894.0 1160.4 L1896.0 1160.4 L1898.0 1160.5 L1900.0 1160.5 L1902.0 1160.5 L1904.0 1160.5 L1906.0 1160.5 L1908.0 1160.5 L1910.0 1160.5 L1912.0 1160.6 L1914.0 1160.6 L1916.0 1160.6 L1918.0 1160.6 L1920.0 1160.6 L1922.0 1160.6 L1924.0 1160.6 L1926.0 1160.6 L1928.0 1160.7 L1930.0 1160.7 L1932.0 1160.7 L1934.0 1160.7 L1936.0 1160.7 L1938.0 1160.7 L1940.0 1160.7 L1942.0 1160.7 L1944.0 1160.7 L1946.0 1160.7 L1948.0 1160.8 L1950.0 1160.8 L1952.0 1160.8 L1954.0 1160.8 L1956.0 1160.8 L1958.0 1160.8 L1960.0 1160.8 L1962.0 1160.8 L1964.0 1160.8 L1966.0 1160.8 L1968.0 1160.8 L1970.0 1160.9 L1972.0 1160.9 L1974.0 1160.9 L1976.0 1160.9 L1978.0 1160.9 L1980.0 1160.9 L1982.0 1160.9 L1984.0 1160.9 L1986.0 1160.9 L1988.0 1160.9 L1990.0 1160.9 L1992.0 1160.9 L1994.0 1160.9 L1996.0 1160.9 L1998.0 1161.0 L2000.0 1161.0 L2002.0 1161.0 L2004.0 1161.0 L2006.0 1161.0 L2008.0 1161.0 L2010.0 1161.0 L2012.0 1161.0 L2014.0 1161.0 L2016.0 1161.0 L2018.0 1161.0 L2020.0 1161.0 L2022.0 1161.0 L2024.0 1161.0 L2026.0 1161.0 L2028.0 1161.0 L2030.0 1161.0 L2032.0 1161.0 L2034.0 1161.0 L2036.0 1161.1 L2038.0 1161.1 L2038.0 1152.5 L2036.0 1152.5 L2034.0 1152.4 L2032.0 1152.4 L2030.0 1152.4 L2028.0 1152.4 L2026.0 1152.4 L2024.0 1152.4 L2022.0 1152.4 L2020.0 1152.4 L2018.0 1152.4 L2016.0 1152.4 L2014.0 1152.4 L2012.0 1152.4 L2010.0 1152.4 L2008.0 1152.4 L2006.0 1152.4 L2004.0 1152.4 L2002.0 1152.4 L2000.0 1152.4 L1998.0 1152.4 L1996.0 1152.3 L1994.0 1152.3 L1992.0 1152.3 L1990.0 1152.3 L1988.0 1152.3 L1986.0 1152.3 L1984.0 1152.3 L1982.0 1152.3 L1980.0 1152.3 L1978.0 1152.3 L1976.0 1152.3 L1974.0 1152.3 L1972.0 1152.3 L1970.0 1152.3 L1968.0 1152.2 L1966.0 1152.2 L1964.0 1152.2 L1962.0 1152.2 L1960.0 1152.2 L1958.0 1152.2 L1956.0 1152.2 L1954.0 1152.2 L1952.0 1152.2 L1950.0 1152.2 L1948.0 1152.2 L1946.0 1152.1 L1944.0 1152.1 L1942.0 1152.1 L1940.0 1152.1 L1938.0 1152.1 L1936.0 1152.1 L1934.0 1152.1 L1932.0 1152.1 L1930.0 1152.1 L1928.0 1152.1 L1926.0 1152.0 L1924.0 1152.0 L1922.0 1152.0 L1920.0 1152.0 L1918.0 1152.0 L1916.0 1152.0 L1914.0 1152.0 L1912.0 1152.0 L1910.0 1151.9 L1908.0 1151.9 L1906.0 1151.9 L1904.0 1151.9 L1902.0 1151.9 L1900.0 1151.9 L1898.0 1151.9 L1896.0 1151.8 L1894.0 1151.8 L1892.0 1151.8 L1890.0 1151.8 L1888.0 1151.8 L1886.0 1151.8 L1884.0 1151.7 L1882.0 1151.7 L1880.0 1151.7 L1878.0 1151.7 L1876.0 1151.7 L1874.0 1151.6 L1872.0 1151.6 L1870.0 1151.6 L1868.0 1151.6 L1866.0 1151.6 L1864.0 1151.5 L1862.0 1151.5 L1860.1 1151.5 L1858.1 1151.5 L1856.1 1151.4 L1854.1 1151.4 L1852.1 1151.4 L1850.1 1151.4 L1848.1 1151.3 L1846.1 1151.3 L1844.1 1151.3 L1842.1 1151.3 L1840.1 1151.2 L1838.1 1151.2 L1836.1 1151.2 L1834.1 1151.1 L1832.1 1151.1 L1830.1 1151.1 L1828.1 1151.0 L1826.1 1151.0 L1824.1 1151.0 L1822.1 1150.9 L1820.1 1150.9 L1818.1 1150.9 L1816.1 1150.8 L1814.1 1150.8 L1812.1 1150.8 L1810.1 1150.7 L1808.1 1150.7 L1806.1 1150.6 L1804.1 1150.6 L1802.1 1150.5 L1800.1 1150.5 L1798.1 1150.5 L1796.1 1150.4 L1794.1 1150.4 L1792.1 1150.3 L1790.1 1150.3 L1788.1 1150.2 L1786.1 1150.2 L1784.1 1150.1 L1782.1 1150.1 L1780.1 1150.0 L1778.1 1150.0 L1776.1 1149.9 L1774.1 1149.9 L1772.1 1149.8 L1770.1 1149.8 L1768.1 1149.7 L1766.1 1149.6 L1764.1 1149.6 L1762.1 1149.5 L1760.1 1149.5 L1758.1 1149.4 L1756.1 1149.4 L1754.1 1149.3 L1752.1 1149.2 L1750.1 1149.2 L1748.1 1149.1 L1746.1 1149.0 L1744.1 1149.0 L1742.1 1148.9 L1740.1 1148.9 L1738.1 1148.8 L1736.1 1148.7 L1734.1 1148.7 L1732.1 1148.6 L1730.1 1148.5 L1728.1 1148.5 L1726.1 1148.4 L1724.1 1148.3 L1722.2 1148.2 L1720.2 1148.2 L1718.2 1148.1 L1716.2 1148.0 L1714.2 1148.0 L1712.2 1147.9 L1710.2 1147.8 L1708.2 1147.7 L1706.2 1147.7 L1704.2 1147.6 L1702.2 1147.5 L1700.2 1147.5 L1698.2 1147.4 L1696.2 1147.3 L1694.2 1147.2 L1692.2 1147.2 L1690.2 1147.1 L1688.2 1147.0 L1686.2 1146.9 L1684.2 1146.9 L1682.2 1146.8 L1680.2 1146.7 L1678.2 1146.6 L1676.2 1146.6 L1674.2 1146.5 L1672.2 1146.4 L1670.2 1146.3 L1668.2 1146.2 L1666.2 1146.2 L1664.2 1146.1 L1662.2 1146.0 L1660.2 1145.9 L1658.2 1145.9 L1656.2 1145.8 L1654.2 1145.7 L1652.2 1145.6 L1650.2 1145.5 L1648.2 1145.5 L1646.2 1145.4 L1644.2 1145.3 L1642.2 1145.2 L1640.2 1145.1 L1638.2 1145.0 L1636.2 1145.0 L1634.2 1144.9 L1632.2 1144.8 L1630.2 1144.7 L1628.2 1144.6 L1626.2 1144.5 L1624.2 1144.4 L1622.2 1144.3 L1620.2 1144.1 L1618.3 1144.0 L1616.3 1143.9 L1614.3 1143.8 L1612.3 1143.7 L1610.3 1143.5 L1608.3 1143.4 L1606.3 1143.3 L1604.3 1143.1 L1602.3 1143.0 L1600.3 1142.8 L1598.3 1142.7 L1596.3 1142.5 L1594.3 1142.3 L1592.3 1142.2 L1590.4 1142.0 L1588.4 1141.9 L1586.4 1141.7 L1584.4 1141.5 L1582.4 1141.3 L1580.4 1141.2 L1578.4 1141.0 L1576.4 1140.8 L1574.4 1140.6 L1572.4 1140.4 L1570.4 1140.3 L1568.4 1140.1 L1566.4 1139.9 L1564.4 1139.7 L1562.4 1139.5 L1560.4 1139.3 L1558.4 1139.1 L1556.4 1138.9 L1554.4 1138.7 L1552.4 1138.5 L1550.4 1138.3 L1548.4 1138.1 L1546.4 1137.9 L1544.4 1137.7 L1542.4 1137.5 L1540.5 1137.3 L1538.5 1137.1 L1536.5 1136.9 L1534.5 1136.7 L1532.5 1136.4 L1530.5 1136.2 L1528.5 1136.0 L1526.5 1135.7 L1524.5 1135.5 L1522.6 1135.2 L1520.6 1135.0 L1518.6 1134.7 L1516.6 1134.4 L1514.6 1134.1 L1512.6 1133.9 L1510.6 1133.6 L1508.6 1133.3 L1506.7 1133.0 L1504.7 1132.6 L1502.7 1132.3 L1500.7 1132.0 L1498.7 1131.7 L1496.7 1131.3 L1494.7 1131.0 L1492.7 1130.7 L1490.7 1130.3 L1488.7 1130.0 L1486.7 1129.6 L1484.7 1129.3 L1482.7 1128.9 L1480.7 1128.6 L1478.7 1128.3 L1476.7 1127.9 L1474.8 1127.6 L1472.8 1127.2 L1470.8 1126.8 L1468.8 1126.5 L1466.8 1126.1 L1464.8 1125.8 L1462.8 1125.4 L1460.8 1125.0 L1458.8 1124.7 L1456.8 1124.3 L1454.8 1123.9 L1452.9 1123.5 L1450.9 1123.1 L1448.9 1122.7 L1446.9 1122.3 L1444.9 1121.8 L1442.9 1121.4 L1441.0 1120.9 L1439.0 1120.5 L1437.0 1120.0 L1435.0 1119.6 L1433.0 1119.1 L1431.1 1118.6 L1429.1 1118.1 L1427.1 1117.6 L1425.1 1117.0 L1423.1 1116.5 L1421.2 1116.0 L1419.2 1115.4 L1417.2 1114.9 L1415.2 1114.3 L1413.2 1113.7 L1411.3 1113.1 L1409.3 1112.5 L1407.3 1111.9 L1405.3 1111.3 L1403.3 1110.7 L1401.3 1110.0 L1399.4 1109.4 L1397.4 1108.7 L1395.4 1108.1 L1393.4 1107.4 L1391.4 1106.7 L1389.4 1106.0 L1387.5 1105.4 L1385.5 1104.7 L1383.5 1104.0 L1381.5 1103.2 L1379.5 1102.5 L1377.5 1101.8 L1375.5 1101.1 L1373.5 1100.3 L1371.5 1099.6 L1369.6 1098.9 L1367.6 1098.1 L1365.6 1097.3 L1363.6 1096.6 L1361.6 1095.8 L1359.7 1095.0 L1357.7 1094.2 L1355.7 1093.4 L1353.7 1092.5 L1351.8 1091.7 L1349.8 1090.8 L1347.9 1089.9 L1345.9 1089.0 L1343.9 1088.1 L1342.0 1087.1 L1340.0 1086.1 L1338.1 1085.1 L1336.1 1084.1 L1334.2 1083.0 L1332.2 1082.0 L1330.2 1080.8 L1328.3 1079.7 L1326.3 1078.6 L1324.3 1077.4 L1322.3 1076.2 L1320.4 1075.0 L1318.4 1073.8 L1316.4 1072.6 L1314.4 1071.4 L1312.4 1070.1 L1310.4 1068.9 L1308.4 1067.6 L1306.5 1066.4 L1304.5 1065.1 L1302.5 1063.8 L1300.5 1062.6 L1298.5 1061.3 L1296.5 1060.0 L1294.6 1058.6 L1292.6 1057.3 L1290.6 1055.9 L1288.6 1054.6 L1286.7 1053.2 L1284.7 1051.8 L1282.7 1050.3 L1280.8 1048.9 L1278.8 1047.4 L1276.8 1045.9 L1274.8 1044.4 L1272.9 1042.9 L1270.9 1041.3 L1268.9 1039.7 L1267.0 1038.2 L1265.0 1036.5 L1263.0 1034.9 L1261.0 1033.3 L1259.0 1031.6 L1257.1 1029.9 L1255.1 1028.2 L1253.1 1026.5 L1251.1 1024.8 L1249.2 1023.0 L1247.2 1021.2 L1245.2 1019.4 L1243.3 1017.6 L1241.3 1015.7 L1239.3 1013.8 L1237.4 1011.9 L1235.4 1009.9 L1233.5 1007.9 L1231.5 1005.8 L1229.6 1003.6 L1227.6 1001.5 L1225.7 999.2 L1223.7 997.0 L1221.8 994.6 L1219.8 992.2 L1217.8 989.8 L1215.9 987.3 L1213.9 984.8 L1211.9 982.2 L1210.0 979.6 L1208.0 976.9 L1206.0 974.2 L1204.0 971.5 L1202.0 968.7 L1200.0 965.9 L1198.1 963.1 L1196.1 960.3 L1194.1 957.4 L1192.1 954.5 L1190.1 951.6 L1188.1 948.7 L1186.1 945.7 L1184.1 942.8 L1182.2 939.8 L1180.2 936.8 L1178.2 933.7 L1176.2 930.7 L1174.2 927.6 L1172.2 924.5 L1170.2 921.4 L1168.3 918.2 L1166.3 915.0 L1164.3 911.8 L1162.3 908.5 L1160.3 905.2 L1158.4 901.8 L1156.4 898.4 L1154.4 894.9 L1152.4 891.4 L1150.4 887.8 L1148.5 884.2 L1146.5 880.4 L1144.5 876.7 L1142.5 872.9 L1140.5 868.9 L1138.6 865.0 L1136.6 860.9 L1134.6 856.8 L1132.6 852.7 L1130.6 848.4 L1128.7 844.1 L1126.7 839.7 L1124.7 835.3 L1122.7 830.8 L1120.7 826.2 L1118.7 821.6 L1116.7 816.9 L1114.8 812.1 L1112.8 807.3 L1110.8 802.4 L1108.8 797.5 L1106.8 792.6 L1104.8 787.6 L1102.8 782.5 L1100.8 777.4 L1098.8 772.2 L1096.8 767.1 L1094.8 761.8 L1092.8 756.5 L1090.8 751.2 L1088.9 745.9 L1086.9 740.5 L1084.9 735.0 L1082.9 729.6 L1080.9 724.0 L1078.9 718.5 L1076.9 712.9 L1074.9 707.3 L1072.9 701.7 L1070.9 696.0 L1068.9 690.3 L1066.9 684.6 L1064.9 678.8 L1062.9 673.0 L1060.9 667.2 L1058.9 661.4 L1056.9 655.5 L1054.9 649.6 L1052.9 643.7 L1050.9 637.8 L1048.9 631.8 L1046.9 625.8 L1044.9 619.9 L1042.9 613.9 L1040.9 607.8 L1038.9 601.8 L1036.9 595.8 L1034.9 589.7 L1032.9 583.7 L1030.9 577.6 L1028.9 571.5 L1026.9 565.4 L1024.9 559.4 L1022.9 553.3 L1020.9 547.2 L1018.9 541.1 L1016.9 535.1 L1014.9 529.0 L1012.9 523.0 L1010.9 517.0 L1008.9 511.0 L1006.9 505.0 L1004.9 499.1 L1002.9 493.2 L1000.9 487.3 L998.9 481.4 L996.9 475.6 L994.9 469.8 L992.9 464.1 L990.9 458.4 L988.9 452.7 L986.9 447.1 L984.9 441.6 L982.9 436.1 L980.9 430.7 L978.8 425.3 L976.8 419.9 L974.8 414.7 L972.8 409.5 L970.8 404.3 L968.8 399.3 L966.8 394.3 L964.8 389.4 L962.7 384.5 L960.7 379.8 L958.7 375.1 L956.7 370.5 L954.7 366.0 L952.7 361.6 L950.6 357.3 L948.6 353.1 L946.6 349.0 L944.5 345.0 L942.5 341.0 L940.5 337.2 L938.4 333.5 L936.4 329.9 L934.3 326.4 L932.3 323.1 L930.2 319.8 L928.2 316.7 L926.1 313.7 L924.0 310.8 L921.9 308.0 L919.8 305.4 L917.7 302.9 L915.6 300.5 L913.5 298.2 L911.4 296.1 L909.2 294.1 L907.0 292.3 L904.9 290.6 L902.6 289.0 L900.4 287.7 L898.2 286.4 L895.9 285.3 L893.6 284.4 L891.4 283.6 L889.1 282.9 L886.7 282.5 L884.5 282.2 L882.2 282.0 L879.8 282.0 L877.6 282.2 L875.2 282.4 L872.9 283.0 L870.6 283.6 L868.3 284.4 L866.0 285.4 L863.8 286.5 L861.5 287.7 L859.3 289.2 L857.1 290.8 L854.9 292.5 L852.8 294.4 L850.6 296.4 L848.5 298.5 L846.4 300.8 L844.3 303.2 L842.2 305.7 L840.1 308.4 L838.0 311.1 L835.9 313.9 L833.9 316.9 L831.8 320.0 L829.8 323.1 L827.7 326.4 L825.7 329.7 L823.7 333.1 L821.6 336.5 L819.6 340.1 L817.6 343.6 L815.5 347.3 L813.5 351.0 L811.5 354.8 L809.5 358.6 L807.5 362.5 L805.5 366.3 L803.5 370.3 L801.4 374.2 L799.4 378.2 L797.4 382.3 L795.4 386.3 L793.4 390.4 L791.4 394.5 L789.4 398.6 L787.4 402.8 L785.4 406.9 L783.4 411.1 L781.4 415.3 L779.4 419.4 L777.4 423.6 L775.4 427.8 L773.4 432.0 L771.4 436.2 L769.4 440.4 L767.4 444.6 L765.4 448.8 L763.4 453.0 L761.4 457.2 L759.4 461.4 L757.4 465.6 L755.4 469.8 L753.4 474.0 L751.4 478.2 L749.4 482.3 L747.4 486.5 L745.4 490.7 L743.4 494.9 L741.4 499.1 L739.4 503.3 L737.4 507.5 L735.4 511.7 L733.4 515.9 L731.4 520.1 L729.4 524.3 L727.4 528.5 L725.4 532.7 L723.4 536.9 L721.4 541.1 L719.4 545.3 L717.4 549.5 L715.4 553.7 L713.4 557.9 L711.4 562.1 L709.4 566.3 L707.4 570.5 L705.4 574.7 L703.4 578.9 L701.4 583.1 L699.4 587.2 L697.4 591.4 L695.4 595.6 L693.4 599.8 L691.4 604.0 L689.4 608.2 L687.4 612.4 L685.4 616.6 L683.4 620.8 L681.4 625.0 L679.4 629.2 L677.4 633.4 L675.4 637.6 L673.4 641.8 L671.4 646.0 L669.4 650.2 L667.4 654.4 L665.4 658.6 L663.4 662.8 L661.4 667.0 L659.4 671.2 L657.4 675.4 L655.4 679.6 L653.4 683.8 L651.4 688.0 L649.4 692.1 L647.4 696.3 L645.4 700.5 L643.4 704.7 L641.4 708.9 L639.4 713.1 L637.4 717.3 L635.4 721.5 L633.4 725.7 L631.4 729.9 L629.4 734.1 L627.4 738.3 L625.4 742.5 L623.4 746.7 L621.4 750.9 L619.4 755.1 L617.4 759.3 L615.4 763.5 L613.4 767.7 L611.4 771.9 L609.4 776.1 L607.4 780.3 L605.4 784.5 L603.4 788.7 L601.4 792.9 L599.4 797.0 L597.4 801.2 L595.4 805.4 L593.4 809.6 L591.4 813.8 L589.4 818.0 L587.4 822.2 L585.4 826.4 L583.4 830.6 L581.4 834.8 L579.4 839.0 L577.4 843.2 L575.4 847.4 L573.4 851.6 L571.4 855.8 L569.4 860.0 L567.4 864.2 L565.4 868.4 L563.4 872.6 L561.4 876.8 L559.4 881.0 L557.4 885.2 L555.4 889.4 L553.4 893.6 L551.4 897.8 L549.4 901.9 L547.4 906.1 L545.4 910.3 L543.4 914.5 L541.4 918.7 L539.4 922.9 L537.4 927.1 L535.4 931.3 L533.4 935.5 L531.4 939.7 L529.4 943.9 L527.4 948.1 L525.4 952.3 L523.4 956.5 L521.4 960.7 L519.4 964.9 L517.4 969.1 L515.4 973.3 L513.4 977.5 L511.4 981.7 L509.4 985.9 L507.4 990.1 L505.4 994.3 L503.4 998.5 L501.4 1002.7 L499.4 1006.8 L497.4 1011.0 L495.4 1015.2 L493.4 1019.4 L491.4 1023.6 L489.4 1027.8 L487.4 1032.0 L485.4 1036.2 L483.4 1040.4 L481.4 1044.6 L479.4 1048.8 L477.4 1053.0 L475.4 1057.2 L473.4 1061.4 L471.4 1065.6 L469.4 1069.8 L467.4 1074.0 L465.4 1078.2 L463.4 1082.4 L461.4 1086.6 L459.4 1090.8 L457.4 1095.0 L455.4 1099.2 L453.4 1103.4 L451.4 1107.6 L449.4 1111.7 L447.4 1115.9 L445.4 1120.1 L443.4 1124.3 L441.4 1128.5 L439.4 1132.7 L437.4 1136.9 L435.4 1141.1 L433.4 1145.3 L431.4 1149.5 L429.4 1153.7 L427.4 1157.9 L425.4 1162.1 L423.4 1166.3 L421.4 1170.5 L419.4 1174.7 L417.4 1178.9 L415.4 1183.1 L413.4 1187.3 L411.4 1191.5 L409.4 1195.7 L407.4 1199.9 L405.4 1204.1 L403.4 1208.3 L401.4 1212.5 L399.4 1216.6 L397.4 1220.8 L395.4 1225.0 L393.4 1229.2 L391.4 1233.4 L389.4 1237.6 L387.4 1241.8 L385.4 1246.0 L383.4 1250.2 L381.4 1254.4 L379.4 1258.6 L377.4 1262.8 L375.4 1267.0 L373.4 1271.2 L371.4 1275.4 L369.4 1279.6 L367.4 1283.8 L365.4 1288.0 L363.4 1292.2 L361.4 1296.4 L359.4 1300.6 L357.4 1304.8 L355.4 1309.0 L353.4 1313.2 L351.4 1317.4 L349.4 1321.5 L347.4 1325.7 L345.4 1329.9 L343.4 1334.1 L341.4 1338.3 L339.4 1342.5 L337.4 1346.7 L335.4 1350.9 L333.4 1355.1 L331.4 1359.3 L329.4 1363.5 L327.4 1367.7 L325.4 1371.9 L323.4 1376.1 L321.4 1380.3 L319.4 1384.5 L317.4 1388.7 L315.4 1392.9 L313.4 1397.1 L311.4 1401.3 L309.4 1405.5 L307.4 1409.7 L305.4 1413.9 L303.4 1418.1 L301.4 1422.3 L299.4 1426.4 L297.4 1430.6 L295.4 1434.8 L293.4 1439.0 L291.4 1443.2 L289.4 1447.4 L287.4 1451.6 L285.4 1455.8 L283.4 1460.0 L281.4 1464.2 L279.4 1468.4 L277.4 1472.6 L275.4 1476.8Z"/>
<path class="cv" fill="#ff00ff" d="M284.8 1481.0 L286.8 1476.1 L288.8 1471.2 L290.8 1466.3 L292.8 1461.5 L294.8 1456.6 L296.8 1451.7 L298.8 1446.9 L300.8 1442.0 L302.8 1437.1 L304.8 1432.3 L306.8 1427.4 L308.8 1422.5 L310.8 1417.6 L312.8 1412.8 L314.8 1407.9 L316.8 1403.0 L318.8 1398.2 L320.8 1393.3 L322.8 1388.4 L324.8 1383.6 L326.8 1378.7 L328.8 1373.8 L330.8 1368.9 L332.8 1364.1 L334.8 1359.2 L336.8 1354.3 L338.8 1349.5 L340.8 1344.6 L342.8 1339.7 L344.8 1334.9 L346.8 1330.0 L348.8 1325.1 L350.8 1320.2 L352.8 1315.4 L354.8 1310.5 L356.8 1305.6 L358.8 1300.8 L360.8 1295.9 L362.8 1291.0 L364.8 1286.2 L366.8 1281.3 L368.8 1276.4 L370.8 1271.5 L372.8 1266.7 L374.8 1261.8 L376.8 1256.9 L378.8 1252.1 L380.8 1247.2 L382.8 1242.3 L384.8 1237.5 L386.8 1232.6 L388.8 1227.7 L390.8 1222.8 L392.8 1218.0 L394.8 1213.1 L396.8 1208.2 L398.8 1203.4 L400.8 1198.5 L402.8 1193.6 L404.8 1188.8 L406.8 1183.9 L408.8 1179.0 L410.8 1174.1 L412.8 1169.3 L414.8 1164.4 L416.8 1159.5 L418.8 1154.7 L420.8 1149.8 L422.8 1144.9 L424.8 1140.1 L426.8 1135.2 L428.8 1130.3 L430.8 1125.4 L432.8 1120.6 L434.8 1115.7 L436.8 1110.8 L438.8 1106.0 L440.8 1101.1 L442.8 1096.2 L444.8 1091.4 L446.8 1086.5 L448.8 1081.6 L450.8 1076.7 L452.8 1071.9 L454.8 1067.0 L456.8 1062.1 L458.8 1057.3 L460.8 1052.4 L462.8 1047.5 L464.8 1042.7 L466.8 1037.8 L468.8 1032.9 L470.8 1028.0 L472.8 1023.2 L474.8 1018.3 L476.8 1013.4 L478.8 1008.6 L480.8 1003.7 L482.8 998.8 L484.8 994.0 L486.8 989.1 L488.8 984.2 L490.8 979.3 L492.8 974.5 L494.8 969.6 L496.8 964.7 L498.8 959.9 L500.8 955.0 L502.8 950.1 L504.8 945.3 L506.8 940.4 L508.8 935.5 L510.8 930.6 L512.8 925.8 L514.8 920.9 L516.8 916.0 L518.8 911.2 L520.8 906.3 L522.8 901.4 L524.8 896.6 L526.8 891.7 L528.8 886.8 L530.8 881.9 L532.8 877.1 L534.8 872.2 L536.8 867.3 L538.8 862.5 L540.8 857.6 L542.8 852.7 L544.8 847.9 L546.8 843.0 L548.8 838.1 L550.8 833.2 L552.8 828.4 L554.8 823.5 L556.8 818.6 L558.8 813.8 L560.8 808.9 L562.8 804.0 L564.8 799.2 L566.8 794.3 L568.8 789.4 L570.8 784.5 L572.8 779.7 L574.8 774.8 L576.8 769.9 L578.8 765.1 L580.8 760.2 L582.8 755.3 L584.8 750.5 L586.8 745.6 L588.8 740.7 L590.8 735.8 L592.8 731.0 L594.8 726.1 L596.8 721.2 L598.8 716.4 L600.8 711.5 L602.8 706.6 L604.8 701.8 L606.8 696.9 L608.8 692.0 L610.8 687.1 L612.8 682.3 L614.8 677.4 L616.8 672.5 L618.8 667.7 L620.8 662.8 L622.8 657.9 L624.8 653.1 L626.8 648.2 L628.8 643.3 L630.8 638.4 L632.8 633.6 L634.8 628.7 L636.8 623.8 L638.8 619.0 L640.8 614.1 L642.8 609.2 L644.8 604.4 L646.8 599.5 L648.8 594.6 L650.8 589.7 L652.8 584.9 L654.8 580.0 L656.8 575.1 L658.8 570.3 L660.8 565.4 L662.8 560.5 L664.8 555.7 L666.8 550.8 L668.8 545.9 L670.8 541.0 L672.8 536.2 L674.8 531.3 L676.8 526.4 L678.8 521.6 L680.8 516.7 L682.8 511.8 L684.8 507.0 L686.8 502.1 L688.8 497.2 L690.8 492.3 L692.8 487.5 L694.8 482.6 L696.8 477.7 L698.8 472.9 L700.8 468.0 L702.8 463.1 L704.8 458.3 L706.8 453.4 L708.8 448.5 L710.8 443.6 L712.8 438.8 L714.8 433.9 L716.8 429.0 L718.8 424.2 L720.8 419.3 L722.8 414.4 L724.8 409.6 L726.8 404.7 L728.8 399.8 L730.8 394.9 L732.8 390.1 L734.8 385.2 L736.8 380.3 L738.8 375.5 L740.8 370.6 L742.8 365.7 L744.8 360.9 L746.8 356.0 L748.8 351.1 L750.8 346.2 L752.8 341.4 L754.8 336.5 L756.8 331.6 L758.8 326.8 L760.8 321.9 L762.8 317.0 L764.8 312.2 L766.8 307.3 L768.8 302.4 L770.8 297.5 L772.8 292.7 L774.8 287.8 L776.8 283.0 L778.8 278.1 L780.8 273.2 L782.8 268.4 L784.8 263.5 L786.8 258.7 L788.8 253.9 L790.8 249.1 L792.8 244.3 L794.7 239.5 L796.7 234.8 L798.7 230.1 L800.7 225.4 L802.7 220.7 L804.7 216.1 L806.7 211.5 L808.7 206.9 L810.7 202.4 L812.7 197.9 L814.7 193.5 L816.7 189.2 L818.6 184.9 L820.6 180.6 L822.6 176.5 L824.6 172.4 L826.6 168.3 L828.5 164.5 L830.5 160.6 L832.5 156.9 L834.4 153.3 L836.4 149.8 L838.3 146.4 L840.3 143.2 L842.2 140.1 L844.1 137.1 L846.0 134.4 L847.9 131.7 L849.8 129.3 L851.6 127.0 L853.5 124.9 L855.3 123.0 L857.1 121.4 L858.9 119.9 L860.5 118.5 L862.2 117.5 L863.9 116.6 L865.4 115.9 L866.9 115.4 L868.6 115.1 L870.1 114.9 L871.5 115.0 L873.2 115.3 L874.7 115.7 L876.2 116.4 L877.9 117.3 L879.5 118.3 L881.1 119.6 L882.9 121.2 L884.6 122.8 L886.4 124.8 L888.3 127.0 L890.1 129.3 L891.9 132.0 L893.8 134.8 L895.7 137.8 L897.6 141.0 L899.6 144.5 L901.5 148.1 L903.4 152.0 L905.4 156.0 L907.3 160.2 L909.3 164.6 L911.3 169.2 L913.2 173.9 L915.2 178.9 L917.2 184.0 L919.1 189.2 L921.1 194.7 L923.1 200.2 L925.1 205.9 L927.1 211.8 L929.1 217.8 L931.0 223.9 L933.0 230.1 L935.0 236.5 L937.0 243.0 L939.0 249.6 L941.0 256.3 L943.0 263.1 L945.0 270.1 L947.0 277.1 L949.0 284.2 L951.0 291.4 L953.0 298.7 L954.9 306.0 L956.9 313.5 L958.9 320.9 L960.9 328.5 L962.9 336.1 L964.9 343.7 L966.9 351.4 L968.9 359.2 L970.9 367.0 L972.9 374.8 L974.9 382.6 L976.9 390.5 L978.9 398.4 L980.9 406.3 L982.9 414.2 L984.9 422.1 L986.9 430.0 L988.9 437.9 L990.9 445.8 L992.9 453.7 L994.9 461.6 L996.9 469.4 L998.9 477.3 L1000.9 485.1 L1002.9 492.8 L1004.9 500.6 L1006.9 508.2 L1008.9 515.9 L1010.9 523.5 L1012.9 531.1 L1014.9 538.6 L1016.9 546.1 L1019.0 553.5 L1021.0 560.8 L1023.0 568.1 L1025.0 575.4 L1027.0 582.6 L1029.0 589.7 L1031.0 596.8 L1033.0 603.9 L1035.0 610.8 L1037.0 617.7 L1039.0 624.6 L1041.0 631.4 L1043.0 638.1 L1045.0 644.8 L1047.0 651.5 L1049.0 658.0 L1051.0 664.5 L1053.0 671.0 L1055.0 677.4 L1057.0 683.7 L1059.0 690.0 L1061.0 696.2 L1063.1 702.4 L1065.1 708.5 L1067.1 714.5 L1069.1 720.5 L1071.1 726.4 L1073.1 732.3 L1075.1 738.1 L1077.1 743.9 L1079.1 749.6 L1081.1 755.2 L1083.1 760.8 L1085.1 766.3 L1087.1 771.7 L1089.2 777.1 L1091.2 782.4 L1093.2 787.7 L1095.2 792.9 L1097.2 798.0 L1099.2 803.1 L1101.2 808.1 L1103.2 813.1 L1105.2 818.0 L1107.2 822.8 L1109.3 827.6 L1111.3 832.3 L1113.3 837.0 L1115.3 841.5 L1117.3 846.1 L1119.3 850.5 L1121.3 854.9 L1123.4 859.2 L1125.4 863.4 L1127.4 867.6 L1129.4 871.7 L1131.5 875.7 L1133.5 879.7 L1135.5 883.6 L1137.5 887.4 L1139.5 891.2 L1141.6 894.9 L1143.6 898.5 L1145.6 902.1 L1147.6 905.6 L1149.7 909.0 L1151.7 912.4 L1153.7 915.8 L1155.7 919.0 L1157.8 922.2 L1159.8 925.4 L1161.8 928.5 L1163.8 931.6 L1165.9 934.6 L1167.9 937.6 L1169.9 940.5 L1171.9 943.4 L1174.0 946.3 L1176.0 949.1 L1178.0 951.9 L1180.0 954.6 L1182.0 957.3 L1184.1 960.0 L1186.1 962.7 L1188.1 965.3 L1190.1 967.9 L1192.2 970.4 L1194.2 972.9 L1196.2 975.4 L1198.2 977.9 L1200.2 980.3 L1202.3 982.8 L1204.3 985.1 L1206.3 987.5 L1208.4 989.8 L1210.4 992.0 L1212.4 994.3 L1214.5 996.5 L1216.5 998.6 L1218.5 1000.8 L1220.6 1002.9 L1222.6 1004.9 L1224.6 1006.9 L1226.7 1008.9 L1228.7 1010.8 L1230.8 1012.7 L1232.8 1014.6 L1234.9 1016.4 L1236.9 1018.2 L1238.9 1019.9 L1241.0 1021.7 L1243.0 1023.4 L1245.0 1025.0 L1247.0 1026.7 L1249.1 1028.3 L1251.1 1029.9 L1253.1 1031.5 L1255.1 1033.0 L1257.2 1034.6 L1259.2 1036.1 L1261.2 1037.6 L1263.2 1039.1 L1265.3 1040.6 L1267.3 1042.0 L1269.3 1043.5 L1271.4 1044.9 L1273.4 1046.3 L1275.4 1047.6 L1277.5 1049.0 L1279.5 1050.3 L1281.5 1051.6 L1283.6 1052.9 L1285.6 1054.2 L1287.6 1055.4 L1289.7 1056.6 L1291.7 1057.8 L1293.7 1059.0 L1295.8 1060.2 L1297.8 1061.3 L1299.8 1062.4 L1301.8 1063.5 L1303.9 1064.6 L1305.9 1065.7 L1307.9 1066.8 L1309.9 1067.8 L1312.0 1068.8 L1314.0 1069.8 L1316.0 1070.8 L1318.0 1071.8 L1320.1 1072.8 L1322.1 1073.7 L1324.1 1074.7 L1326.1 1075.6 L1328.2 1076.5 L1330.2 1077.4 L1332.2 1078.3 L1334.3 1079.2 L1336.3 1080.0 L1338.3 1080.9 L1340.3 1081.7 L1342.4 1082.5 L1344.4 1083.3 L1346.4 1084.0 L1348.5 1084.8 L1350.5 1085.5 L1352.5 1086.3 L1354.5 1087.0 L1356.6 1087.7 L1358.6 1088.4 L1360.6 1089.0 L1362.7 1089.7 L1364.7 1090.3 L1366.7 1091.0 L1368.7 1091.6 L1370.7 1092.2 L1372.8 1092.8 L1374.8 1093.4 L1376.8 1094.0 L1378.8 1094.5 L1380.8 1095.1 L1382.8 1095.6 L1384.9 1096.2 L1386.9 1096.7 L1388.9 1097.3 L1390.9 1097.8 L1392.9 1098.3 L1394.9 1098.8 L1396.9 1099.3 L1398.9 1099.8 L1400.9 1100.3 L1403.0 1100.8 L1405.0 1101.3 L1407.0 1101.8 L1409.0 1102.3 L1411.0 1102.8 L1413.0 1103.2 L1415.0 1103.7 L1417.0 1104.2 L1419.0 1104.6 L1421.1 1105.1 L1423.1 1105.5 L1425.1 1105.9 L1427.1 1106.4 L1429.1 1106.8 L1431.1 1107.2 L1433.2 1107.6 L1435.2 1108.0 L1437.2 1108.4 L1439.2 1108.8 L1441.2 1109.1 L1443.2 1109.5 L1445.3 1109.8 L1447.3 1110.2 L1449.3 1110.5 L1451.3 1110.9 L1453.3 1111.2 L1455.3 1111.5 L1457.4 1111.8 L1459.4 1112.1 L1461.4 1112.4 L1463.4 1112.7 L1465.4 1113.0 L1467.4 1113.2 L1469.4 1113.5 L1471.4 1113.8 L1473.4 1114.0 L1475.5 1114.3 L1477.5 1114.5 L1479.5 1114.8 L1481.5 1115.0 L1483.5 1115.3 L1485.5 1115.5 L1487.5 1115.8 L1489.5 1116.0 L1491.5 1116.2 L1493.5 1116.5 L1495.5 1116.7 L1497.5 1116.9 L1499.5 1117.2 L1501.5 1117.4 L1503.5 1117.6 L1505.5 1117.9 L1507.5 1118.1 L1509.5 1118.3 L1511.5 1118.5 L1513.5 1118.7 L1515.5 1118.9 L1517.6 1119.2 L1519.6 1119.4 L1521.6 1119.6 L1523.6 1119.8 L1525.6 1120.0 L1527.6 1120.2 L1529.6 1120.3 L1531.6 1120.5 L1533.6 1120.7 L1535.6 1120.9 L1537.6 1121.0 L1539.7 1121.2 L1541.7 1121.4 L1543.7 1121.5 L1545.7 1121.7 L1547.7 1121.8 L1549.7 1122.0 L1551.7 1122.1 L1553.7 1122.3 L1555.7 1122.4 L1557.7 1122.5 L1559.7 1122.7 L1561.7 1122.8 L1563.7 1122.9 L1565.7 1123.1 L1567.7 1123.2 L1569.7 1123.3 L1571.7 1123.5 L1573.7 1123.6 L1575.7 1123.7 L1577.7 1123.8 L1579.7 1124.0 L1581.7 1124.1 L1583.7 1124.2 L1585.7 1124.3 L1587.7 1124.5 L1589.7 1124.6 L1591.7 1124.7 L1593.7 1124.8 L1595.7 1125.0 L1597.7 1125.1 L1599.7 1125.2 L1601.7 1125.3 L1603.8 1125.4 L1605.8 1125.6 L1607.8 1125.7 L1609.8 1125.8 L1611.8 1125.9 L1613.8 1126.0 L1615.8 1126.1 L1617.8 1126.2 L1619.8 1126.3 L1621.8 1126.4 L1623.8 1126.5 L1625.8 1126.6 L1627.8 1126.7 L1629.8 1126.8 L1631.8 1126.9 L1633.8 1127.0 L1635.8 1127.1 L1637.8 1127.2 L1639.8 1127.3 L1641.8 1127.3 L1643.8 1127.4 L1645.8 1127.5 L1647.8 1127.6 L1649.8 1127.7 L1651.8 1127.7 L1653.8 1127.8 L1655.8 1127.9 L1657.9 1127.9 L1659.9 1128.0 L1661.9 1128.1 L1663.9 1128.1 L1665.9 1128.2 L1667.9 1128.3 L1669.9 1128.3 L1671.9 1128.4 L1673.9 1128.4 L1675.9 1128.5 L1677.9 1128.6 L1679.9 1128.6 L1681.9 1128.7 L1683.9 1128.7 L1685.9 1128.8 L1687.9 1128.8 L1689.9 1128.9 L1691.9 1128.9 L1693.9 1129.0 L1695.9 1129.0 L1697.9 1129.1 L1699.9 1129.1 L1701.9 1129.2 L1703.9 1129.2 L1705.9 1129.2 L1707.9 1129.3 L1709.9 1129.3 L1711.9 1129.4 L1713.9 1129.4 L1715.9 1129.4 L1717.9 1129.5 L1719.9 1129.5 L1721.9 1129.6 L1723.9 1129.6 L1725.9 1129.6 L1727.9 1129.7 L1729.9 1129.7 L1731.9 1129.7 L1733.9 1129.8 L1735.9 1129.8 L1737.9 1129.8 L1739.9 1129.9 L1741.9 1129.9 L1743.9 1129.9 L1745.9 1130.0 L1747.9 1130.0 L1749.9 1130.0 L1751.9 1130.1 L1753.9 1130.1 L1755.9 1130.1 L1757.9 1130.2 L1759.9 1130.2 L1761.9 1130.2 L1763.9 1130.2 L1765.9 1130.3 L1767.9 1130.3 L1769.9 1130.3 L1771.9 1130.4 L1773.9 1130.4 L1775.9 1130.4 L1777.9 1130.4 L1779.9 1130.5 L1781.9 1130.5 L1783.9 1130.5 L1785.9 1130.5 L1787.9 1130.6 L1789.9 1130.6 L1791.9 1130.6 L1794.0 1130.6 L1796.0 1130.7 L1798.0 1130.7 L1800.0 1130.7 L1802.0 1130.7 L1804.0 1130.7 L1806.0 1130.8 L1808.0 1130.8 L1810.0 1130.8 L1812.0 1130.8 L1814.0 1130.8 L1816.0 1130.9 L1818.0 1130.9 L1820.0 1130.9 L1822.0 1130.9 L1824.0 1130.9 L1826.0 1131.0 L1828.0 1131.0 L1830.0 1131.0 L1832.0 1131.0 L1834.0 1131.0 L1836.0 1131.0 L1838.0 1131.0 L1840.0 1131.1 L1842.0 1131.1 L1844.0 1131.1 L1846.0 1131.1 L1848.0 1131.1 L1850.0 1131.1 L1852.0 1131.1 L1854.0 1131.2 L1856.0 1131.2 L1858.0 1131.2 L1860.0 1131.2 L1862.0 1131.2 L1864.0 1131.2 L1866.0 1131.2 L1868.0 1131.2 L1870.0 1131.3 L1872.0 1131.3 L1874.0 1131.3 L1876.0 1131.3 L1878.0 1131.3 L1880.0 1131.3 L1882.0 1131.3 L1884.0 1131.3 L1886.0 1131.3 L1888.0 1131.3 L1890.0 1131.3 L1892.0 1131.3 L1894.0 1131.4 L1896.0 1131.4 L1898.0 1131.4 L1900.0 1131.4 L1902.0 1131.4 L1904.0 1131.4 L1906.0 1131.4 L1908.0 1131.4 L1910.0 1131.4 L1912.0 1131.4 L1914.0 1131.4 L1916.0 1131.4 L1918.0 1131.4 L1920.0 1131.4 L1922.0 1131.4 L1924.0 1131.4 L1926.0 1131.5 L1928.0 1131.5 L1930.0 1131.5 L1932.0 1131.5 L1934.0 1131.5 L1936.0 1131.5 L1938.0 1131.5 L1940.0 1131.5 L1942.0 1131.5 L1944.0 1131.5 L1946.0 1131.5 L1948.0 1131.5 L1950.0 1131.5 L1952.0 1131.5 L1954.0 1131.5 L1956.0 1131.5 L1958.0 1131.5 L1960.0 1131.5 L1962.0 1131.5 L1964.0 1131.5 L1966.0 1131.5 L1968.0 1131.5 L1970.0 1131.5 L1972.0 1131.5 L1974.0 1131.5 L1976.0 1131.5 L1978.0 1131.5 L1980.0 1131.5 L1982.0 1131.5 L1984.0 1131.5 L1986.0 1131.5 L1988.0 1131.5 L1990.0 1131.5 L1992.0 1131.5 L1994.0 1131.5 L1996.0 1131.5 L1998.0 1131.5 L2000.0 1131.5 L2002.0 1131.5 L2004.0 1131.5 L2006.0 1131.5 L2008.0 1131.5 L2010.0 1131.5 L2012.0 1131.5 L2014.0 1131.5 L2016.0 1131.5 L2018.0 1131.5 L2020.0 1131.5 L2022.0 1131.5 L2024.0 1131.5 L2026.0 1131.5 L2028.0 1131.5 L2030.0 1131.5 L2032.0 1131.5 L2034.0 1131.5 L2036.0 1131.6 L2038.0 1131.6 L2038.0 1123.0 L2036.0 1123.0 L2034.0 1122.9 L2032.0 1122.9 L2030.0 1122.9 L2028.0 1122.9 L2026.0 1122.9 L2024.0 1122.9 L2022.0 1122.9 L2020.0 1122.9 L2018.0 1122.9 L2016.0 1122.9 L2014.0 1122.9 L2012.0 1122.9 L2010.0 1122.9 L2008.0 1122.9 L2006.0 1122.9 L2004.0 1122.9 L2002.0 1122.9 L2000.0 1122.9 L1998.0 1122.9 L1996.0 1122.9 L1994.0 1122.9 L1992.0 1122.9 L1990.0 1122.9 L1988.0 1122.9 L1986.0 1122.9 L1984.0 1122.9 L1982.0 1122.9 L1980.0 1122.9 L1978.0 1122.9 L1976.0 1122.9 L1974.0 1122.9 L1972.0 1122.9 L1970.0 1122.9 L1968.0 1122.9 L1966.0 1122.9 L1964.0 1122.9 L1962.0 1122.9 L1960.0 1122.9 L1958.0 1122.9 L1956.0 1122.9 L1954.0 1122.9 L1952.0 1122.9 L1950.0 1122.9 L1948.0 1122.9 L1946.0 1122.9 L1944.0 1122.9 L1942.0 1122.9 L1940.0 1122.9 L1938.0 1122.9 L1936.0 1122.9 L1934.0 1122.9 L1932.0 1122.9 L1930.0 1122.9 L1928.0 1122.9 L1926.0 1122.9 L1924.0 1122.8 L1922.0 1122.8 L1920.0 1122.8 L1918.0 1122.8 L1916.0 1122.8 L1914.0 1122.8 L1912.0 1122.8 L1910.0 1122.8 L1908.0 1122.8 L1906.0 1122.8 L1904.0 1122.8 L1902.0 1122.8 L1900.0 1122.8 L1898.0 1122.8 L1896.0 1122.8 L1894.0 1122.8 L1892.0 1122.7 L1890.0 1122.7 L1888.0 1122.7 L1886.0 1122.7 L1884.0 1122.7 L1882.0 1122.7 L1880.0 1122.7 L1878.0 1122.7 L1876.0 1122.7 L1874.0 1122.7 L1872.0 1122.7 L1870.0 1122.7 L1868.0 1122.6 L1866.0 1122.6 L1864.0 1122.6 L1862.0 1122.6 L1860.0 1122.6 L1858.0 1122.6 L1856.0 1122.6 L1854.0 1122.6 L1852.0 1122.5 L1850.0 1122.5 L1848.0 1122.5 L1846.0 1122.5 L1844.0 1122.5 L1842.0 1122.5 L1840.0 1122.5 L1838.0 1122.4 L1836.0 1122.4 L1834.0 1122.4 L1832.0 1122.4 L1830.0 1122.4 L1828.0 1122.4 L1826.0 1122.4 L1824.0 1122.3 L1822.0 1122.3 L1820.0 1122.3 L1818.0 1122.3 L1816.0 1122.3 L1814.0 1122.2 L1812.0 1122.2 L1810.0 1122.2 L1808.0 1122.2 L1806.0 1122.2 L1804.0 1122.1 L1802.0 1122.1 L1800.0 1122.1 L1798.0 1122.1 L1796.0 1122.1 L1794.0 1122.0 L1792.1 1122.0 L1790.1 1122.0 L1788.1 1122.0 L1786.1 1121.9 L1784.1 1121.9 L1782.1 1121.9 L1780.1 1121.9 L1778.1 1121.8 L1776.1 1121.8 L1774.1 1121.8 L1772.1 1121.8 L1770.1 1121.7 L1768.1 1121.7 L1766.1 1121.7 L1764.1 1121.6 L1762.1 1121.6 L1760.1 1121.6 L1758.1 1121.6 L1756.1 1121.5 L1754.1 1121.5 L1752.1 1121.5 L1750.1 1121.4 L1748.1 1121.4 L1746.1 1121.4 L1744.1 1121.3 L1742.1 1121.3 L1740.1 1121.3 L1738.1 1121.2 L1736.1 1121.2 L1734.1 1121.2 L1732.1 1121.1 L1730.1 1121.1 L1728.1 1121.1 L1726.1 1121.0 L1724.1 1121.0 L1722.1 1121.0 L1720.1 1120.9 L1718.1 1120.9 L1716.1 1120.8 L1714.1 1120.8 L1712.1 1120.8 L1710.1 1120.7 L1708.1 1120.7 L1706.1 1120.6 L1704.1 1120.6 L1702.1 1120.6 L1700.1 1120.5 L1698.1 1120.5 L1696.1 1120.4 L1694.1 1120.4 L1692.1 1120.3 L1690.1 1120.3 L1688.1 1120.2 L1686.1 1120.2 L1684.1 1120.1 L1682.1 1120.1 L1680.1 1120.0 L1678.1 1120.0 L1676.1 1119.9 L1674.1 1119.8 L1672.1 1119.8 L1670.1 1119.7 L1668.1 1119.7 L1666.1 1119.6 L1664.1 1119.5 L1662.1 1119.5 L1660.1 1119.4 L1658.1 1119.3 L1656.2 1119.3 L1654.2 1119.2 L1652.2 1119.1 L1650.2 1119.1 L1648.2 1119.0 L1646.2 1118.9 L1644.2 1118.8 L1642.2 1118.7 L1640.2 1118.7 L1638.2 1118.6 L1636.2 1118.5 L1634.2 1118.4 L1632.2 1118.3 L1630.2 1118.2 L1628.2 1118.1 L1626.2 1118.0 L1624.2 1117.9 L1622.2 1117.8 L1620.2 1117.7 L1618.2 1117.6 L1616.2 1117.5 L1614.2 1117.4 L1612.2 1117.3 L1610.2 1117.2 L1608.2 1117.1 L1606.2 1117.0 L1604.2 1116.8 L1602.3 1116.7 L1600.3 1116.6 L1598.3 1116.5 L1596.3 1116.4 L1594.3 1116.2 L1592.3 1116.1 L1590.3 1116.0 L1588.3 1115.9 L1586.3 1115.8 L1584.3 1115.6 L1582.3 1115.5 L1580.3 1115.4 L1578.3 1115.3 L1576.3 1115.1 L1574.3 1115.0 L1572.3 1114.9 L1570.3 1114.7 L1568.3 1114.6 L1566.3 1114.5 L1564.3 1114.4 L1562.3 1114.2 L1560.3 1114.1 L1558.3 1113.9 L1556.3 1113.8 L1554.3 1113.7 L1552.3 1113.5 L1550.3 1113.4 L1548.3 1113.2 L1546.3 1113.1 L1544.3 1112.9 L1542.3 1112.8 L1540.3 1112.6 L1538.4 1112.5 L1536.4 1112.3 L1534.4 1112.1 L1532.4 1111.9 L1530.4 1111.8 L1528.4 1111.6 L1526.4 1111.4 L1524.4 1111.2 L1522.4 1111.0 L1520.4 1110.8 L1518.4 1110.6 L1516.5 1110.4 L1514.5 1110.2 L1512.5 1109.9 L1510.5 1109.7 L1508.5 1109.5 L1506.5 1109.3 L1504.5 1109.1 L1502.5 1108.8 L1500.5 1108.6 L1498.5 1108.4 L1496.5 1108.1 L1494.5 1107.9 L1492.5 1107.7 L1490.5 1107.4 L1488.5 1107.2 L1486.5 1107.0 L1484.5 1106.7 L1482.5 1106.5 L1480.5 1106.2 L1478.5 1106.0 L1476.5 1105.7 L1474.6 1105.5 L1472.6 1105.2 L1470.6 1104.9 L1468.6 1104.7 L1466.6 1104.4 L1464.6 1104.1 L1462.6 1103.8 L1460.6 1103.5 L1458.6 1103.3 L1456.7 1102.9 L1454.7 1102.6 L1452.7 1102.3 L1450.7 1102.0 L1448.7 1101.7 L1446.7 1101.3 L1444.8 1101.0 L1442.8 1100.6 L1440.8 1100.2 L1438.8 1099.9 L1436.8 1099.5 L1434.8 1099.1 L1432.9 1098.7 L1430.9 1098.3 L1428.9 1097.9 L1426.9 1097.4 L1424.9 1097.0 L1422.9 1096.6 L1421.0 1096.1 L1419.0 1095.7 L1417.0 1095.2 L1415.0 1094.8 L1413.0 1094.3 L1411.0 1093.8 L1409.0 1093.3 L1407.0 1092.9 L1405.0 1092.4 L1403.1 1091.9 L1401.1 1091.4 L1399.1 1090.9 L1397.1 1090.4 L1395.1 1089.9 L1393.1 1089.3 L1391.1 1088.8 L1389.1 1088.3 L1387.1 1087.8 L1385.2 1087.2 L1383.2 1086.7 L1381.2 1086.1 L1379.2 1085.5 L1377.2 1085.0 L1375.2 1084.4 L1373.3 1083.8 L1371.3 1083.2 L1369.3 1082.6 L1367.3 1082.0 L1365.3 1081.3 L1363.4 1080.7 L1361.4 1080.0 L1359.4 1079.3 L1357.5 1078.7 L1355.5 1077.9 L1353.5 1077.2 L1351.5 1076.5 L1349.6 1075.8 L1347.6 1075.0 L1345.6 1074.2 L1343.7 1073.4 L1341.7 1072.6 L1339.7 1071.8 L1337.7 1071.0 L1335.8 1070.1 L1333.8 1069.3 L1331.8 1068.4 L1329.9 1067.5 L1327.9 1066.6 L1325.9 1065.6 L1323.9 1064.7 L1322.0 1063.7 L1320.0 1062.8 L1318.0 1061.8 L1316.0 1060.8 L1314.1 1059.8 L1312.1 1058.8 L1310.1 1057.7 L1308.1 1056.7 L1306.2 1055.6 L1304.2 1054.5 L1302.2 1053.4 L1300.2 1052.3 L1298.3 1051.1 L1296.3 1050.0 L1294.3 1048.8 L1292.4 1047.6 L1290.4 1046.4 L1288.4 1045.1 L1286.5 1043.9 L1284.5 1042.6 L1282.5 1041.3 L1280.6 1040.0 L1278.6 1038.6 L1276.6 1037.3 L1274.7 1035.9 L1272.7 1034.5 L1270.7 1033.1 L1268.8 1031.6 L1266.8 1030.1 L1264.8 1028.7 L1262.8 1027.2 L1260.9 1025.6 L1258.9 1024.1 L1256.9 1022.5 L1254.9 1021.0 L1253.0 1019.4 L1251.0 1017.8 L1249.0 1016.1 L1247.0 1014.5 L1245.1 1012.8 L1243.1 1011.1 L1241.1 1009.3 L1239.2 1007.5 L1237.2 1005.7 L1235.3 1003.9 L1233.3 1002.0 L1231.4 1000.1 L1229.4 998.1 L1227.4 996.1 L1225.5 994.1 L1223.5 992.0 L1221.5 989.9 L1219.6 987.7 L1217.6 985.6 L1215.6 983.3 L1213.7 981.1 L1211.7 978.8 L1209.7 976.4 L1207.8 974.1 L1205.8 971.7 L1203.8 969.3 L1201.8 966.8 L1199.8 964.3 L1197.9 961.8 L1195.9 959.2 L1193.9 956.7 L1191.9 954.1 L1190.0 951.4 L1188.0 948.7 L1186.0 946.0 L1184.0 943.3 L1182.0 940.5 L1180.1 937.7 L1178.1 934.9 L1176.1 932.0 L1174.1 929.1 L1172.2 926.1 L1170.2 923.1 L1168.2 920.0 L1166.2 916.9 L1164.3 913.7 L1162.3 910.5 L1160.3 907.2 L1158.3 903.9 L1156.4 900.5 L1154.4 897.1 L1152.4 893.6 L1150.4 890.0 L1148.5 886.4 L1146.5 882.7 L1144.5 878.9 L1142.5 875.1 L1140.5 871.1 L1138.6 867.2 L1136.6 863.1 L1134.6 859.0 L1132.6 854.8 L1130.7 850.6 L1128.7 846.2 L1126.7 841.9 L1124.7 837.4 L1122.7 832.8 L1120.7 828.3 L1118.7 823.6 L1116.8 818.9 L1114.8 814.1 L1112.8 809.2 L1110.8 804.3 L1108.8 799.3 L1106.8 794.3 L1104.8 789.2 L1102.8 784.0 L1100.8 778.8 L1098.8 773.5 L1096.9 768.1 L1094.9 762.7 L1092.9 757.2 L1090.9 751.7 L1088.9 746.1 L1086.9 740.4 L1084.9 734.7 L1082.9 728.9 L1080.9 723.1 L1078.9 717.2 L1076.9 711.2 L1074.9 705.2 L1072.9 699.2 L1071.0 693.0 L1069.0 686.8 L1067.0 680.6 L1065.0 674.3 L1063.0 667.9 L1061.0 661.5 L1059.0 655.0 L1057.0 648.4 L1055.0 641.8 L1053.0 635.2 L1051.0 628.4 L1049.0 621.7 L1047.0 614.8 L1045.0 607.9 L1043.0 601.0 L1041.0 594.0 L1039.0 586.9 L1037.0 579.8 L1035.0 572.6 L1033.0 565.4 L1031.0 558.1 L1029.0 550.7 L1027.1 543.3 L1025.1 535.9 L1023.1 528.4 L1021.1 520.8 L1019.1 513.3 L1017.1 505.6 L1015.1 497.9 L1013.1 490.2 L1011.1 482.4 L1009.1 474.7 L1007.1 466.8 L1005.1 459.0 L1003.1 451.1 L1001.1 443.2 L999.1 435.3 L997.1 427.4 L995.1 419.5 L993.1 411.6 L991.1 403.7 L989.1 395.8 L987.1 387.9 L985.1 380.0 L983.1 372.2 L981.1 364.4 L979.1 356.6 L977.1 348.8 L975.1 341.1 L973.1 333.4 L971.1 325.8 L969.1 318.3 L967.1 310.7 L965.1 303.3 L963.0 295.9 L961.0 288.6 L959.0 281.4 L957.0 274.3 L955.0 267.2 L953.0 260.2 L951.0 253.4 L949.0 246.6 L947.0 239.9 L945.0 233.4 L943.0 227.0 L941.0 220.7 L938.9 214.5 L936.9 208.5 L934.9 202.5 L932.9 196.8 L930.9 191.1 L928.9 185.6 L926.8 180.3 L924.8 175.1 L922.8 170.0 L920.7 165.2 L918.7 160.5 L916.7 155.9 L914.6 151.6 L912.6 147.5 L910.5 143.4 L908.4 139.6 L906.4 136.0 L904.3 132.5 L902.2 129.3 L900.1 126.3 L897.9 123.3 L895.7 120.7 L893.6 118.3 L891.4 116.0 L889.1 114.0 L886.9 112.3 L884.5 110.6 L882.1 109.3 L879.8 108.3 L877.3 107.4 L874.8 106.8 L872.5 106.5 L869.9 106.3 L867.4 106.5 L865.1 106.9 L862.6 107.5 L860.1 108.5 L857.8 109.6 L855.5 110.9 L853.1 112.5 L850.9 114.2 L848.7 116.1 L846.5 118.3 L844.4 120.6 L842.2 123.1 L840.1 125.8 L838.0 128.6 L835.9 131.5 L833.8 134.7 L831.7 137.9 L829.7 141.3 L827.6 144.8 L825.6 148.4 L823.5 152.1 L821.5 155.9 L819.5 159.8 L817.4 163.8 L815.4 167.9 L813.4 172.0 L811.4 176.2 L809.4 180.5 L807.3 184.9 L805.3 189.3 L803.3 193.7 L801.3 198.2 L799.3 202.8 L797.3 207.4 L795.3 212.0 L793.3 216.6 L791.3 221.3 L789.3 226.0 L787.3 230.8 L785.3 235.6 L783.2 240.3 L781.2 245.1 L779.2 249.9 L777.2 254.8 L775.2 259.6 L773.2 264.5 L771.2 269.3 L769.2 274.2 L767.2 279.0 L765.2 283.9 L763.2 288.8 L761.2 293.6 L759.2 298.5 L757.2 303.4 L755.2 308.2 L753.2 313.1 L751.2 318.0 L749.2 322.9 L747.2 327.7 L745.2 332.6 L743.2 337.5 L741.2 342.3 L739.2 347.2 L737.2 352.1 L735.2 356.9 L733.2 361.8 L731.2 366.7 L729.2 371.6 L727.2 376.4 L725.2 381.3 L723.2 386.2 L721.2 391.0 L719.2 395.9 L717.2 400.8 L715.2 405.6 L713.2 410.5 L711.2 415.4 L709.2 420.3 L707.2 425.1 L705.2 430.0 L703.2 434.9 L701.2 439.7 L699.2 444.6 L697.2 449.5 L695.2 454.3 L693.2 459.2 L691.2 464.1 L689.2 469.0 L687.2 473.8 L685.2 478.7 L683.2 483.6 L681.2 488.4 L679.2 493.3 L677.2 498.2 L675.2 503.0 L673.2 507.9 L671.2 512.8 L669.2 517.7 L667.2 522.5 L665.2 527.4 L663.2 532.3 L661.2 537.1 L659.2 542.0 L657.2 546.9 L655.2 551.7 L653.2 556.6 L651.2 561.5 L649.2 566.4 L647.2 571.2 L645.2 576.1 L643.2 581.0 L641.2 585.8 L639.2 590.7 L637.2 595.6 L635.2 600.4 L633.2 605.3 L631.2 610.2 L629.2 615.1 L627.2 619.9 L625.2 624.8 L623.2 629.7 L621.2 634.5 L619.2 639.4 L617.2 644.3 L615.2 649.1 L613.2 654.0 L611.2 658.9 L609.2 663.8 L607.2 668.6 L605.2 673.5 L603.2 678.4 L601.2 683.2 L599.2 688.1 L597.2 693.0 L595.2 697.8 L593.2 702.7 L591.2 707.6 L589.2 712.5 L587.2 717.3 L585.2 722.2 L583.2 727.1 L581.2 731.9 L579.2 736.8 L577.2 741.7 L575.2 746.5 L573.2 751.4 L571.2 756.3 L569.2 761.2 L567.2 766.0 L565.2 770.9 L563.2 775.8 L561.2 780.6 L559.2 785.5 L557.2 790.4 L555.2 795.2 L553.2 800.1 L551.2 805.0 L549.2 809.9 L547.2 814.7 L545.2 819.6 L543.2 824.5 L541.2 829.3 L539.2 834.2 L537.2 839.1 L535.2 843.9 L533.2 848.8 L531.2 853.7 L529.2 858.6 L527.2 863.4 L525.2 868.3 L523.2 873.2 L521.2 878.0 L519.2 882.9 L517.2 887.8 L515.2 892.6 L513.2 897.5 L511.2 902.4 L509.2 907.3 L507.2 912.1 L505.2 917.0 L503.2 921.9 L501.2 926.7 L499.2 931.6 L497.2 936.5 L495.2 941.3 L493.2 946.2 L491.2 951.1 L489.2 956.0 L487.2 960.8 L485.2 965.7 L483.2 970.6 L481.2 975.4 L479.2 980.3 L477.2 985.2 L475.2 990.0 L473.2 994.9 L471.2 999.8 L469.2 1004.7 L467.2 1009.5 L465.2 1014.4 L463.2 1019.3 L461.2 1024.1 L459.2 1029.0 L457.2 1033.9 L455.2 1038.7 L453.2 1043.6 L451.2 1048.5 L449.2 1053.4 L447.2 1058.2 L445.2 1063.1 L443.2 1068.0 L441.2 1072.8 L439.2 1077.7 L437.2 1082.6 L435.2 1087.4 L433.2 1092.3 L431.2 1097.2 L429.2 1102.1 L427.2 1106.9 L425.2 1111.8 L423.2 1116.7 L421.2 1121.5 L419.2 1126.4 L417.2 1131.3 L415.2 1136.1 L413.2 1141.0 L411.2 1145.9 L409.2 1150.8 L407.2 1155.6 L405.2 1160.5 L403.2 1165.4 L401.2 1170.2 L399.2 1175.1 L397.2 1180.0 L395.2 1184.8 L393.2 1189.7 L391.2 1194.6 L389.2 1199.5 L387.2 1204.3 L385.2 1209.2 L383.2 1214.1 L381.2 1218.9 L379.2 1223.8 L377.2 1228.7 L375.2 1233.5 L373.2 1238.4 L371.2 1243.3 L369.2 1248.2 L367.2 1253.0 L365.2 1257.9 L363.2 1262.8 L361.2 1267.6 L359.2 1272.5 L357.2 1277.4 L355.2 1282.2 L353.2 1287.1 L351.2 1292.0 L349.2 1296.9 L347.2 1301.7 L345.2 1306.6 L343.2 1311.5 L341.2 1316.3 L339.2 1321.2 L337.2 1326.1 L335.2 1330.9 L333.2 1335.8 L331.2 1340.7 L329.2 1345.6 L327.2 1350.4 L325.2 1355.3 L323.2 1360.2 L321.2 1365.0 L319.2 1369.9 L317.2 1374.8 L315.2 1379.6 L313.2 1384.5 L311.2 1389.4 L309.2 1394.3 L307.2 1399.1 L305.2 1404.0 L303.2 1408.9 L301.2 1413.7 L299.2 1418.6 L297.2 1423.5 L295.2 1428.3 L293.2 1433.2 L291.2 1438.1 L289.2 1443.0 L287.2 1447.8 L285.2 1452.7 L283.2 1457.6 L281.2 1462.4 L279.2 1467.3 L277.2 1472.2 L275.2 1477.0Z"/>
</g>
<g id="axes" fill="#000" shape-rendering="crispEdges">
<rect x="270" y="50" width="1772" height="8"/>
<rect x="270" y="1475" width="1772" height="9"/>
<rect x="270" y="50" width="8" height="1434"/>
<rect x="2034" y="50" width="8" height="1434"/>
<rect x="2042" y="1451" width="1" height="29"/>
<rect x="278" y="1410" width="10" height="8"/>
<rect x="278" y="1345" width="24" height="8"/>
<rect x="278" y="1281" width="10" height="8"/>
<rect x="278" y="1216" width="24" height="8"/>
<rect x="278" y="1151" width="10" height="8"/>
<rect x="278" y="1086" width="24" height="8"/>
<rect x="278" y="1022" width="10" height="8"/>
<rect x="278" y="957" width="24" height="8"/>
<rect x="278" y="892" width="10" height="8"/>
<rect x="278" y="827" width="24" height="8"/>
<rect x="278" y="762" width="10" height="8"/>
<rect x="278" y="698" width="24" height="8"/>
<rect x="278" y="633" width="10" height="8"/>
<rect x="278" y="568" width="24" height="8"/>
<rect x="278" y="503" width="10" height="8"/>
<rect x="278" y="439" width="24" height="8"/>
<rect x="278" y="374" width="10" height="8"/>
<rect x="278" y="309" width="24" height="8"/>
<rect x="278" y="244" width="10" height="8"/>
<rect x="278" y="180" width="24" height="8"/>
<rect x="278" y="115" width="10" height="8"/>
<rect x="564" y="1466" width="8" height="10"/>
<rect x="858" y="1451" width="8" height="24"/>
<rect x="1152" y="1466" width="8" height="10"/>
<rect x="1446" y="1451" width="8" height="24"/>
<rect x="1740" y="1466" width="8" height="10"/>
</g>
<text class="tk" transform="translate(243.00 1504.00) scale(0.9760 1)" text-anchor="end">0.0</text>
<text class="tk" transform="translate(243.00 1374.34) scale(0.9760 1)" text-anchor="end">0.1</text>
<text class="tk" transform="translate(243.00 1244.69) scale(0.9760 1)" text-anchor="end">0.2</text>
<text class="tk" transform="translate(243.00 1115.03) scale(0.9760 1)" text-anchor="end">0.3</text>
<text class="tk" transform="translate(243.00 985.38) scale(0.9760 1)" text-anchor="end">0.4</text>
<text class="tk" transform="translate(243.00 855.72) scale(0.9760 1)" text-anchor="end">0.5</text>
<text class="tk" transform="translate(243.00 726.07) scale(0.9760 1)" text-anchor="end">0.6</text>
<text class="tk" transform="translate(243.00 596.41) scale(0.9760 1)" text-anchor="end">0.7</text>
<text class="tk" transform="translate(243.00 466.76) scale(0.9760 1)" text-anchor="end">0.8</text>
<text class="tk" transform="translate(243.00 337.10) scale(0.9760 1)" text-anchor="end">0.9</text>
<text class="tk" transform="translate(243.00 207.45) scale(0.9760 1)" text-anchor="end">1.0</text>
<text class="tk" transform="translate(243.00 77.79) scale(0.9760 1)" text-anchor="end">1.1</text>
<text class="tk" transform="translate(274.30 1573.00) scale(0.9760 1)" text-anchor="middle">0</text>
<text class="tk" transform="translate(861.30 1573.00) scale(0.9760 1)" text-anchor="middle">100</text>
<text class="tk" transform="translate(1449.30 1573.00) scale(0.9760 1)" text-anchor="middle">200</text>
<text class="tk" transform="translate(2037.30 1573.00) scale(0.9760 1)" text-anchor="middle">300</text>
<text class="tt" transform="translate(1157.20 1661.50) scale(0.9970 1)" text-anchor="middle">Time (s)</text>
<text class="tt" transform="translate(98.80 765.20) rotate(-90) scale(1.0080 1)" text-anchor="middle">The mass fraction of<tspan dx="-3.5"> soot</tspan><tspan dx="3.5"> (g/L)</tspan></text>
<rect x="1350" y="187" width="106" height="8" fill="#000000" shape-rendering="crispEdges"/>
<text class="lg" transform="translate(1469.00 207.50) scale(0.9680 1)" text-anchor="start">0.033 kg/s</text>
<rect x="1350" y="280" width="106" height="8" fill="#ff0000" shape-rendering="crispEdges"/>
<text class="lg" transform="translate(1474.00 300.90) scale(0.9680 1)" text-anchor="start">0.048 kg/s</text>
<rect x="1350" y="374" width="106" height="8" fill="#00ff00" shape-rendering="crispEdges"/>
<text class="lg" transform="translate(1474.00 394.30) scale(0.9680 1)" text-anchor="start">0.063 kg/s</text>
<rect x="1350" y="467" width="106" height="8" fill="#0000ff" shape-rendering="crispEdges"/>
<text class="lg" transform="translate(1474.00 487.70) scale(0.9680 1)" text-anchor="start">0.078 kg/s</text>
<rect x="1350" y="561" width="106" height="8" fill="#00ffff" shape-rendering="crispEdges"/>
<text class="lg" transform="translate(1474.00 581.10) scale(0.9680 1)" text-anchor="start">0.093 kg/s</text>
<rect x="1350" y="654" width="106" height="8" fill="#ff00ff" shape-rendering="crispEdges"/>
<text class="lg" transform="translate(1474.00 674.50) scale(0.9680 1)" text-anchor="start">0.108 kg/s</text>
</svg>
</body></html>
